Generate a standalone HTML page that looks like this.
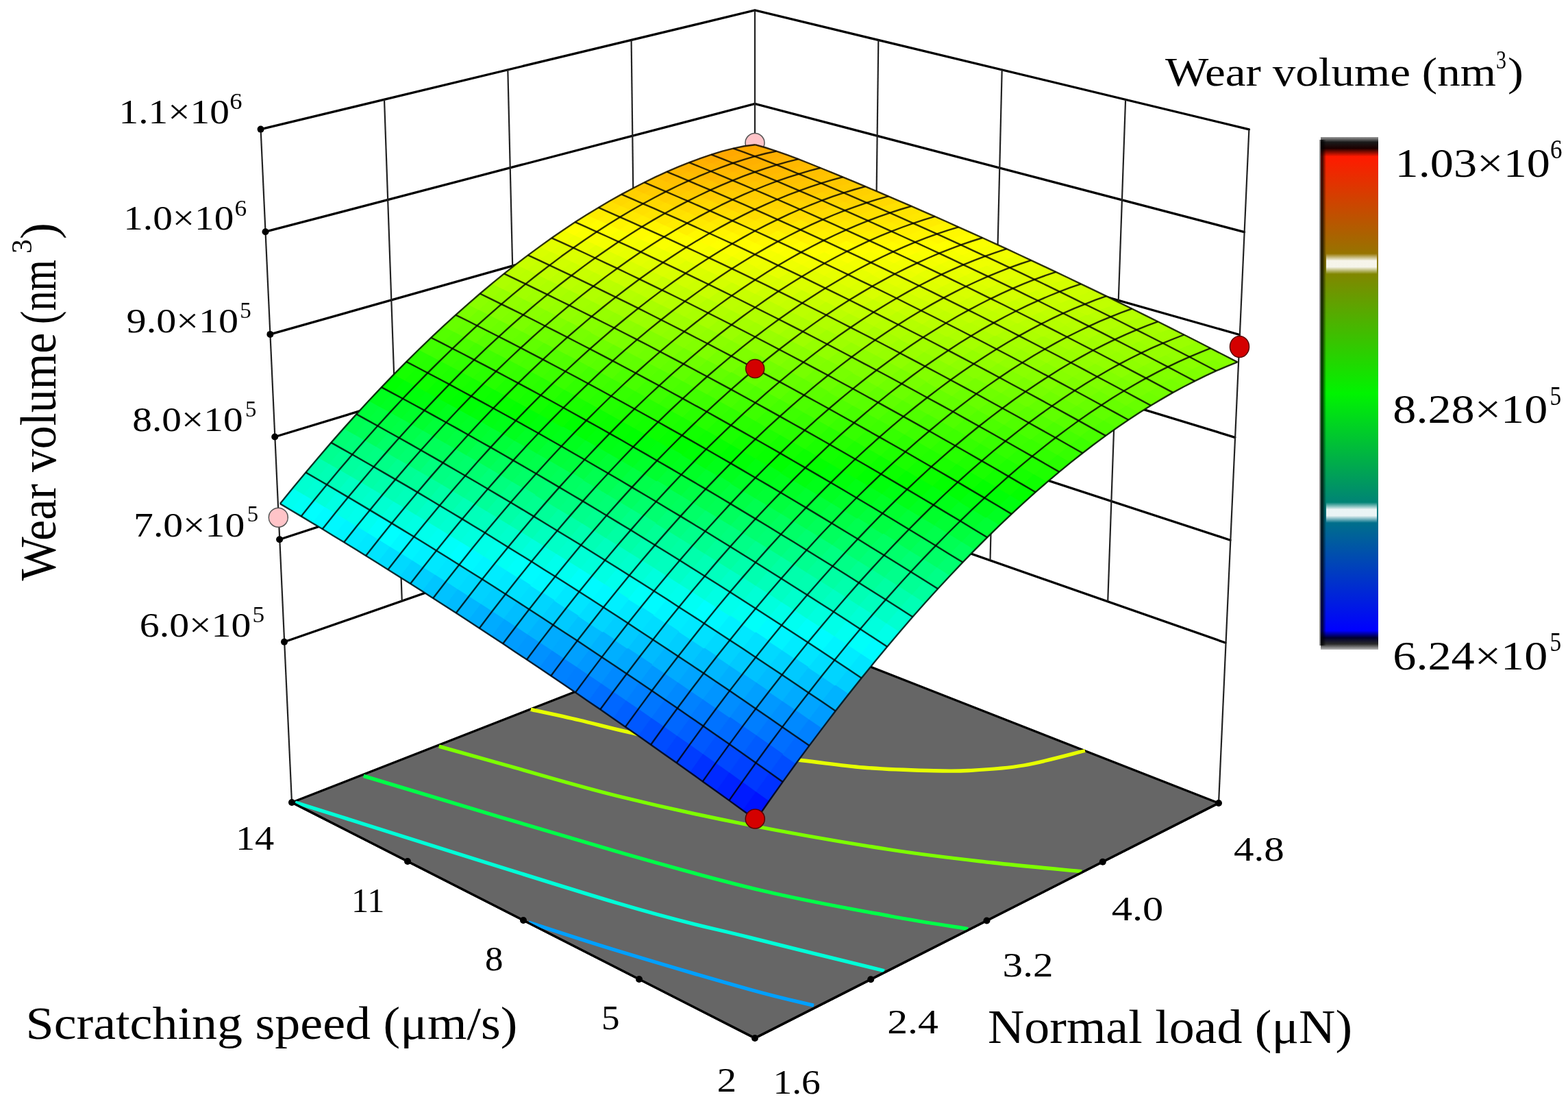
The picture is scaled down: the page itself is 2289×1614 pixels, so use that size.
<!DOCTYPE html><html><head><meta charset="utf-8"><title>Wear volume response surface</title><style>html,body{margin:0;padding:0;background:#fff}svg{display:block}</style></head><body><svg width="2289" height="1614" viewBox="0 0 2289 1614">
<rect width="2289" height="1614" fill="#fff"/>
<g fill="none" stroke="#000" stroke-width="3.3" stroke-linecap="round">
<polyline points="415.0,936.8 1102.0,697.5 1789.0,938.0"/>
<polyline points="408.1,787.2 1102.0,561.0 1795.9,788.2"/>
<polyline points="401.2,637.5 1102.0,424.5 1802.8,638.3"/>
<polyline points="394.4,487.9 1102.0,288.0 1809.6,488.5"/>
<polyline points="387.5,338.2 1102.0,151.5 1816.5,338.6"/>
<polyline points="380.6,188.6 1102.0,15.0 1823.4,188.8"/>
</g>
<g fill="none" stroke="#222" stroke-width="2.2">
<line x1="561.0" y1="145.2" x2="586.8" y2="877.0"/>
<line x1="1282.3" y1="58.5" x2="1273.8" y2="757.6"/>
<line x1="741.3" y1="101.8" x2="758.5" y2="817.1"/>
<line x1="1462.7" y1="101.9" x2="1445.5" y2="817.8"/>
<line x1="921.6" y1="58.4" x2="930.2" y2="757.3"/>
<line x1="1643.1" y1="145.4" x2="1617.2" y2="877.9"/>
<line x1="380.6" y1="188.6" x2="426.0" y2="1171.0"/>
<line x1="1823.4" y1="188.8" x2="1779.0" y2="1172.0"/>
<line x1="1102.0" y1="15.0" x2="1102.0" y2="907.0"/>
</g>
<g fill="#000">
<circle cx="415.0" cy="936.8" r="5"/>
<circle cx="408.1" cy="787.2" r="5"/>
<circle cx="401.2" cy="637.5" r="5"/>
<circle cx="394.4" cy="487.9" r="5"/>
<circle cx="387.5" cy="338.2" r="5"/>
<circle cx="380.6" cy="188.6" r="5"/>
</g>
<polygon points="426.0,1171.0 1102.0,1515.0 1779.0,1172.0 1102.0,907.0" fill="#666666" stroke="#000" stroke-width="3.2" stroke-linejoin="round"/>
<g fill="none" stroke-width="5.3">
<path d="M774.8 1035.3C786.7 1037.9 822.1 1045.4 846.0 1051.0C869.9 1056.6 886.1 1061.4 918.4 1068.7C950.7 1076.0 998.2 1088.2 1040.0 1095.0C1081.8 1101.8 1132.3 1105.3 1169.0 1109.5C1205.7 1113.7 1229.2 1117.5 1260.0 1120.0C1290.8 1122.5 1328.3 1123.8 1354.0 1124.5C1379.7 1125.2 1390.7 1125.8 1414.0 1124.5C1437.3 1123.2 1465.7 1121.8 1494.0 1117.0C1522.3 1112.2 1569.0 1099.1 1584.0 1095.5" stroke="#e6ff00"/>
<path d="M640.8 1089.1C657.3 1093.8 696.8 1105.0 740.0 1117.0C783.2 1129.0 842.3 1147.0 900.0 1161.2C957.7 1175.5 1019.3 1189.4 1086.0 1202.5C1152.7 1215.6 1239.3 1230.6 1300.0 1240.0C1360.7 1249.4 1403.5 1253.7 1450.0 1259.0C1496.5 1264.3 1557.7 1269.6 1579.2 1271.7" stroke="#7dff00"/>
<path d="M530.7 1132.4C592.2 1150.8 802.8 1214.6 900.0 1242.5C997.2 1270.4 1047.3 1284.2 1114.0 1300.0C1180.7 1315.8 1250.1 1327.8 1300.0 1337.0C1349.9 1346.2 1394.3 1352.4 1413.2 1355.5" stroke="#00ff48"/>
<path d="M431.0 1171.0C509.2 1195.4 789.4 1284.7 900.0 1317.5C1010.6 1350.3 1029.4 1351.6 1094.6 1368.1C1159.8 1384.6 1258.3 1408.6 1291.0 1416.7" stroke="#00ffd8"/>
<path d="M771.8 1346.0C793.2 1352.8 846.2 1370.7 900.0 1387.0C953.8 1403.3 1046.6 1430.6 1094.6 1444.0C1142.6 1457.4 1172.4 1463.4 1188.0 1467.3" stroke="#00a0ff"/>
</g>
<polyline points="426.0,1171.0 1102.0,1515.0 1779.0,1172.0" fill="none" stroke="#000" stroke-width="3.2" stroke-linejoin="round"/>
<g fill="#000">
<circle cx="426.0" cy="1171.0" r="5"/>
<circle cx="1779.0" cy="1172.0" r="5"/>
<circle cx="595.0" cy="1257.0" r="5"/>
<circle cx="1609.8" cy="1257.8" r="5"/>
<circle cx="764.0" cy="1343.0" r="5"/>
<circle cx="1440.5" cy="1343.5" r="5"/>
<circle cx="933.0" cy="1429.0" r="5"/>
<circle cx="1271.2" cy="1429.2" r="5"/>
<circle cx="1102.0" cy="1515.0" r="5"/>
</g>
<circle cx="1102" cy="208.5" r="14" fill="#ffc4c8" stroke="#555" stroke-width="1.5"/>
<g stroke-width="1.2" stroke-linejoin="round">
<path fill="#0013ff" stroke="#0013ff" d="M1103.6 1196.5 L1123.1 1168.5 1103.5 1154.4 1083.9 1182.2Z"/>
<path fill="#001bff" stroke="#001bff" d="M1083.9 1182.2 L1103.5 1154.4 1084.0 1140.4 1064.4 1168.1Z"/>
<path fill="#0022ff" stroke="#0022ff" d="M1064.4 1168.1 L1084.0 1140.4 1064.6 1126.6 1045.1 1154.2Z"/>
<path fill="#002aff" stroke="#002aff" d="M1045.1 1154.2 L1064.6 1126.6 1045.3 1112.9 1025.8 1140.4Z"/>
<path fill="#0031ff" stroke="#0031ff" d="M1025.8 1140.4 L1045.3 1112.9 1026.2 1099.4 1006.7 1126.7ZM1123.1 1168.5 L1142.6 1141.1 1123.0 1127.1 1103.5 1154.4Z"/>
<path fill="#003dff" stroke="#003dff" d="M1006.7 1126.7 L1026.2 1099.4 1007.2 1086.1 987.7 1113.2Z"/>
<path fill="#0044ff" stroke="#0044ff" d="M987.7 1113.2 L1007.2 1086.1 988.3 1072.9 968.8 1099.9Z"/>
<path fill="#004cff" stroke="#004cff" d="M968.8 1099.9 L988.3 1072.9 969.5 1059.8 950.1 1086.7ZM1142.6 1141.1 L1162.0 1114.3 1142.4 1100.5 1123.0 1127.1Z"/>
<path fill="#0050ff" stroke="#0050ff" d="M950.1 1086.7 L969.5 1059.8 950.9 1046.9 931.4 1073.6ZM1045.3 1112.9 L1064.8 1086.1 1045.6 1072.7 1026.2 1099.4Z"/>
<path fill="#0058ff" stroke="#0058ff" d="M931.4 1073.6 L950.9 1046.9 932.3 1034.1 912.9 1060.7ZM1026.2 1099.4 L1045.6 1072.7 1026.6 1059.5 1007.2 1086.1Z"/>
<path fill="#005fff" stroke="#005fff" d="M912.9 1060.7 L932.3 1034.1 913.9 1021.5 894.5 1048.0ZM1007.2 1086.1 L1026.6 1059.5 1007.6 1046.4 988.3 1072.9Z"/>
<path fill="#0067ff" stroke="#0067ff" d="M894.5 1048.0 L913.9 1021.5 895.6 1009.0 876.3 1035.3ZM988.3 1072.9 L1007.6 1046.4 988.9 1033.5 969.5 1059.8ZM1162.0 1114.3 L1181.4 1088.1 1161.7 1074.4 1142.4 1100.5Z"/>
<path fill="#006eff" stroke="#006eff" d="M876.3 1035.3 L895.6 1009.0 877.4 996.6 858.1 1022.9ZM969.5 1059.8 L988.9 1033.5 970.2 1020.7 950.9 1046.9ZM1142.4 1100.5 L1161.7 1074.4 1142.1 1060.9 1122.8 1086.8Z"/>
<path fill="#0076ff" stroke="#0076ff" d="M858.1 1022.9 L877.4 996.6 859.4 984.4 840.0 1010.5ZM950.9 1046.9 L970.2 1020.7 951.6 1008.0 932.3 1034.1ZM1122.8 1086.8 L1142.1 1060.9 1122.7 1047.5 1103.4 1073.2Z"/>
<path fill="#007eff" stroke="#007eff" d="M840.0 1010.5 L859.4 984.4 841.4 972.3 822.1 998.3ZM932.3 1034.1 L951.6 1008.0 933.2 995.5 913.9 1021.5ZM1103.4 1073.2 L1122.7 1047.5 1103.3 1034.2 1084.1 1059.9Z"/>
<path fill="#0081ff" stroke="#0081ff" d="M822.1 998.3 L841.4 972.3 823.6 960.4 804.3 986.3ZM1007.6 1046.4 L1026.9 1020.6 1008.1 1007.8 988.9 1033.5ZM1181.4 1088.1 L1200.6 1062.6 1180.9 1049.0 1161.7 1074.4Z"/>
<path fill="#0089ff" stroke="#0089ff" d="M804.3 986.3 L823.6 960.4 805.8 948.6 786.6 974.3ZM895.6 1009.0 L914.9 983.2 896.7 971.0 877.4 996.6ZM988.9 1033.5 L1008.1 1007.8 989.4 995.1 970.2 1020.7ZM1161.7 1074.4 L1180.9 1049.0 1161.3 1035.6 1142.1 1060.9Z"/>
<path fill="#0091ff" stroke="#0091ff" d="M786.6 974.3 L805.8 948.6 788.2 936.9 769.0 962.5ZM877.4 996.6 L896.7 971.0 878.6 958.9 859.4 984.4ZM970.2 1020.7 L989.4 995.1 970.9 982.6 951.6 1008.0ZM1142.1 1060.9 L1161.3 1035.6 1141.8 1022.3 1122.7 1047.5Z"/>
<path fill="#0098ff" stroke="#0098ff" d="M769.0 962.5 L788.2 936.9 770.7 925.4 751.5 950.9ZM859.4 984.4 L878.6 958.9 860.6 946.9 841.4 972.3ZM951.6 1008.0 L970.9 982.6 952.4 970.2 933.2 995.5ZM1122.7 1047.5 L1141.8 1022.3 1122.5 1009.2 1103.3 1034.2Z"/>
<path fill="#009cff" stroke="#009cff" d="M751.5 950.9 L770.7 925.4 753.4 914.0 734.2 939.3ZM1026.9 1020.6 L1046.1 995.3 1027.3 982.6 1008.1 1007.8ZM1200.6 1062.6 L1219.7 1037.6 1200.0 1024.1 1180.9 1049.0Z"/>
<path fill="#00a4ff" stroke="#00a4ff" d="M734.2 939.3 L753.4 914.0 736.1 902.7 716.9 927.9ZM1008.1 1007.8 L1027.3 982.6 1008.6 970.1 989.4 995.1ZM1180.9 1049.0 L1200.0 1024.1 1180.4 1010.9 1161.3 1035.6Z"/>
<path fill="#00abff" stroke="#00abff" d="M716.9 927.9 L736.1 902.7 718.9 891.6 699.8 916.7ZM805.8 948.6 L825.0 923.4 807.4 911.9 788.2 936.9ZM989.4 995.1 L1008.6 970.1 990.0 957.7 970.9 982.6ZM1161.3 1035.6 L1180.4 1010.9 1160.9 997.7 1141.8 1022.3Z"/>
<path fill="#00afff" stroke="#00afff" d="M699.8 916.7 L718.9 891.6 701.8 880.5 682.7 905.5ZM896.7 971.0 L915.9 945.9 897.7 933.9 878.6 958.9ZM1065.1 1008.1 L1084.2 983.4 1065.2 970.7 1046.1 995.3Z"/>
<path fill="#00b7ff" stroke="#00b7ff" d="M682.7 905.5 L701.8 880.5 684.9 869.7 665.8 894.5ZM1046.1 995.3 L1065.2 970.7 1046.4 958.1 1027.3 982.6Z"/>
<path fill="#00bbff" stroke="#00bbff" d="M665.8 894.5 L684.9 869.7 668.0 858.9 649.0 883.7ZM770.7 925.4 L789.9 900.5 772.5 889.2 753.4 914.0ZM860.6 946.9 L879.8 922.1 861.9 910.4 842.8 935.1ZM952.4 970.2 L971.5 945.5 953.2 933.4 934.1 958.0ZM1122.5 1009.2 L1141.6 984.7 1122.3 971.9 1103.3 996.2ZM1200.0 1024.1 L1219.0 999.9 1199.4 986.7 1180.4 1010.9Z"/>
<path fill="#00c2ff" stroke="#00c2ff" d="M649.0 883.7 L668.0 858.9 651.3 848.3 632.2 872.9ZM842.8 935.1 L861.9 910.4 844.1 898.8 825.0 923.4ZM934.1 958.0 L953.2 933.4 934.9 921.4 915.9 945.9ZM1103.3 996.2 L1122.3 971.9 1103.2 959.2 1084.2 983.4ZM1180.4 1010.9 L1199.4 986.7 1179.9 973.7 1160.9 997.7Z"/>
<path fill="#00c6ff" stroke="#00c6ff" d="M632.2 872.9 L651.3 848.3 634.7 837.8 615.6 862.3ZM736.1 902.7 L755.2 878.0 738.0 867.0 718.9 891.6ZM1008.6 970.1 L1027.7 945.7 1009.1 933.4 990.0 957.7Z"/>
<path fill="#00ceff" stroke="#00ceff" d="M615.6 862.3 L634.7 837.8 618.1 827.4 599.1 851.8ZM718.9 891.6 L738.0 867.0 720.9 856.1 701.8 880.5ZM807.4 911.9 L826.5 887.4 808.9 876.1 789.9 900.5ZM897.7 933.9 L916.8 909.5 898.8 897.8 879.8 922.1ZM990.0 957.7 L1009.1 933.4 990.6 921.3 971.5 945.5ZM1238.7 1013.2 L1257.6 989.5 1237.9 976.3 1219.0 999.9Z"/>
<path fill="#00d2ff" stroke="#00d2ff" d="M599.1 851.8 L618.1 827.4 601.7 817.1 582.7 841.4ZM701.8 880.5 L720.9 856.1 703.9 845.3 684.9 869.7ZM1065.2 970.7 L1084.3 946.6 1065.4 934.2 1046.4 958.1ZM1141.6 984.7 L1160.5 960.9 1141.3 948.1 1122.3 971.9Z"/>
<path fill="#00d9ff" stroke="#00d9ff" d="M582.7 841.4 L601.7 817.1 585.4 807.0 566.4 831.2ZM684.9 869.7 L703.9 845.3 687.0 834.7 668.0 858.9ZM1046.4 958.1 L1065.4 934.2 1046.7 921.9 1027.7 945.7ZM1122.3 971.9 L1141.3 948.1 1122.2 935.6 1103.2 959.2Z"/>
<path fill="#00ddff" stroke="#00ddff" d="M566.4 831.2 L585.4 807.0 569.1 796.9 550.2 821.0ZM668.0 858.9 L687.0 834.7 670.3 824.2 651.3 848.3ZM772.5 889.2 L791.5 864.9 774.2 853.9 755.2 878.0ZM861.9 910.4 L880.9 886.3 863.1 874.8 844.1 898.8ZM953.2 933.4 L972.2 909.3 953.9 897.5 934.9 921.4ZM1199.4 986.7 L1218.3 963.2 1198.8 950.3 1179.9 973.7Z"/>
<path fill="#00e5ff" stroke="#00e5ff" d="M550.2 821.0 L569.1 796.9 553.0 787.0 534.1 811.0ZM651.3 848.3 L670.3 824.2 653.6 813.8 634.7 837.8ZM844.1 898.8 L863.1 874.8 845.5 863.5 826.5 887.4ZM1179.9 973.7 L1198.8 950.3 1179.4 937.6 1160.5 960.9ZM1257.6 989.5 L1276.5 966.3 1256.7 953.2 1237.9 976.3Z"/>
<path fill="#00e8ff" stroke="#00e8ff" d="M534.1 811.0 L553.0 787.0 537.0 777.2 518.1 801.1ZM634.7 837.8 L653.6 813.8 637.1 803.5 618.1 827.4ZM738.0 867.0 L757.0 843.0 739.9 832.2 720.9 856.1ZM826.5 887.4 L845.5 863.5 827.9 852.3 808.9 876.1ZM916.8 909.5 L935.8 885.7 917.8 874.2 898.8 897.8ZM1009.1 933.4 L1028.0 909.7 1009.5 897.7 990.6 921.3ZM1084.3 946.6 L1103.2 923.1 1084.3 910.8 1065.4 934.2Z"/>
<path fill="#00ecff" stroke="#00ecff" d="M518.1 801.1 L537.0 777.2 521.1 767.6 502.2 791.3ZM720.9 856.1 L739.9 832.2 722.9 821.6 703.9 845.3ZM990.6 921.3 L1009.5 897.7 991.1 885.9 972.2 909.3ZM1160.5 960.9 L1179.4 937.6 1160.2 925.0 1141.3 948.1ZM1237.9 976.3 L1256.7 953.2 1237.1 940.3 1218.3 963.2Z"/>
<path fill="#00f4ff" stroke="#00f4ff" d="M502.2 791.3 L521.1 767.6 505.3 758.0 486.4 781.7ZM601.7 817.1 L620.6 793.3 604.3 783.3 585.4 807.0ZM703.9 845.3 L722.9 821.6 706.0 811.0 687.0 834.7ZM972.2 909.3 L991.1 885.9 972.9 874.1 953.9 897.5ZM1141.3 948.1 L1160.2 925.0 1141.0 912.5 1122.2 935.6ZM1218.3 963.2 L1237.1 940.3 1217.6 927.5 1198.8 950.3Z"/>
<path fill="#00f8ff" stroke="#00f8ff" d="M486.4 781.7 L505.3 758.0 489.5 748.6 470.7 772.1ZM585.4 807.0 L604.3 783.3 588.0 773.4 569.1 796.9ZM687.0 834.7 L706.0 811.0 689.2 800.6 670.3 824.2ZM791.5 864.9 L810.5 841.3 793.1 830.4 774.2 853.9ZM880.9 886.3 L899.9 862.7 882.1 851.4 863.1 874.8ZM1046.7 921.9 L1065.6 898.6 1046.9 886.6 1028.0 909.7Z"/>
<path fill="#00fbff" stroke="#00fbff" d="M470.7 772.1 L489.5 748.6 473.9 739.3 455.1 762.7ZM774.2 853.9 L793.1 830.4 775.9 819.6 757.0 843.0ZM863.1 874.8 L882.1 851.4 864.4 840.2 845.5 863.5ZM953.9 897.5 L972.9 874.1 954.7 862.5 935.8 885.7ZM1122.2 935.6 L1141.0 912.5 1122.0 900.2 1103.2 923.1ZM1198.8 950.3 L1217.6 927.5 1198.2 914.9 1179.4 937.6ZM1276.5 966.3 L1295.2 943.7 1275.4 930.8 1256.7 953.2Z"/>
<path fill="#00ffff" stroke="#00ffff" d="M455.1 762.7 L473.9 739.3 458.4 730.1 439.6 753.4ZM569.1 796.9 L588.0 773.4 571.9 763.6 553.0 787.0ZM670.3 824.2 L689.2 800.6 672.5 790.3 653.6 813.8ZM1028.0 909.7 L1046.9 886.6 1028.4 874.7 1009.5 897.7Z"/>
<path fill="#00fff5" stroke="#00fff5" d="M439.6 753.4 L458.4 730.1 442.9 721.0 424.2 744.2ZM739.9 832.2 L758.8 808.9 741.7 798.4 722.9 821.6ZM1009.5 897.7 L1028.4 874.7 1010.0 863.0 991.1 885.9Z"/>
<path fill="#00fff1" stroke="#00fff1" d="M424.2 744.2 L442.9 721.0 427.6 712.0 408.9 735.1ZM537.0 777.2 L555.8 753.9 539.9 744.4 521.1 767.6ZM637.1 803.5 L655.9 780.2 639.5 770.1 620.6 793.3ZM827.9 852.3 L846.8 829.1 829.3 818.2 810.5 841.3ZM917.8 874.2 L936.7 851.0 918.7 839.7 899.9 862.7ZM1084.3 910.8 L1103.1 888.0 1084.4 876.0 1065.6 898.6ZM1160.2 925.0 L1178.9 902.4 1159.8 890.1 1141.0 912.5ZM1237.1 940.3 L1255.8 918.0 1236.3 905.3 1217.6 927.5Z"/>
<path fill="#0039ff" stroke="#0039ff" d="M1103.5 1154.4 L1123.0 1127.1 1103.4 1113.3 1084.0 1140.4Z"/>
<path fill="#0041ff" stroke="#0041ff" d="M1084.0 1140.4 L1103.4 1113.3 1084.0 1099.6 1064.6 1126.6Z"/>
<path fill="#0048ff" stroke="#0048ff" d="M1064.6 1126.6 L1084.0 1099.6 1064.8 1086.1 1045.3 1112.9Z"/>
<path fill="#0085ff" stroke="#0085ff" d="M913.9 1021.5 L933.2 995.5 914.9 983.2 895.6 1009.0ZM1084.1 1059.9 L1103.3 1034.2 1084.1 1021.1 1064.9 1046.6Z"/>
<path fill="#00a0ff" stroke="#00a0ff" d="M841.4 972.3 L860.6 946.9 842.8 935.1 823.6 960.4ZM933.2 995.5 L952.4 970.2 934.1 958.0 914.9 983.2ZM1103.3 1034.2 L1122.5 1009.2 1103.3 996.2 1084.1 1021.1Z"/>
<path fill="#00a8ff" stroke="#00a8ff" d="M823.6 960.4 L842.8 935.1 825.0 923.4 805.8 948.6ZM914.9 983.2 L934.1 958.0 915.9 945.9 896.7 971.0ZM1084.1 1021.1 L1103.3 996.2 1084.2 983.4 1065.1 1008.1Z"/>
<path fill="#00b3ff" stroke="#00b3ff" d="M788.2 936.9 L807.4 911.9 789.9 900.5 770.7 925.4ZM878.6 958.9 L897.7 933.9 879.8 922.1 860.6 946.9ZM970.9 982.6 L990.0 957.7 971.5 945.5 952.4 970.2ZM1141.8 1022.3 L1160.9 997.7 1141.6 984.7 1122.5 1009.2ZM1219.7 1037.6 L1238.7 1013.2 1219.0 999.9 1200.0 1024.1Z"/>
<path fill="#00beff" stroke="#00beff" d="M753.4 914.0 L772.5 889.2 755.2 878.0 736.1 902.7ZM1027.3 982.6 L1046.4 958.1 1027.7 945.7 1008.6 970.1Z"/>
<path fill="#00f0ff" stroke="#00f0ff" d="M618.1 827.4 L637.1 803.5 620.6 793.3 601.7 817.1ZM808.9 876.1 L827.9 852.3 810.5 841.3 791.5 864.9ZM898.8 897.8 L917.8 874.2 899.9 862.7 880.9 886.3ZM1065.4 934.2 L1084.3 910.8 1065.6 898.6 1046.7 921.9Z"/>
<path fill="#00fffa" stroke="#00fffa" d="M553.0 787.0 L571.9 763.6 555.8 753.9 537.0 777.2ZM653.6 813.8 L672.5 790.3 655.9 780.2 637.1 803.5ZM757.0 843.0 L775.9 819.6 758.8 808.9 739.9 832.2ZM845.5 863.5 L864.4 840.2 846.8 829.1 827.9 852.3ZM935.8 885.7 L954.7 862.5 936.7 851.0 917.8 874.2ZM1103.2 923.1 L1122.0 900.2 1103.1 888.0 1084.3 910.8ZM1179.4 937.6 L1198.2 914.9 1178.9 902.4 1160.2 925.0ZM1256.7 953.2 L1275.4 930.8 1255.8 918.0 1237.1 940.3Z"/>
<path fill="#00ffec" stroke="#00ffec" d="M521.1 767.6 L539.9 744.4 524.0 734.9 505.3 758.0ZM620.6 793.3 L639.5 770.1 623.1 760.2 604.3 783.3ZM722.9 821.6 L741.7 798.4 724.8 787.9 706.0 811.0ZM810.5 841.3 L829.3 818.2 812.0 807.4 793.1 830.4ZM899.9 862.7 L918.7 839.7 900.9 828.5 882.1 851.4ZM991.1 885.9 L1010.0 863.0 991.7 851.4 972.9 874.1ZM1065.6 898.6 L1084.4 876.0 1065.7 864.1 1046.9 886.6Z"/>
<path fill="#00ffe8" stroke="#00ffe8" d="M505.3 758.0 L524.0 734.9 508.3 725.6 489.5 748.6ZM706.0 811.0 L724.8 787.9 708.0 777.6 689.2 800.6ZM972.9 874.1 L991.7 851.4 973.5 839.9 954.7 862.5ZM1141.0 912.5 L1159.8 890.1 1140.8 877.9 1122.0 900.2ZM1217.6 927.5 L1236.3 905.3 1216.9 892.8 1198.2 914.9ZM1295.2 943.7 L1313.8 921.7 1294.0 908.9 1275.4 930.8Z"/>
<path fill="#00ffe3" stroke="#00ffe3" d="M489.5 748.6 L508.3 725.6 492.6 716.4 473.9 739.3ZM604.3 783.3 L623.1 760.2 606.8 750.4 588.0 773.4ZM793.1 830.4 L812.0 807.4 794.7 796.7 775.9 819.6ZM882.1 851.4 L900.9 828.5 883.2 817.4 864.4 840.2ZM1046.9 886.6 L1065.7 864.1 1047.2 852.3 1028.4 874.7Z"/>
<path fill="#00ffda" stroke="#00ffda" d="M473.9 739.3 L492.6 716.4 477.1 707.3 458.4 730.1ZM571.9 763.6 L590.7 740.7 574.6 731.2 555.8 753.9ZM672.5 790.3 L691.3 767.5 674.7 757.4 655.9 780.2ZM864.4 840.2 L883.2 817.4 865.6 806.5 846.8 829.1ZM1028.4 874.7 L1047.2 852.3 1028.8 840.7 1010.0 863.0Z"/>
<path fill="#00ffd5" stroke="#00ffd5" d="M458.4 730.1 L477.1 707.3 461.6 698.3 442.9 721.0ZM758.8 808.9 L777.6 786.1 760.6 775.7 741.7 798.4ZM846.8 829.1 L865.6 806.5 848.1 795.6 829.3 818.2ZM936.7 851.0 L955.5 828.5 937.5 817.3 918.7 839.7ZM1103.1 888.0 L1121.9 865.8 1103.1 853.9 1084.4 876.0ZM1178.9 902.4 L1197.6 880.5 1178.4 868.2 1159.8 890.1ZM1255.8 918.0 L1274.4 896.2 1254.9 883.7 1236.3 905.3Z"/>
<path fill="#00ffd1" stroke="#00ffd1" d="M442.9 721.0 L461.6 698.3 446.3 689.4 427.6 712.0ZM555.8 753.9 L574.6 731.2 558.6 721.7 539.9 744.4ZM655.9 780.2 L674.7 757.4 658.2 747.5 639.5 770.1ZM1010.0 863.0 L1028.8 840.7 1010.5 829.2 991.7 851.4ZM1313.8 921.7 L1332.3 900.3 1312.5 887.6 1294.0 908.9Z"/>
<path fill="#0054ff" stroke="#0054ff" d="M1123.0 1127.1 L1142.4 1100.5 1122.8 1086.8 1103.4 1113.3Z"/>
<path fill="#005bff" stroke="#005bff" d="M1103.4 1113.3 L1122.8 1086.8 1103.4 1073.2 1084.0 1099.6Z"/>
<path fill="#0063ff" stroke="#0063ff" d="M1084.0 1099.6 L1103.4 1073.2 1084.1 1059.9 1064.8 1086.1Z"/>
<path fill="#006bff" stroke="#006bff" d="M1064.8 1086.1 L1084.1 1059.9 1064.9 1046.6 1045.6 1072.7Z"/>
<path fill="#0072ff" stroke="#0072ff" d="M1045.6 1072.7 L1064.9 1046.6 1045.9 1033.5 1026.6 1059.5Z"/>
<path fill="#007aff" stroke="#007aff" d="M1026.6 1059.5 L1045.9 1033.5 1026.9 1020.6 1007.6 1046.4Z"/>
<path fill="#00caff" stroke="#00caff" d="M825.0 923.4 L844.1 898.8 826.5 887.4 807.4 911.9ZM915.9 945.9 L934.9 921.4 916.8 909.5 897.7 933.9ZM1084.2 983.4 L1103.2 959.2 1084.3 946.6 1065.2 970.7ZM1160.9 997.7 L1179.9 973.7 1160.5 960.9 1141.6 984.7Z"/>
<path fill="#00d5ff" stroke="#00d5ff" d="M789.9 900.5 L808.9 876.1 791.5 864.9 772.5 889.2ZM879.8 922.1 L898.8 897.8 880.9 886.3 861.9 910.4ZM971.5 945.5 L990.6 921.3 972.2 909.3 953.2 933.4ZM1219.0 999.9 L1237.9 976.3 1218.3 963.2 1199.4 986.7Z"/>
<path fill="#00e1ff" stroke="#00e1ff" d="M755.2 878.0 L774.2 853.9 757.0 843.0 738.0 867.0ZM934.9 921.4 L953.9 897.5 935.8 885.7 916.8 909.5ZM1027.7 945.7 L1046.7 921.9 1028.0 909.7 1009.1 933.4ZM1103.2 959.2 L1122.2 935.6 1103.2 923.1 1084.3 946.6Z"/>
<path fill="#00ffde" stroke="#00ffde" d="M588.0 773.4 L606.8 750.4 590.7 740.7 571.9 763.6ZM689.2 800.6 L708.0 777.6 691.3 767.5 672.5 790.3ZM775.9 819.6 L794.7 796.7 777.6 786.1 758.8 808.9ZM954.7 862.5 L973.5 839.9 955.5 828.5 936.7 851.0ZM1122.0 900.2 L1140.8 877.9 1121.9 865.8 1103.1 888.0ZM1198.2 914.9 L1216.9 892.8 1197.6 880.5 1178.9 902.4ZM1275.4 930.8 L1294.0 908.9 1274.4 896.2 1255.8 918.0Z"/>
<path fill="#00ffcc" stroke="#00ffcc" d="M539.9 744.4 L558.6 721.7 542.7 712.4 524.0 734.9ZM639.5 770.1 L658.2 747.5 641.8 737.7 623.1 760.2ZM741.7 798.4 L760.6 775.7 743.6 765.4 724.8 787.9ZM829.3 818.2 L848.1 795.6 830.8 785.0 812.0 807.4ZM918.7 839.7 L937.5 817.3 919.7 806.2 900.9 828.5ZM1084.4 876.0 L1103.1 853.9 1084.4 842.1 1065.7 864.1ZM1159.8 890.1 L1178.4 868.2 1159.4 856.2 1140.8 877.9ZM1236.3 905.3 L1254.9 883.7 1235.5 871.3 1216.9 892.8Z"/>
<path fill="#00ffc7" stroke="#00ffc7" d="M524.0 734.9 L542.7 712.4 527.0 703.2 508.3 725.6ZM623.1 760.2 L641.8 737.7 625.6 728.0 606.8 750.4ZM724.8 787.9 L743.6 765.4 726.8 755.2 708.0 777.6ZM812.0 807.4 L830.8 785.0 813.5 774.4 794.7 796.7ZM900.9 828.5 L919.7 806.2 902.0 795.2 883.2 817.4ZM991.7 851.4 L1010.5 829.2 992.3 817.8 973.5 839.9ZM1065.7 864.1 L1084.4 842.1 1065.9 830.5 1047.2 852.3ZM1294.0 908.9 L1312.5 887.6 1292.9 875.1 1274.4 896.2Z"/>
<path fill="#00ffc3" stroke="#00ffc3" d="M508.3 725.6 L527.0 703.2 511.3 694.0 492.6 716.4ZM1140.8 877.9 L1159.4 856.2 1140.5 844.2 1121.9 865.8ZM1216.9 892.8 L1235.5 871.3 1216.2 859.1 1197.6 880.5Z"/>
<path fill="#00ffba" stroke="#00ffba" d="M492.6 716.4 L511.3 694.0 495.7 685.0 477.1 707.3ZM590.7 740.7 L609.4 718.4 593.3 708.9 574.6 731.2ZM691.3 767.5 L710.1 745.2 693.5 735.2 674.7 757.4ZM955.5 828.5 L974.2 806.5 956.2 795.4 937.5 817.3ZM1121.9 865.8 L1140.5 844.2 1121.7 832.4 1103.1 853.9ZM1197.6 880.5 L1216.2 859.1 1197.0 847.0 1178.4 868.2Z"/>
<path fill="#00ffb5" stroke="#00ffb5" d="M477.1 707.3 L495.7 685.0 480.2 676.2 461.6 698.3ZM574.6 731.2 L593.3 708.9 577.3 699.6 558.6 721.7ZM674.7 757.4 L693.5 735.2 676.9 725.4 658.2 747.5ZM777.6 786.1 L796.3 763.9 779.3 753.6 760.6 775.7ZM865.6 806.5 L884.4 784.4 866.9 773.7 848.1 795.6ZM1028.8 840.7 L1047.4 818.9 1029.1 807.5 1010.5 829.2ZM1254.9 883.7 L1273.4 862.7 1253.9 850.4 1235.5 871.3ZM1332.3 900.3 L1350.7 879.5 1331.0 867.0 1312.5 887.6Z"/>
<path fill="#00ffb0" stroke="#00ffb0" d="M461.6 698.3 L480.2 676.2 464.9 667.4 446.3 689.4ZM760.6 775.7 L779.3 753.6 762.3 743.4 743.6 765.4ZM848.1 795.6 L866.9 773.7 849.5 763.1 830.8 785.0ZM937.5 817.3 L956.2 795.4 938.4 784.4 919.7 806.2ZM1103.1 853.9 L1121.7 832.4 1103.0 820.7 1084.4 842.1ZM1178.4 868.2 L1197.0 847.0 1178.0 835.0 1159.4 856.2Z"/>
<path fill="#008dff" stroke="#008dff" d="M1064.9 1046.6 L1084.1 1021.1 1065.1 1008.1 1045.9 1033.5Z"/>
<path fill="#0095ff" stroke="#0095ff" d="M1045.9 1033.5 L1065.1 1008.1 1046.1 995.3 1026.9 1020.6Z"/>
<path fill="#00ffbe" stroke="#00ffbe" d="M606.8 750.4 L625.6 728.0 609.4 718.4 590.7 740.7ZM708.0 777.6 L726.8 755.2 710.1 745.2 691.3 767.5ZM794.7 796.7 L813.5 774.4 796.3 763.9 777.6 786.1ZM883.2 817.4 L902.0 795.2 884.4 784.4 865.6 806.5ZM973.5 839.9 L992.3 817.8 974.2 806.5 955.5 828.5ZM1047.2 852.3 L1065.9 830.5 1047.4 818.9 1028.8 840.7ZM1274.4 896.2 L1292.9 875.1 1273.4 862.7 1254.9 883.7Z"/>
<path fill="#00ffac" stroke="#00ffac" d="M558.6 721.7 L577.3 699.6 561.4 690.4 542.7 712.4ZM658.2 747.5 L676.9 725.4 660.5 715.7 641.8 737.7ZM1010.5 829.2 L1029.1 807.5 1010.9 796.3 992.3 817.8ZM1084.4 842.1 L1103.0 820.7 1084.5 809.2 1065.9 830.5ZM1159.4 856.2 L1178.0 835.0 1159.0 823.2 1140.5 844.2ZM1235.5 871.3 L1253.9 850.4 1234.6 838.3 1216.2 859.1ZM1312.5 887.6 L1331.0 867.0 1311.3 854.5 1292.9 875.1Z"/>
<path fill="#00ffa7" stroke="#00ffa7" d="M542.7 712.4 L561.4 690.4 545.6 681.2 527.0 703.2ZM641.8 737.7 L660.5 715.7 644.2 706.1 625.6 728.0ZM743.6 765.4 L762.3 743.4 745.5 733.3 726.8 755.2ZM830.8 785.0 L849.5 763.1 832.2 752.6 813.5 774.4ZM919.7 806.2 L938.4 784.4 920.7 773.6 902.0 795.2Z"/>
<path fill="#00ffa3" stroke="#00ffa3" d="M527.0 703.2 L545.6 681.2 529.9 672.2 511.3 694.0ZM726.8 755.2 L745.5 733.3 728.8 723.4 710.1 745.2ZM813.5 774.4 L832.2 752.6 815.0 742.3 796.3 763.9ZM902.0 795.2 L920.7 773.6 903.0 762.9 884.4 784.4ZM992.3 817.8 L1010.9 796.3 992.8 785.1 974.2 806.5ZM1065.9 830.5 L1084.5 809.2 1066.0 797.8 1047.4 818.9ZM1140.5 844.2 L1159.0 823.2 1140.2 811.5 1121.7 832.4ZM1216.2 859.1 L1234.6 838.3 1215.5 826.3 1197.0 847.0ZM1292.9 875.1 L1311.3 854.5 1291.7 842.2 1273.4 862.7Z"/>
<path fill="#00ff9e" stroke="#00ff9e" d="M511.3 694.0 L529.9 672.2 514.3 663.3 495.7 685.0ZM625.6 728.0 L644.2 706.1 628.0 696.6 609.4 718.4ZM974.2 806.5 L992.8 785.1 974.9 774.1 956.2 795.4ZM1350.7 879.5 L1369.1 859.3 1349.3 846.8 1331.0 867.0Z"/>
<path fill="#00ff95" stroke="#00ff95" d="M495.7 685.0 L514.3 663.3 498.8 654.6 480.2 676.2ZM593.3 708.9 L611.9 687.3 595.9 678.0 577.3 699.6ZM693.5 735.2 L712.1 713.5 695.6 703.8 676.9 725.4ZM956.2 795.4 L974.9 774.1 957.0 763.3 938.4 784.4ZM1331.0 867.0 L1349.3 846.8 1329.6 834.5 1311.3 854.5Z"/>
<path fill="#00ff90" stroke="#00ff90" d="M480.2 676.2 L498.8 654.6 483.4 645.9 464.9 667.4ZM577.3 699.6 L595.9 678.0 580.0 668.9 561.4 690.4ZM676.9 725.4 L695.6 703.8 679.2 694.2 660.5 715.7ZM779.3 753.6 L797.9 732.1 781.0 722.0 762.3 743.4ZM866.9 773.7 L885.5 752.3 868.1 741.8 849.5 763.1ZM1029.1 807.5 L1047.7 786.5 1029.5 775.3 1010.9 796.3ZM1103.0 820.7 L1121.6 799.9 1103.0 788.5 1084.5 809.2ZM1178.0 835.0 L1196.4 814.4 1177.5 802.7 1159.0 823.2ZM1253.9 850.4 L1272.3 830.1 1253.0 818.0 1234.6 838.3Z"/>
<path fill="#00ff99" stroke="#00ff99" d="M609.4 718.4 L628.0 696.6 611.9 687.3 593.3 708.9ZM710.1 745.2 L728.8 723.4 712.1 713.5 693.5 735.2ZM796.3 763.9 L815.0 742.3 797.9 732.1 779.3 753.6ZM884.4 784.4 L903.0 762.9 885.5 752.3 866.9 773.7ZM1047.4 818.9 L1066.0 797.8 1047.7 786.5 1029.1 807.5ZM1121.7 832.4 L1140.2 811.5 1121.6 799.9 1103.0 820.7ZM1197.0 847.0 L1215.5 826.3 1196.4 814.4 1178.0 835.0ZM1273.4 862.7 L1291.7 842.2 1272.3 830.1 1253.9 850.4Z"/>
<path fill="#00ff87" stroke="#00ff87" d="M561.4 690.4 L580.0 668.9 564.2 659.9 545.6 681.2ZM660.5 715.7 L679.2 694.2 662.8 684.7 644.2 706.1ZM745.5 733.3 L764.1 712.0 747.4 702.2 728.8 723.4ZM920.7 773.6 L939.2 752.5 921.6 741.9 903.0 762.9ZM1084.5 809.2 L1103.0 788.5 1084.5 777.2 1066.0 797.8ZM1159.0 823.2 L1177.5 802.7 1158.7 791.1 1140.2 811.5ZM1234.6 838.3 L1253.0 818.0 1233.8 806.2 1215.5 826.3ZM1369.1 859.3 L1387.3 839.7 1367.5 827.3 1349.3 846.8Z"/>
<path fill="#00ff82" stroke="#00ff82" d="M545.6 681.2 L564.2 659.9 548.5 651.0 529.9 672.2ZM644.2 706.1 L662.8 684.7 646.6 675.4 628.0 696.6ZM832.2 752.6 L850.8 731.4 833.6 721.2 815.0 742.3ZM992.8 785.1 L1011.4 764.3 993.4 753.4 974.9 774.1ZM1215.5 826.3 L1233.8 806.2 1214.8 794.4 1196.4 814.4ZM1291.7 842.2 L1310.0 822.3 1290.6 810.3 1272.3 830.1Z"/>
<path fill="#00ff7e" stroke="#00ff7e" d="M529.9 672.2 L548.5 651.0 532.8 642.2 514.3 663.3ZM628.0 696.6 L646.6 675.4 630.5 666.1 611.9 687.3ZM728.8 723.4 L747.4 702.2 730.7 692.4 712.1 713.5ZM815.0 742.3 L833.6 721.2 816.5 711.1 797.9 732.1ZM903.0 762.9 L921.6 741.9 904.1 731.4 885.5 752.3ZM1066.0 797.8 L1084.5 777.2 1066.2 766.0 1047.7 786.5ZM1140.2 811.5 L1158.7 791.1 1140.0 779.7 1121.6 799.9ZM1349.3 846.8 L1367.5 827.3 1347.8 815.1 1329.6 834.5Z"/>
<path fill="#00ff79" stroke="#00ff79" d="M514.3 663.3 L532.8 642.2 517.3 633.5 498.8 654.6ZM712.1 713.5 L730.7 692.4 714.1 682.8 695.6 703.8ZM974.9 774.1 L993.4 753.4 975.5 742.7 957.0 763.3ZM1047.7 786.5 L1066.2 766.0 1048.0 755.0 1029.5 775.3ZM1196.4 814.4 L1214.8 794.4 1195.8 782.8 1177.5 802.7ZM1272.3 830.1 L1290.6 810.3 1271.3 798.4 1253.0 818.0Z"/>
<path fill="#00ff74" stroke="#00ff74" d="M498.8 654.6 L517.3 633.5 501.9 624.9 483.4 645.9ZM611.9 687.3 L630.5 666.1 614.4 657.0 595.9 678.0ZM797.9 732.1 L816.5 711.1 799.5 701.1 781.0 722.0ZM885.5 752.3 L904.1 731.4 886.6 721.0 868.1 741.8ZM1121.6 799.9 L1140.0 779.7 1121.4 768.3 1103.0 788.5ZM1329.6 834.5 L1347.8 815.1 1328.2 803.0 1310.0 822.3Z"/>
<path fill="#00ff70" stroke="#00ff70" d="M595.9 678.0 L614.4 657.0 598.5 647.9 580.0 668.9ZM695.6 703.8 L714.1 682.8 697.7 673.3 679.2 694.2ZM781.0 722.0 L799.5 701.1 782.7 691.2 764.1 712.0ZM868.1 741.8 L886.6 721.0 869.3 710.8 850.8 731.4ZM957.0 763.3 L975.5 742.7 957.8 732.0 939.2 752.5ZM1029.5 775.3 L1048.0 755.0 1029.8 744.0 1011.4 764.3ZM1103.0 788.5 L1121.4 768.3 1102.9 757.1 1084.5 777.2ZM1177.5 802.7 L1195.8 782.8 1177.0 771.3 1158.7 791.1ZM1253.0 818.0 L1271.3 798.4 1252.1 786.6 1233.8 806.2ZM1387.3 839.7 L1405.4 820.6 1385.6 808.4 1367.5 827.3Z"/>
<path fill="#00ff6b" stroke="#00ff6b" d="M580.0 668.9 L598.5 647.9 582.7 639.0 564.2 659.9ZM679.2 694.2 L697.7 673.3 681.3 663.9 662.8 684.7ZM939.2 752.5 L957.8 732.0 940.1 721.5 921.6 741.9ZM1310.0 822.3 L1328.2 803.0 1308.8 791.1 1290.6 810.3Z"/>
<path fill="#00ff67" stroke="#00ff67" d="M564.2 659.9 L582.7 639.0 566.9 630.2 548.5 651.0ZM662.8 684.7 L681.3 663.9 665.1 654.7 646.6 675.4ZM764.1 712.0 L782.7 691.2 765.9 681.5 747.4 702.2ZM850.8 731.4 L869.3 710.8 852.1 700.7 833.6 721.2ZM1011.4 764.3 L1029.8 744.0 1011.8 733.3 993.4 753.4ZM1084.5 777.2 L1102.9 757.1 1084.6 746.1 1066.2 766.0ZM1158.7 791.1 L1177.0 771.3 1158.3 760.0 1140.0 779.7ZM1233.8 806.2 L1252.1 786.6 1233.1 775.0 1214.8 794.4ZM1367.5 827.3 L1385.6 808.4 1365.9 796.3 1347.8 815.1Z"/>
<path fill="#00ff5d" stroke="#00ff5d" d="M548.5 651.0 L566.9 630.2 551.3 621.5 532.8 642.2ZM646.6 675.4 L665.1 654.7 649.0 645.5 630.5 666.1ZM730.7 692.4 L749.2 671.9 732.6 662.3 714.1 682.8ZM904.1 731.4 L922.5 711.1 905.1 700.8 886.6 721.0ZM993.4 753.4 L1011.8 733.3 994.0 722.6 975.5 742.7ZM1066.2 766.0 L1084.6 746.1 1066.3 735.1 1048.0 755.0ZM1140.0 779.7 L1158.3 760.0 1139.7 748.8 1121.4 768.3ZM1214.8 794.4 L1233.1 775.0 1214.1 763.5 1195.8 782.8ZM1347.8 815.1 L1365.9 796.3 1346.3 784.3 1328.2 803.0ZM1405.4 820.6 L1423.4 802.1 1403.6 790.0 1385.6 808.4Z"/>
<path fill="#00ff59" stroke="#00ff59" d="M532.8 642.2 L551.3 621.5 535.7 612.9 517.3 633.5ZM630.5 666.1 L649.0 645.5 632.9 636.5 614.4 657.0ZM816.5 711.1 L835.0 690.7 818.0 680.8 799.5 701.1ZM975.5 742.7 L994.0 722.6 976.2 712.1 957.8 732.0ZM1195.8 782.8 L1214.1 763.5 1195.3 752.1 1177.0 771.3ZM1271.3 798.4 L1289.5 779.3 1270.3 767.6 1252.1 786.6Z"/>
<path fill="#00ff54" stroke="#00ff54" d="M517.3 633.5 L535.7 612.9 520.3 604.4 501.9 624.9ZM614.4 657.0 L632.9 636.5 617.0 627.5 598.5 647.9ZM714.1 682.8 L732.6 662.3 716.2 652.9 697.7 673.3ZM799.5 701.1 L818.0 680.8 801.1 671.0 782.7 691.2ZM886.6 721.0 L905.1 700.8 887.8 690.7 869.3 710.8ZM1048.0 755.0 L1066.3 735.1 1048.2 724.3 1029.8 744.0ZM1121.4 768.3 L1139.7 748.8 1121.2 737.7 1102.9 757.1ZM1328.2 803.0 L1346.3 784.3 1326.9 772.5 1308.8 791.1ZM1385.6 808.4 L1403.6 790.0 1383.9 778.0 1365.9 796.3Z"/>
<path fill="#00ff8b" stroke="#00ff8b" d="M762.3 743.4 L781.0 722.0 764.1 712.0 745.5 733.3ZM849.5 763.1 L868.1 741.8 850.8 731.4 832.2 752.6ZM938.4 784.4 L957.0 763.3 939.2 752.5 920.7 773.6ZM1010.9 796.3 L1029.5 775.3 1011.4 764.3 992.8 785.1ZM1311.3 854.5 L1329.6 834.5 1310.0 822.3 1291.7 842.2Z"/>
<path fill="#00ff4b" stroke="#00ff4b" d="M598.5 647.9 L617.0 627.5 601.1 618.7 582.7 639.0ZM782.7 691.2 L801.1 671.0 784.3 661.4 765.9 681.5ZM940.1 721.5 L958.5 701.7 940.9 691.4 922.5 711.1ZM1308.8 791.1 L1326.9 772.5 1307.6 760.8 1289.5 779.3ZM1365.9 796.3 L1383.9 778.0 1364.3 766.1 1346.3 784.3Z"/>
<path fill="#00ff46" stroke="#00ff46" d="M582.7 639.0 L601.1 618.7 585.3 610.0 566.9 630.2ZM681.3 663.9 L699.8 643.7 683.5 634.5 665.1 654.7ZM765.9 681.5 L784.3 661.4 767.6 651.8 749.2 671.9ZM852.1 700.7 L870.5 680.7 853.4 670.8 835.0 690.7ZM1011.8 733.3 L1030.2 713.6 1012.3 703.1 994.0 722.6ZM1084.6 746.1 L1102.9 726.7 1084.6 715.9 1066.3 735.1ZM1158.3 760.0 L1176.6 740.9 1158.0 729.7 1139.7 748.8ZM1233.1 775.0 L1251.2 756.1 1232.3 744.7 1214.1 763.5ZM1423.4 802.1 L1441.3 784.2 1421.4 772.2 1403.6 790.0Z"/>
<path fill="#00ff42" stroke="#00ff42" d="M566.9 630.2 L585.3 610.0 569.7 601.4 551.3 621.5ZM665.1 654.7 L683.5 634.5 667.4 625.4 649.0 645.5ZM749.2 671.9 L767.6 651.8 751.1 642.4 732.6 662.3ZM922.5 711.1 L940.9 691.4 923.5 681.2 905.1 700.8ZM1214.1 763.5 L1232.3 744.7 1213.4 733.4 1195.3 752.1ZM1289.5 779.3 L1307.6 760.8 1288.4 749.2 1270.3 767.6ZM1346.3 784.3 L1364.3 766.1 1344.9 754.4 1326.9 772.5Z"/>
<path fill="#00ff3d" stroke="#00ff3d" d="M551.3 621.5 L569.7 601.4 554.1 592.9 535.7 612.9ZM649.0 645.5 L667.4 625.4 651.3 616.5 632.9 636.5ZM835.0 690.7 L853.4 670.8 836.4 661.0 818.0 680.8ZM994.0 722.6 L1012.3 703.1 994.5 692.7 976.2 712.1ZM1066.3 735.1 L1084.6 715.9 1066.5 705.2 1048.2 724.3ZM1139.7 748.8 L1158.0 729.7 1139.5 718.8 1121.2 737.7ZM1270.3 767.6 L1288.4 749.2 1269.3 737.8 1251.2 756.1ZM1403.6 790.0 L1421.4 772.2 1401.8 760.3 1383.9 778.0Z"/>
<path fill="#00ff39" stroke="#00ff39" d="M535.7 612.9 L554.1 592.9 538.6 584.5 520.3 604.4ZM632.9 636.5 L651.3 616.5 635.3 607.6 617.0 627.5ZM732.6 662.3 L751.1 642.4 734.6 633.1 716.2 652.9ZM818.0 680.8 L836.4 661.0 819.5 651.3 801.1 671.0ZM905.1 700.8 L923.5 681.2 906.1 671.2 887.8 690.7ZM976.2 712.1 L994.5 692.7 976.8 682.4 958.5 701.7ZM1195.3 752.1 L1213.4 733.4 1194.7 722.3 1176.6 740.9ZM1326.9 772.5 L1344.9 754.4 1325.5 742.8 1307.6 760.8Z"/>
<path fill="#00ff62" stroke="#00ff62" d="M747.4 702.2 L765.9 681.5 749.2 671.9 730.7 692.4ZM833.6 721.2 L852.1 700.7 835.0 690.7 816.5 711.1ZM921.6 741.9 L940.1 721.5 922.5 711.1 904.1 731.4ZM1290.6 810.3 L1308.8 791.1 1289.5 779.3 1271.3 798.4Z"/>
<path fill="#00ff50" stroke="#00ff50" d="M697.7 673.3 L716.2 652.9 699.8 643.7 681.3 663.9ZM869.3 710.8 L887.8 690.7 870.5 680.7 852.1 700.7ZM957.8 732.0 L976.2 712.1 958.5 701.7 940.1 721.5ZM1029.8 744.0 L1048.2 724.3 1030.2 713.6 1011.8 733.3ZM1102.9 757.1 L1121.2 737.7 1102.9 726.7 1084.6 746.1ZM1177.0 771.3 L1195.3 752.1 1176.6 740.9 1158.3 760.0ZM1252.1 786.6 L1270.3 767.6 1251.2 756.1 1233.1 775.0Z"/>
<path fill="#00ff2f" stroke="#00ff2f" d="M617.0 627.5 L635.3 607.6 619.5 598.9 601.1 618.7ZM699.8 643.7 L718.2 623.9 701.9 614.8 683.5 634.5ZM958.5 701.7 L976.8 682.4 959.2 672.2 940.9 691.4ZM1030.2 713.6 L1048.5 694.6 1030.6 684.1 1012.3 703.1ZM1102.9 726.7 L1121.1 707.9 1102.8 697.2 1084.6 715.9ZM1176.6 740.9 L1194.7 722.3 1176.1 711.3 1158.0 729.7ZM1307.6 760.8 L1325.5 742.8 1306.3 731.4 1288.4 749.2Z"/>
<path fill="#00ff2b" stroke="#00ff2b" d="M601.1 618.7 L619.5 598.9 603.7 590.3 585.3 610.0ZM784.3 661.4 L802.7 641.8 786.0 632.3 767.6 651.8ZM870.5 680.7 L888.9 661.2 871.8 651.4 853.4 670.8ZM940.9 691.4 L959.2 672.2 941.8 662.1 923.5 681.2ZM1232.3 744.7 L1250.3 726.5 1231.5 715.3 1213.4 733.4ZM1364.3 766.1 L1382.2 748.6 1362.7 736.9 1344.9 754.4ZM1421.4 772.2 L1439.2 755.0 1419.5 743.2 1401.8 760.3Z"/>
<path fill="#00ff26" stroke="#00ff26" d="M585.3 610.0 L603.7 590.3 588.0 581.8 569.7 601.4ZM683.5 634.5 L701.9 614.8 685.7 605.9 667.4 625.4ZM767.6 651.8 L786.0 632.3 769.4 623.0 751.1 642.4ZM853.4 670.8 L871.8 651.4 854.7 641.7 836.4 661.0ZM1012.3 703.1 L1030.6 684.1 1012.8 673.8 994.5 692.7ZM1084.6 715.9 L1102.8 697.2 1084.7 686.6 1066.5 705.2ZM1158.0 729.7 L1176.1 711.3 1157.6 700.4 1139.5 718.8ZM1288.4 749.2 L1306.3 731.4 1287.3 720.1 1269.3 737.8Z"/>
<path fill="#00ff22" stroke="#00ff22" d="M569.7 601.4 L588.0 581.8 572.4 573.4 554.1 592.9ZM667.4 625.4 L685.7 605.9 669.6 597.0 651.3 616.5ZM923.5 681.2 L941.8 662.1 924.4 652.2 906.1 671.2ZM1213.4 733.4 L1231.5 715.3 1212.7 704.3 1194.7 722.3ZM1344.9 754.4 L1362.7 736.9 1343.4 725.5 1325.5 742.8ZM1401.8 760.3 L1419.5 743.2 1400.0 731.5 1382.2 748.6ZM1459.0 766.9 L1476.7 750.1 1456.9 738.3 1439.2 755.0Z"/>
<path fill="#00ff1d" stroke="#00ff1d" d="M554.1 592.9 L572.4 573.4 556.9 565.1 538.6 584.5ZM651.3 616.5 L669.6 597.0 653.6 588.3 635.3 607.6ZM751.1 642.4 L769.4 623.0 752.9 613.8 734.6 633.1ZM836.4 661.0 L854.7 641.7 837.8 632.2 819.5 651.3ZM994.5 692.7 L1012.8 673.8 995.1 663.6 976.8 682.4ZM1066.5 705.2 L1084.7 686.6 1066.7 676.1 1048.5 694.6ZM1139.5 718.8 L1157.6 700.4 1139.2 689.7 1121.1 707.9ZM1269.3 737.8 L1287.3 720.1 1268.3 708.9 1250.3 726.5Z"/>
<path fill="#00ff34" stroke="#00ff34" d="M716.2 652.9 L734.6 633.1 718.2 623.9 699.8 643.7ZM801.1 671.0 L819.5 651.3 802.7 641.8 784.3 661.4ZM887.8 690.7 L906.1 671.2 888.9 661.2 870.5 680.7ZM1048.2 724.3 L1066.5 705.2 1048.5 694.6 1030.2 713.6ZM1121.2 737.7 L1139.5 718.8 1121.1 707.9 1102.9 726.7ZM1251.2 756.1 L1269.3 737.8 1250.3 726.5 1232.3 744.7ZM1383.9 778.0 L1401.8 760.3 1382.2 748.6 1364.3 766.1ZM1441.3 784.2 L1459.0 766.9 1439.2 755.0 1421.4 772.2Z"/>
<path fill="#00ff14" stroke="#00ff14" d="M635.3 607.6 L653.6 588.3 637.8 579.7 619.5 598.9ZM718.2 623.9 L736.5 604.7 720.2 595.7 701.9 614.8ZM802.7 641.8 L821.0 622.7 804.3 613.4 786.0 632.3ZM888.9 661.2 L907.2 642.3 890.0 632.6 871.8 651.4ZM1250.3 726.5 L1268.3 708.9 1249.4 697.8 1231.5 715.3ZM1306.3 731.4 L1324.2 714.1 1305.1 702.9 1287.3 720.1Z"/>
<path fill="#00ff0f" stroke="#00ff0f" d="M619.5 598.9 L637.8 579.7 622.0 571.1 603.7 590.3ZM959.2 672.2 L977.5 653.5 960.0 643.6 941.8 662.1ZM1030.6 684.1 L1048.7 665.7 1030.9 655.5 1012.8 673.8ZM1102.8 697.2 L1120.9 679.0 1102.8 668.5 1084.7 686.6ZM1176.1 711.3 L1194.1 693.4 1175.6 682.6 1157.6 700.4ZM1362.7 736.9 L1380.5 720.0 1361.2 708.6 1343.4 725.5ZM1419.5 743.2 L1437.2 726.6 1417.6 715.1 1400.0 731.5ZM1476.7 750.1 L1494.3 733.9 1474.5 722.2 1456.9 738.3Z"/>
<path fill="#00ff0b" stroke="#00ff0b" d="M603.7 590.3 L622.0 571.1 606.3 562.7 588.0 581.8ZM701.9 614.8 L720.2 595.7 704.0 586.9 685.7 605.9ZM786.0 632.3 L804.3 613.4 787.7 604.2 769.4 623.0ZM871.8 651.4 L890.0 632.6 873.0 623.0 854.7 641.7ZM941.8 662.1 L960.0 643.6 942.6 633.7 924.4 652.2ZM1157.6 700.4 L1175.6 682.6 1157.2 672.0 1139.2 689.7ZM1231.5 715.3 L1249.4 697.8 1230.7 686.9 1212.7 704.3ZM1287.3 720.1 L1305.1 702.9 1286.1 691.8 1268.3 708.9Z"/>
<path fill="#00ff06" stroke="#00ff06" d="M588.0 581.8 L606.3 562.7 590.7 554.4 572.4 573.4ZM685.7 605.9 L704.0 586.9 687.9 578.1 669.6 597.0ZM769.4 623.0 L787.7 604.2 771.1 595.1 752.9 613.8ZM854.7 641.7 L873.0 623.0 856.0 613.6 837.8 632.2ZM1012.8 673.8 L1030.9 655.5 1013.2 645.4 995.1 663.6ZM1084.7 686.6 L1102.8 668.5 1084.7 658.2 1066.7 676.1ZM1212.7 704.3 L1230.7 686.9 1212.1 676.1 1194.1 693.4ZM1343.4 725.5 L1361.2 708.6 1342.0 697.4 1324.2 714.1ZM1400.0 731.5 L1417.6 715.1 1398.2 703.6 1380.5 720.0ZM1456.9 738.3 L1474.5 722.2 1454.8 710.6 1437.2 726.6Z"/>
<path fill="#00ff01" stroke="#00ff01" d="M572.4 573.4 L590.7 554.4 575.2 546.2 556.9 565.1ZM669.6 597.0 L687.9 578.1 671.9 569.5 653.6 588.3ZM837.8 632.2 L856.0 613.6 839.2 604.2 821.0 622.7ZM924.4 652.2 L942.6 633.7 925.4 624.0 907.2 642.3ZM995.1 663.6 L1013.2 645.4 995.6 635.4 977.5 653.5ZM1066.7 676.1 L1084.7 658.2 1066.8 647.9 1048.7 665.7ZM1139.2 689.7 L1157.2 672.0 1139.0 661.4 1120.9 679.0ZM1268.3 708.9 L1286.1 691.8 1267.3 680.8 1249.4 697.8Z"/>
<path fill="#00ff18" stroke="#00ff18" d="M734.6 633.1 L752.9 613.8 736.5 604.7 718.2 623.9ZM819.5 651.3 L837.8 632.2 821.0 622.7 802.7 641.8ZM906.1 671.2 L924.4 652.2 907.2 642.3 888.9 661.2ZM976.8 682.4 L995.1 663.6 977.5 653.5 959.2 672.2ZM1048.5 694.6 L1066.7 676.1 1048.7 665.7 1030.6 684.1ZM1121.1 707.9 L1139.2 689.7 1120.9 679.0 1102.8 697.2ZM1194.7 722.3 L1212.7 704.3 1194.1 693.4 1176.1 711.3ZM1325.5 742.8 L1343.4 725.5 1324.2 714.1 1306.3 731.4ZM1382.2 748.6 L1400.0 731.5 1380.5 720.0 1362.7 736.9ZM1439.2 755.0 L1456.9 738.3 1437.2 726.6 1419.5 743.2Z"/>
<path fill="#03ff00" stroke="#03ff00" d="M653.6 588.3 L671.9 569.5 656.0 560.9 637.8 579.7ZM752.9 613.8 L771.1 595.1 754.7 586.1 736.5 604.7ZM907.2 642.3 L925.4 624.0 908.2 614.4 890.0 632.6ZM1194.1 693.4 L1212.1 676.1 1193.6 665.4 1175.6 682.6ZM1324.2 714.1 L1342.0 697.4 1322.9 686.3 1305.1 702.9ZM1380.5 720.0 L1398.2 703.6 1378.9 692.4 1361.2 708.6ZM1437.2 726.6 L1454.8 710.6 1435.2 699.1 1417.6 715.1ZM1494.3 733.9 L1511.7 718.2 1491.9 706.6 1474.5 722.2Z"/>
<path fill="#07ff00" stroke="#07ff00" d="M637.8 579.7 L656.0 560.9 640.2 552.5 622.0 571.1ZM736.5 604.7 L754.7 586.1 738.4 577.2 720.2 595.7ZM821.0 622.7 L839.2 604.2 822.5 595.0 804.3 613.4ZM977.5 653.5 L995.6 635.4 978.1 625.6 960.0 643.6ZM1048.7 665.7 L1066.8 647.9 1049.0 637.8 1030.9 655.5ZM1120.9 679.0 L1139.0 661.4 1120.8 651.0 1102.8 668.5ZM1249.4 697.8 L1267.3 680.8 1248.5 670.0 1230.7 686.9Z"/>
<path fill="#0eff00" stroke="#0eff00" d="M622.0 571.1 L640.2 552.5 624.4 544.2 606.3 562.7ZM704.0 586.9 L722.2 568.4 706.1 559.7 687.9 578.1ZM873.0 623.0 L891.1 604.9 874.2 595.5 856.0 613.6ZM1030.9 655.5 L1049.0 637.8 1031.3 627.8 1013.2 645.4ZM1230.7 686.9 L1248.5 670.0 1229.9 659.3 1212.1 676.1ZM1286.1 691.8 L1303.9 675.3 1285.0 664.4 1267.3 680.8ZM1511.7 718.2 L1529.1 703.2 1509.3 691.6 1491.9 706.6Z"/>
<path fill="#12ff00" stroke="#12ff00" d="M606.3 562.7 L624.4 544.2 608.8 536.0 590.7 554.4ZM787.7 604.2 L805.8 585.8 789.3 576.8 771.1 595.1ZM942.6 633.7 L960.7 615.8 943.5 606.2 925.4 624.0ZM1013.2 645.4 L1031.3 627.8 1013.7 617.9 995.6 635.4ZM1084.7 658.2 L1102.7 640.8 1084.8 630.6 1066.8 647.9ZM1157.2 672.0 L1175.2 654.8 1156.9 644.4 1139.0 661.4ZM1212.1 676.1 L1229.9 659.3 1211.4 648.7 1193.6 665.4ZM1342.0 697.4 L1359.6 681.2 1340.5 670.2 1322.9 686.3ZM1398.2 703.6 L1415.7 687.8 1396.4 676.6 1378.9 692.4ZM1454.8 710.6 L1472.2 695.1 1452.7 683.8 1435.2 699.1Z"/>
<path fill="#16ff00" stroke="#16ff00" d="M590.7 554.4 L608.8 536.0 593.3 527.9 575.2 546.2ZM687.9 578.1 L706.1 559.7 690.0 551.2 671.9 569.5ZM771.1 595.1 L789.3 576.8 772.9 567.9 754.7 586.1ZM856.0 613.6 L874.2 595.5 857.3 586.2 839.2 604.2ZM925.4 624.0 L943.5 606.2 926.3 596.7 908.2 614.4ZM1139.0 661.4 L1156.9 644.4 1138.7 634.1 1120.8 651.0ZM1267.3 680.8 L1285.0 664.4 1266.3 653.7 1248.5 670.0ZM1491.9 706.6 L1509.3 691.6 1489.6 680.2 1472.2 695.1Z"/>
<path fill="#0bff00" stroke="#0bff00" d="M720.2 595.7 L738.4 577.2 722.2 568.4 704.0 586.9ZM804.3 613.4 L822.5 595.0 805.8 585.8 787.7 604.2ZM890.0 632.6 L908.2 614.4 891.1 604.9 873.0 623.0ZM960.0 643.6 L978.1 625.6 960.7 615.8 942.6 633.7ZM1102.8 668.5 L1120.8 651.0 1102.7 640.8 1084.7 658.2ZM1175.6 682.6 L1193.6 665.4 1175.2 654.8 1157.2 672.0ZM1305.1 702.9 L1322.9 686.3 1303.9 675.3 1286.1 691.8ZM1361.2 708.6 L1378.9 692.4 1359.6 681.2 1342.0 697.4ZM1417.6 715.1 L1435.2 699.1 1415.7 687.8 1398.2 703.6ZM1474.5 722.2 L1491.9 706.6 1472.2 695.1 1454.8 710.6Z"/>
<path fill="#1aff00" stroke="#1aff00" d="M671.9 569.5 L690.0 551.2 674.1 542.7 656.0 560.9ZM754.7 586.1 L772.9 567.9 756.5 559.1 738.4 577.2ZM839.2 604.2 L857.3 586.2 840.6 577.1 822.5 595.0ZM995.6 635.4 L1013.7 617.9 996.2 608.1 978.1 625.6ZM1066.8 647.9 L1084.8 630.6 1067.0 620.6 1049.0 637.8ZM1193.6 665.4 L1211.4 648.7 1193.0 638.2 1175.2 654.8ZM1322.9 686.3 L1340.5 670.2 1321.6 659.3 1303.9 675.3ZM1378.9 692.4 L1396.4 676.6 1377.2 665.6 1359.6 681.2ZM1435.2 699.1 L1452.7 683.8 1433.2 672.6 1415.7 687.8Z"/>
<path fill="#1eff00" stroke="#1eff00" d="M656.0 560.9 L674.1 542.7 658.3 534.4 640.2 552.5ZM738.4 577.2 L756.5 559.1 740.3 550.5 722.2 568.4ZM822.5 595.0 L840.6 577.1 823.9 568.1 805.8 585.8ZM908.2 614.4 L926.3 596.7 909.2 587.3 891.1 604.9ZM978.1 625.6 L996.2 608.1 978.8 598.4 960.7 615.8ZM1049.0 637.8 L1067.0 620.6 1049.2 610.6 1031.3 627.8ZM1120.8 651.0 L1138.7 634.1 1120.6 623.9 1102.7 640.8ZM1248.5 670.0 L1266.3 653.7 1247.7 643.0 1229.9 659.3ZM1303.9 675.3 L1321.6 659.3 1302.7 648.5 1285.0 664.4ZM1415.7 687.8 L1433.2 672.6 1413.9 661.5 1396.4 676.6ZM1472.2 695.1 L1489.6 680.2 1470.0 669.0 1452.7 683.8ZM1529.1 703.2 L1546.3 688.6 1526.5 677.2 1509.3 691.6Z"/>
<path fill="#22ff00" stroke="#22ff00" d="M640.2 552.5 L658.3 534.4 642.6 526.2 624.4 544.2ZM891.1 604.9 L909.2 587.3 892.2 578.0 874.2 595.5ZM1175.2 654.8 L1193.0 638.2 1174.7 627.9 1156.9 644.4ZM1359.6 681.2 L1377.2 665.6 1358.1 654.7 1340.5 670.2ZM1509.3 691.6 L1526.5 677.2 1506.8 665.9 1489.6 680.2Z"/>
<path fill="#26ff00" stroke="#26ff00" d="M624.4 544.2 L642.6 526.2 626.9 518.0 608.8 536.0ZM722.2 568.4 L740.3 550.5 724.2 541.9 706.1 559.7ZM805.8 585.8 L823.9 568.1 807.4 559.1 789.3 576.8ZM960.7 615.8 L978.8 598.4 961.5 588.9 943.5 606.2ZM1031.3 627.8 L1049.2 610.6 1031.6 600.8 1013.7 617.9ZM1102.7 640.8 L1120.6 623.9 1102.7 613.8 1084.8 630.6ZM1229.9 659.3 L1247.7 643.0 1229.1 632.6 1211.4 648.7ZM1285.0 664.4 L1302.7 648.5 1283.9 637.9 1266.3 653.7ZM1340.5 670.2 L1358.1 654.7 1339.1 643.9 1321.6 659.3ZM1396.4 676.6 L1413.9 661.5 1394.6 650.5 1377.2 665.6ZM1452.7 683.8 L1470.0 669.0 1450.5 657.9 1433.2 672.6Z"/>
<path fill="#29ff00" stroke="#29ff00" d="M608.8 536.0 L626.9 518.0 611.4 510.0 593.3 527.9ZM706.1 559.7 L724.2 541.9 708.1 533.4 690.0 551.2ZM789.3 576.8 L807.4 559.1 791.0 550.3 772.9 567.9ZM874.2 595.5 L892.2 578.0 875.4 568.8 857.3 586.2ZM943.5 606.2 L961.5 588.9 944.3 579.5 926.3 596.7ZM1013.7 617.9 L1031.6 600.8 1014.1 591.2 996.2 608.1ZM1084.8 630.6 L1102.7 613.8 1084.9 603.9 1067.0 620.6ZM1156.9 644.4 L1174.7 627.9 1156.5 617.7 1138.7 634.1ZM1211.4 648.7 L1229.1 632.6 1210.7 622.2 1193.0 638.2ZM1489.6 680.2 L1506.8 665.9 1487.2 654.7 1470.0 669.0ZM1546.3 688.6 L1563.4 674.6 1543.6 663.3 1526.5 677.2Z"/>
<path fill="#2dff00" stroke="#2dff00" d="M690.0 551.2 L708.1 533.4 692.2 525.1 674.1 542.7ZM772.9 567.9 L791.0 550.3 774.6 541.6 756.5 559.1ZM857.3 586.2 L875.4 568.8 858.6 559.8 840.6 577.1ZM1138.7 634.1 L1156.5 617.7 1138.5 607.6 1120.6 623.9ZM1266.3 653.7 L1283.9 637.9 1265.3 627.4 1247.7 643.0ZM1321.6 659.3 L1339.1 643.9 1320.2 633.2 1302.7 648.5ZM1377.2 665.6 L1394.6 650.5 1375.5 639.7 1358.1 654.7ZM1433.2 672.6 L1450.5 657.9 1431.2 646.9 1413.9 661.5Z"/>
<path fill="#31ff00" stroke="#31ff00" d="M674.1 542.7 L692.2 525.1 676.4 516.8 658.3 534.4ZM840.6 577.1 L858.6 559.8 842.0 550.8 823.9 568.1ZM926.3 596.7 L944.3 579.5 927.2 570.2 909.2 587.3ZM996.2 608.1 L1014.1 591.2 996.7 581.6 978.8 598.4ZM1067.0 620.6 L1084.9 603.9 1067.1 594.1 1049.2 610.6ZM1193.0 638.2 L1210.7 622.2 1192.4 611.9 1174.7 627.9ZM1470.0 669.0 L1487.2 654.7 1467.8 643.7 1450.5 657.9ZM1526.5 677.2 L1543.6 663.3 1523.9 652.1 1506.8 665.9Z"/>
<path fill="#35ff00" stroke="#35ff00" d="M658.3 534.4 L676.4 516.8 660.6 508.7 642.6 526.2ZM756.5 559.1 L774.6 541.6 758.4 533.0 740.3 550.5ZM909.2 587.3 L927.2 570.2 910.2 561.0 892.2 578.0ZM978.8 598.4 L996.7 581.6 979.4 572.2 961.5 588.9ZM1049.2 610.6 L1067.1 594.1 1049.5 584.4 1031.6 600.8ZM1120.6 623.9 L1138.5 607.6 1120.5 597.6 1102.7 613.8ZM1247.7 643.0 L1265.3 627.4 1246.8 617.0 1229.1 632.6ZM1302.7 648.5 L1320.2 633.2 1301.5 622.6 1283.9 637.9ZM1358.1 654.7 L1375.5 639.7 1356.6 629.0 1339.1 643.9ZM1413.9 661.5 L1431.2 646.9 1412.0 636.0 1394.6 650.5ZM1563.4 674.6 L1580.4 661.2 1560.6 650.0 1543.6 663.3Z"/>
<path fill="#3dff00" stroke="#3dff00" d="M642.6 526.2 L660.6 508.7 645.0 500.6 626.9 518.0ZM724.2 541.9 L742.2 524.5 726.2 516.2 708.1 533.4ZM807.4 559.1 L825.4 542.0 808.9 533.3 791.0 550.3ZM892.2 578.0 L910.2 561.0 893.4 551.9 875.4 568.8ZM961.5 588.9 L979.4 572.2 962.2 562.8 944.3 579.5ZM1031.6 600.8 L1049.5 584.4 1032.0 574.8 1014.1 591.2ZM1102.7 613.8 L1120.5 597.6 1102.6 587.8 1084.9 603.9ZM1156.5 617.7 L1174.2 601.8 1156.2 591.8 1138.5 607.6ZM1283.9 637.9 L1301.5 622.6 1282.9 612.2 1265.3 627.4ZM1339.1 643.9 L1356.6 629.0 1337.7 618.4 1320.2 633.2ZM1394.6 650.5 L1412.0 636.0 1392.9 625.3 1375.5 639.7ZM1487.2 654.7 L1504.4 641.0 1484.9 630.1 1467.8 643.7ZM1543.6 663.3 L1560.6 650.0 1540.9 638.8 1523.9 652.1ZM1580.4 661.2 L1597.3 648.3 1577.5 637.1 1560.6 650.0Z"/>
<path fill="#41ff00" stroke="#41ff00" d="M626.9 518.0 L645.0 500.6 629.4 492.7 611.4 510.0ZM708.1 533.4 L726.2 516.2 710.2 507.9 692.2 525.1ZM791.0 550.3 L808.9 533.3 792.6 524.6 774.6 541.6ZM875.4 568.8 L893.4 551.9 876.6 542.9 858.6 559.8ZM944.3 579.5 L962.2 562.8 945.1 553.6 927.2 570.2ZM1014.1 591.2 L1032.0 574.8 1014.6 565.3 996.7 581.6ZM1084.9 603.9 L1102.6 587.8 1084.9 578.0 1067.1 594.1ZM1210.7 622.2 L1228.4 606.7 1210.1 596.5 1192.4 611.9ZM1265.3 627.4 L1282.9 612.2 1264.3 601.9 1246.8 617.0ZM1375.5 639.7 L1392.9 625.3 1373.9 614.6 1356.6 629.0ZM1431.2 646.9 L1448.5 632.8 1429.2 622.0 1412.0 636.0ZM1523.9 652.1 L1540.9 638.8 1521.4 627.9 1504.4 641.0Z"/>
<path fill="#39ff00" stroke="#39ff00" d="M740.3 550.5 L758.4 533.0 742.2 524.5 724.2 541.9ZM823.9 568.1 L842.0 550.8 825.4 542.0 807.4 559.1ZM1174.7 627.9 L1192.4 611.9 1174.2 601.8 1156.5 617.7ZM1229.1 632.6 L1246.8 617.0 1228.4 606.7 1210.7 622.2ZM1450.5 657.9 L1467.8 643.7 1448.5 632.8 1431.2 646.9ZM1506.8 665.9 L1523.9 652.1 1504.4 641.0 1487.2 654.7Z"/>
<path fill="#45ff00" stroke="#45ff00" d="M692.2 525.1 L710.2 507.9 694.3 499.7 676.4 516.8ZM858.6 559.8 L876.6 542.9 859.9 534.1 842.0 550.8ZM1138.5 607.6 L1156.2 591.8 1138.2 581.9 1120.5 597.6ZM1320.2 633.2 L1337.7 618.4 1318.9 607.9 1301.5 622.6ZM1467.8 643.7 L1484.9 630.1 1465.6 619.3 1448.5 632.8ZM1560.6 650.0 L1577.5 637.1 1557.8 626.1 1540.9 638.8Z"/>
<path fill="#4cff00" stroke="#4cff00" d="M676.4 516.8 L694.3 499.7 678.6 491.7 660.6 508.7ZM758.4 533.0 L776.3 516.1 760.2 507.7 742.2 524.5ZM842.0 550.8 L859.9 534.1 843.3 525.3 825.4 542.0ZM910.2 561.0 L928.1 544.5 911.2 535.5 893.4 551.9ZM979.4 572.2 L997.2 556.0 980.0 546.7 962.2 562.8ZM1049.5 584.4 L1067.3 568.4 1049.7 558.9 1032.0 574.8ZM1120.5 597.6 L1138.2 581.9 1120.4 572.2 1102.6 587.8ZM1174.2 601.8 L1191.9 586.5 1173.8 576.6 1156.2 591.8ZM1448.5 632.8 L1465.6 619.3 1446.4 608.6 1429.2 622.0ZM1540.9 638.8 L1557.8 626.1 1538.3 615.2 1521.4 627.9Z"/>
<path fill="#50ff00" stroke="#50ff00" d="M660.6 508.7 L678.6 491.7 662.9 483.7 645.0 500.6ZM742.2 524.5 L760.2 507.7 744.1 499.4 726.2 516.2ZM825.4 542.0 L843.3 525.3 826.9 516.7 808.9 533.3ZM1102.6 587.8 L1120.4 572.2 1102.6 562.5 1084.9 578.0ZM1228.4 606.7 L1245.9 591.7 1227.6 581.7 1210.1 596.5ZM1282.9 612.2 L1300.3 597.6 1281.8 587.4 1264.3 601.9ZM1337.7 618.4 L1355.0 604.1 1336.3 593.8 1318.9 607.9ZM1392.9 625.3 L1410.1 611.4 1391.2 600.8 1373.9 614.6ZM1484.9 630.1 L1501.9 617.0 1482.6 606.3 1465.6 619.3ZM1577.5 637.1 L1594.3 624.9 1574.6 613.9 1557.8 626.1ZM1614.1 635.9 L1630.8 624.1 1611.0 613.1 1594.3 624.9Z"/>
<path fill="#54ff00" stroke="#54ff00" d="M645.0 500.6 L662.9 483.7 647.3 475.9 629.4 492.7ZM726.2 516.2 L744.1 499.4 728.1 491.3 710.2 507.9ZM808.9 533.3 L826.9 516.7 810.5 508.2 792.6 524.6ZM893.4 551.9 L911.2 535.5 894.5 526.6 876.6 542.9ZM962.2 562.8 L980.0 546.7 962.9 537.6 945.1 553.6ZM1032.0 574.8 L1049.7 558.9 1032.3 549.5 1014.6 565.3ZM1156.2 591.8 L1173.8 576.6 1155.8 566.8 1138.2 581.9ZM1429.2 622.0 L1446.4 608.6 1427.3 598.0 1410.1 611.4ZM1521.4 627.9 L1538.3 615.2 1518.9 604.5 1501.9 617.0Z"/>
<path fill="#48ff00" stroke="#48ff00" d="M774.6 541.6 L792.6 524.6 776.3 516.1 758.4 533.0ZM927.2 570.2 L945.1 553.6 928.1 544.5 910.2 561.0ZM996.7 581.6 L1014.6 565.3 997.2 556.0 979.4 572.2ZM1067.1 594.1 L1084.9 578.0 1067.3 568.4 1049.5 584.4ZM1192.4 611.9 L1210.1 596.5 1191.9 586.5 1174.2 601.8ZM1246.8 617.0 L1264.3 601.9 1245.9 591.7 1228.4 606.7ZM1301.5 622.6 L1318.9 607.9 1300.3 597.6 1282.9 612.2ZM1356.6 629.0 L1373.9 614.6 1355.0 604.1 1337.7 618.4ZM1412.0 636.0 L1429.2 622.0 1410.1 611.4 1392.9 625.3ZM1504.4 641.0 L1521.4 627.9 1501.9 617.0 1484.9 630.1ZM1597.3 648.3 L1614.1 635.9 1594.3 624.9 1577.5 637.1Z"/>
<path fill="#58ff00" stroke="#58ff00" d="M710.2 507.9 L728.1 491.3 712.3 483.2 694.3 499.7ZM792.6 524.6 L810.5 508.2 794.2 499.8 776.3 516.1ZM876.6 542.9 L894.5 526.6 877.8 517.9 859.9 534.1ZM945.1 553.6 L962.9 537.6 945.9 528.6 928.1 544.5ZM1014.6 565.3 L1032.3 549.5 1015.0 540.3 997.2 556.0ZM1084.9 578.0 L1102.6 562.5 1085.0 553.0 1067.3 568.4ZM1210.1 596.5 L1227.6 581.7 1209.4 571.7 1191.9 586.5ZM1264.3 601.9 L1281.8 587.4 1263.3 577.3 1245.9 591.7ZM1318.9 607.9 L1336.3 593.8 1317.6 583.5 1300.3 597.6ZM1373.9 614.6 L1391.2 600.8 1372.3 590.4 1355.0 604.1ZM1465.6 619.3 L1482.6 606.3 1463.4 595.7 1446.4 608.6ZM1557.8 626.1 L1574.6 613.9 1555.1 603.1 1538.3 615.2ZM1594.3 624.9 L1611.0 613.1 1591.3 602.3 1574.6 613.9ZM1630.8 624.1 L1647.3 612.8 1627.5 601.9 1611.0 613.1Z"/>
<path fill="#60ff00" stroke="#60ff00" d="M694.3 499.7 L712.3 483.2 696.5 475.2 678.6 491.7ZM776.3 516.1 L794.2 499.8 778.0 491.4 760.2 507.7ZM928.1 544.5 L945.9 528.6 929.0 519.7 911.2 535.5ZM997.2 556.0 L1015.0 540.3 997.8 531.1 980.0 546.7ZM1120.4 572.2 L1138.0 557.1 1120.2 547.6 1102.6 562.5ZM1300.3 597.6 L1317.6 583.5 1299.1 573.4 1281.8 587.4ZM1446.4 608.6 L1463.4 595.7 1444.3 585.2 1427.3 598.0ZM1538.3 615.2 L1555.1 603.1 1535.7 592.5 1518.9 604.5ZM1574.6 613.9 L1591.3 602.3 1571.8 591.6 1555.1 603.1ZM1611.0 613.1 L1627.5 601.9 1607.9 591.2 1591.3 602.3ZM1647.3 612.8 L1663.7 602.1 1644.0 591.3 1627.5 601.9Z"/>
<path fill="#63ff00" stroke="#63ff00" d="M678.6 491.7 L696.5 475.2 680.8 467.3 662.9 483.7ZM760.2 507.7 L778.0 491.4 762.0 483.2 744.1 499.4ZM843.3 525.3 L861.2 509.2 844.7 500.7 826.9 516.7ZM911.2 535.5 L929.0 519.7 912.2 510.9 894.5 526.6ZM980.0 546.7 L997.8 531.1 980.7 522.1 962.9 537.6ZM1049.7 558.9 L1067.4 543.6 1050.0 534.3 1032.3 549.5ZM1173.8 576.6 L1191.3 561.9 1173.3 552.2 1155.8 566.8ZM1227.6 581.7 L1245.0 567.3 1226.8 557.5 1209.4 571.7ZM1281.8 587.4 L1299.1 573.4 1280.7 563.4 1263.3 577.3ZM1336.3 593.8 L1353.5 580.2 1334.9 570.0 1317.6 583.5ZM1391.2 600.8 L1408.3 587.6 1389.4 577.3 1372.3 590.4ZM1482.6 606.3 L1499.5 593.8 1480.3 583.3 1463.4 595.7ZM1518.9 604.5 L1535.7 592.5 1516.3 581.9 1499.5 593.8Z"/>
<path fill="#67ff00" stroke="#67ff00" d="M662.9 483.7 L680.8 467.3 665.2 459.6 647.3 475.9ZM744.1 499.4 L762.0 483.2 746.0 475.1 728.1 491.3ZM826.9 516.7 L844.7 500.7 828.3 492.2 810.5 508.2ZM894.5 526.6 L912.2 510.9 895.6 502.2 877.8 517.9ZM962.9 537.6 L980.7 522.1 963.7 513.2 945.9 528.6ZM1032.3 549.5 L1050.0 534.3 1032.7 525.1 1015.0 540.3ZM1102.6 562.5 L1120.2 547.6 1102.6 538.1 1085.0 553.0ZM1155.8 566.8 L1173.3 552.2 1155.5 542.6 1138.0 557.1ZM1372.3 590.4 L1389.4 577.3 1370.7 567.1 1353.5 580.2ZM1427.3 598.0 L1444.3 585.2 1425.3 574.8 1408.3 587.6ZM1555.1 603.1 L1571.8 591.6 1552.3 581.0 1535.7 592.5ZM1591.3 602.3 L1607.9 591.2 1588.3 580.5 1571.8 591.6ZM1627.5 601.9 L1644.0 591.3 1624.3 580.6 1607.9 591.2ZM1663.7 602.1 L1680.1 591.8 1660.3 581.1 1644.0 591.3Z"/>
<path fill="#6bff00" stroke="#6bff00" d="M728.1 491.3 L746.0 475.1 730.1 467.1 712.3 483.2ZM810.5 508.2 L828.3 492.2 812.0 483.9 794.2 499.8ZM1085.0 553.0 L1102.6 538.1 1085.0 528.8 1067.4 543.6ZM1209.4 571.7 L1226.8 557.5 1208.8 547.7 1191.3 561.9ZM1263.3 577.3 L1280.7 563.4 1262.4 553.5 1245.0 567.3ZM1317.6 583.5 L1334.9 570.0 1316.3 560.0 1299.1 573.4ZM1408.3 587.6 L1425.3 574.8 1406.5 564.6 1389.4 577.3ZM1463.4 595.7 L1480.3 583.3 1461.2 572.9 1444.3 585.2ZM1499.5 593.8 L1516.3 581.9 1497.1 571.5 1480.3 583.3Z"/>
<path fill="#6fff00" stroke="#6fff00" d="M712.3 483.2 L730.1 467.1 714.3 459.3 696.5 475.2ZM794.2 499.8 L812.0 483.9 795.8 475.7 778.0 491.4ZM877.8 517.9 L895.6 502.2 879.0 493.6 861.2 509.2ZM945.9 528.6 L963.7 513.2 946.8 504.3 929.0 519.7ZM1015.0 540.3 L1032.7 525.1 1015.4 516.1 997.8 531.1ZM1138.0 557.1 L1155.5 542.6 1137.7 533.1 1120.2 547.6ZM1191.3 561.9 L1208.8 547.7 1190.8 538.1 1173.3 552.2ZM1299.1 573.4 L1316.3 560.0 1297.9 550.0 1280.7 563.4ZM1353.5 580.2 L1370.7 567.1 1352.0 557.0 1334.9 570.0ZM1444.3 585.2 L1461.2 572.9 1442.3 562.6 1425.3 574.8ZM1535.7 592.5 L1552.3 581.0 1533.0 570.5 1516.3 581.9ZM1571.8 591.6 L1588.3 580.5 1568.9 570.0 1552.3 581.0ZM1607.9 591.2 L1624.3 580.6 1604.8 570.0 1588.3 580.5ZM1644.0 591.3 L1660.3 581.1 1640.7 570.5 1624.3 580.6ZM1680.1 591.8 L1696.3 582.1 1676.5 571.5 1660.3 581.1Z"/>
<path fill="#73ff00" stroke="#73ff00" d="M696.5 475.2 L714.3 459.3 698.6 451.5 680.8 467.3ZM778.0 491.4 L795.8 475.7 779.8 467.5 762.0 483.2ZM861.2 509.2 L879.0 493.6 862.5 485.2 844.7 500.7ZM929.0 519.7 L946.8 504.3 930.0 495.6 912.2 510.9ZM997.8 531.1 L1015.4 516.1 998.3 507.1 980.7 522.1ZM1067.4 543.6 L1085.0 528.8 1067.6 519.6 1050.0 534.3ZM1120.2 547.6 L1137.7 533.1 1120.1 523.8 1102.6 538.1ZM1245.0 567.3 L1262.4 553.5 1244.2 543.7 1226.8 557.5ZM1389.4 577.3 L1406.5 564.6 1387.7 554.5 1370.7 567.1ZM1480.3 583.3 L1497.1 571.5 1478.0 561.2 1461.2 572.9ZM1696.3 582.1 L1712.3 572.9 1692.6 562.4 1676.5 571.5Z"/>
<path fill="#7bff00" stroke="#7bff00" d="M680.8 467.3 L698.6 451.5 683.0 443.8 665.2 459.6ZM762.0 483.2 L779.8 467.5 763.8 459.5 746.0 475.1ZM828.3 492.2 L846.1 476.8 829.8 468.5 812.0 483.9ZM912.2 510.9 L930.0 495.6 913.2 487.0 895.6 502.2ZM980.7 522.1 L998.3 507.1 981.3 498.3 963.7 513.2ZM1102.6 538.1 L1120.1 523.8 1102.5 514.6 1085.0 528.8ZM1155.5 542.6 L1172.9 528.6 1155.1 519.2 1137.7 533.1ZM1316.3 560.0 L1333.5 547.0 1315.1 537.2 1297.9 550.0ZM1370.7 567.1 L1387.7 554.5 1369.1 544.5 1352.0 557.0ZM1461.2 572.9 L1478.0 561.2 1459.1 551.0 1442.3 562.6ZM1497.1 571.5 L1513.8 560.2 1494.8 549.9 1478.0 561.2ZM1640.7 570.5 L1656.9 561.0 1637.4 550.6 1621.2 560.0ZM1676.5 571.5 L1692.6 562.4 1673.0 551.9 1656.9 561.0ZM1728.3 564.2 L1744.2 556.1 1724.5 545.7 1708.6 553.8Z"/>
<path fill="#5cff00" stroke="#5cff00" d="M859.9 534.1 L877.8 517.9 861.2 509.2 843.3 525.3ZM1067.3 568.4 L1085.0 553.0 1067.4 543.6 1049.7 558.9ZM1138.2 581.9 L1155.8 566.8 1138.0 557.1 1120.4 572.2ZM1191.9 586.5 L1209.4 571.7 1191.3 561.9 1173.8 576.6ZM1245.9 591.7 L1263.3 577.3 1245.0 567.3 1227.6 581.7ZM1355.0 604.1 L1372.3 590.4 1353.5 580.2 1336.3 593.8ZM1410.1 611.4 L1427.3 598.0 1408.3 587.6 1391.2 600.8ZM1501.9 617.0 L1518.9 604.5 1499.5 593.8 1482.6 606.3Z"/>
<path fill="#7fff00" stroke="#7fff00" d="M746.0 475.1 L763.8 459.5 747.9 451.6 730.1 467.1ZM895.6 502.2 L913.2 487.0 896.6 478.5 879.0 493.6ZM963.7 513.2 L981.3 498.3 964.4 489.5 946.8 504.3ZM1032.7 525.1 L1050.2 510.5 1033.0 501.5 1015.4 516.1ZM1085.0 528.8 L1102.5 514.6 1085.1 505.4 1067.6 519.6ZM1208.8 547.7 L1226.1 534.1 1208.1 524.6 1190.8 538.1ZM1262.4 553.5 L1279.6 540.2 1261.4 530.6 1244.2 543.7ZM1406.5 564.6 L1423.4 552.5 1404.6 542.5 1387.7 554.5ZM1533.0 570.5 L1549.6 559.6 1530.4 549.4 1513.8 560.2ZM1568.9 570.0 L1585.4 559.6 1566.1 549.3 1549.6 559.6ZM1604.8 570.0 L1621.2 560.0 1601.7 549.7 1585.4 559.6ZM1692.6 562.4 L1708.6 553.8 1689.0 543.4 1673.0 551.9ZM1744.2 556.1 L1759.9 548.4 1740.2 538.1 1724.5 545.7Z"/>
<path fill="#82ff00" stroke="#82ff00" d="M730.1 467.1 L747.9 451.6 732.0 443.8 714.3 459.3ZM812.0 483.9 L829.8 468.5 813.6 460.4 795.8 475.7ZM879.0 493.6 L896.6 478.5 880.1 470.2 862.5 485.2ZM946.8 504.3 L964.4 489.5 947.6 480.9 930.0 495.6ZM1015.4 516.1 L1033.0 501.5 1015.9 492.7 998.3 507.1ZM1137.7 533.1 L1155.1 519.2 1137.5 510.0 1120.1 523.8ZM1190.8 538.1 L1208.1 524.6 1190.2 515.1 1172.9 528.6ZM1244.2 543.7 L1261.4 530.6 1243.3 521.0 1226.1 534.1ZM1297.9 550.0 L1315.1 537.2 1296.8 527.5 1279.6 540.2ZM1352.0 557.0 L1369.1 544.5 1350.5 534.6 1333.5 547.0ZM1442.3 562.6 L1459.1 551.0 1440.2 540.9 1423.4 552.5ZM1478.0 561.2 L1494.8 549.9 1475.8 539.8 1459.1 551.0ZM1621.2 560.0 L1637.4 550.6 1618.0 540.3 1601.7 549.7ZM1656.9 561.0 L1673.0 551.9 1653.5 541.6 1637.4 550.6ZM1708.6 553.8 L1724.5 545.7 1704.9 535.4 1689.0 543.4ZM1759.9 548.4 L1775.5 541.2 1755.8 531.0 1740.2 538.1ZM1775.5 541.2 L1791.0 534.6 1771.4 524.4 1755.8 531.0Z"/>
<path fill="#86ff00" stroke="#86ff00" d="M714.3 459.3 L732.0 443.8 716.3 436.1 698.6 451.5ZM795.8 475.7 L813.6 460.4 797.5 452.4 779.8 467.5ZM862.5 485.2 L880.1 470.2 863.7 461.9 846.1 476.8ZM998.3 507.1 L1015.9 492.7 998.9 483.9 981.3 498.3ZM1067.6 519.6 L1085.1 505.4 1067.7 496.4 1050.2 510.5ZM1333.5 547.0 L1350.5 534.6 1332.1 524.9 1315.1 537.2ZM1387.7 554.5 L1404.6 542.5 1386.0 532.6 1369.1 544.5ZM1423.4 552.5 L1440.2 540.9 1421.5 531.0 1404.6 542.5ZM1513.8 560.2 L1530.4 549.4 1511.3 539.2 1494.8 549.9ZM1549.6 559.6 L1566.1 549.3 1546.9 539.1 1530.4 549.4ZM1585.4 559.6 L1601.7 549.7 1582.5 539.4 1566.1 549.3ZM1673.0 551.9 L1689.0 543.4 1669.5 533.1 1653.5 541.6ZM1724.5 545.7 L1740.2 538.1 1720.6 527.8 1704.9 535.4ZM1791.0 534.6 L1806.4 528.4 1786.8 518.3 1771.4 524.4Z"/>
<path fill="#8aff00" stroke="#8aff00" d="M698.6 451.5 L716.3 436.1 700.7 428.5 683.0 443.8ZM779.8 467.5 L797.5 452.4 781.5 444.4 763.8 459.5ZM930.0 495.6 L947.6 480.9 930.9 472.4 913.2 487.0ZM1050.2 510.5 L1067.7 496.4 1050.5 487.5 1033.0 501.5ZM1120.1 523.8 L1137.5 510.0 1119.9 500.8 1102.5 514.6ZM1172.9 528.6 L1190.2 515.1 1172.5 505.8 1155.1 519.2ZM1226.1 534.1 L1243.3 521.0 1225.3 511.5 1208.1 524.6ZM1279.6 540.2 L1296.8 527.5 1278.5 517.9 1261.4 530.6ZM1369.1 544.5 L1386.0 532.6 1367.5 522.8 1350.5 534.6ZM1459.1 551.0 L1475.8 539.8 1456.9 529.8 1440.2 540.9ZM1494.8 549.9 L1511.3 539.2 1492.4 529.2 1475.8 539.8ZM1530.4 549.4 L1546.9 539.1 1527.8 529.0 1511.3 539.2ZM1566.1 549.3 L1582.5 539.4 1563.3 529.3 1546.9 539.1ZM1601.7 549.7 L1618.0 540.3 1598.7 530.1 1582.5 539.4ZM1637.4 550.6 L1653.5 541.6 1634.1 531.4 1618.0 540.3ZM1689.0 543.4 L1704.9 535.4 1685.4 525.2 1669.5 533.1ZM1740.2 538.1 L1755.8 531.0 1736.3 520.8 1720.6 527.8ZM1755.8 531.0 L1771.4 524.4 1751.8 514.3 1736.3 520.8ZM1771.4 524.4 L1786.8 518.3 1767.2 508.2 1751.8 514.3Z"/>
<path fill="#77ff00" stroke="#77ff00" d="M844.7 500.7 L862.5 485.2 846.1 476.8 828.3 492.2ZM1050.0 534.3 L1067.6 519.6 1050.2 510.5 1032.7 525.1ZM1173.3 552.2 L1190.8 538.1 1172.9 528.6 1155.5 542.6ZM1226.8 557.5 L1244.2 543.7 1226.1 534.1 1208.8 547.7ZM1280.7 563.4 L1297.9 550.0 1279.6 540.2 1262.4 553.5ZM1334.9 570.0 L1352.0 557.0 1333.5 547.0 1316.3 560.0ZM1425.3 574.8 L1442.3 562.6 1423.4 552.5 1406.5 564.6ZM1516.3 581.9 L1533.0 570.5 1513.8 560.2 1497.1 571.5ZM1552.3 581.0 L1568.9 570.0 1549.6 559.6 1533.0 570.5ZM1588.3 580.5 L1604.8 570.0 1585.4 559.6 1568.9 570.0ZM1624.3 580.6 L1640.7 570.5 1621.2 560.0 1604.8 570.0ZM1660.3 581.1 L1676.5 571.5 1656.9 561.0 1640.7 570.5ZM1712.3 572.9 L1728.3 564.2 1708.6 553.8 1692.6 562.4Z"/>
<path fill="#8eff00" stroke="#8eff00" d="M763.8 459.5 L781.5 444.4 765.5 436.6 747.9 451.6ZM846.1 476.8 L863.7 461.9 847.4 453.7 829.8 468.5ZM913.2 487.0 L930.9 472.4 914.2 464.0 896.6 478.5ZM981.3 498.3 L998.9 483.9 981.9 475.2 964.4 489.5ZM1102.5 514.6 L1119.9 500.8 1102.5 491.8 1085.1 505.4ZM1155.1 519.2 L1172.5 505.8 1154.8 496.7 1137.5 510.0ZM1261.4 530.6 L1278.5 517.9 1260.5 508.4 1243.3 521.0ZM1315.1 537.2 L1332.1 524.9 1313.8 515.2 1296.8 527.5ZM1404.6 542.5 L1421.5 531.0 1402.8 521.1 1386.0 532.6ZM1653.5 541.6 L1669.5 533.1 1650.1 523.0 1634.1 531.4ZM1704.9 535.4 L1720.6 527.8 1701.2 517.7 1685.4 525.2Z"/>
<path fill="#92ff00" stroke="#92ff00" d="M747.9 451.6 L765.5 436.6 749.7 428.9 732.0 443.8ZM829.8 468.5 L847.4 453.7 831.2 445.7 813.6 460.4ZM896.6 478.5 L914.2 464.0 897.7 455.7 880.1 470.2ZM964.4 489.5 L981.9 475.2 965.1 466.7 947.6 480.9ZM1033.0 501.5 L1050.5 487.5 1033.4 478.7 1015.9 492.7ZM1085.1 505.4 L1102.5 491.8 1085.1 482.8 1067.7 496.4ZM1208.1 524.6 L1225.3 511.5 1207.5 502.2 1190.2 515.1ZM1350.5 534.6 L1367.5 522.8 1349.0 513.1 1332.1 524.9ZM1440.2 540.9 L1456.9 529.8 1438.2 520.0 1421.5 531.0ZM1475.8 539.8 L1492.4 529.2 1473.5 519.3 1456.9 529.8ZM1511.3 539.2 L1527.8 529.0 1508.9 519.1 1492.4 529.2ZM1546.9 539.1 L1563.3 529.3 1544.2 519.3 1527.8 529.0ZM1582.5 539.4 L1598.7 530.1 1579.5 520.1 1563.3 529.3ZM1618.0 540.3 L1634.1 531.4 1614.8 521.3 1598.7 530.1ZM1669.5 533.1 L1685.4 525.2 1666.0 515.1 1650.1 523.0ZM1720.6 527.8 L1736.3 520.8 1716.8 510.8 1701.2 517.7ZM1736.3 520.8 L1751.8 514.3 1732.4 504.3 1716.8 510.8ZM1751.8 514.3 L1767.2 508.2 1747.8 498.3 1732.4 504.3Z"/>
<path fill="#96ff00" stroke="#96ff00" d="M732.0 443.8 L749.7 428.9 734.0 421.2 716.3 436.1ZM813.6 460.4 L831.2 445.7 815.1 437.7 797.5 452.4ZM880.1 470.2 L897.7 455.7 881.3 447.5 863.7 461.9ZM1015.9 492.7 L1033.4 478.7 1016.3 470.0 998.9 483.9ZM1137.5 510.0 L1154.8 496.7 1137.2 487.6 1119.9 500.8ZM1190.2 515.1 L1207.5 502.2 1189.7 493.0 1172.5 505.8ZM1243.3 521.0 L1260.5 508.4 1242.5 499.0 1225.3 511.5ZM1296.8 527.5 L1313.8 515.2 1295.6 505.7 1278.5 517.9ZM1386.0 532.6 L1402.8 521.1 1384.3 511.4 1367.5 522.8ZM1421.5 531.0 L1438.2 520.0 1419.5 510.2 1402.8 521.1ZM1598.7 530.1 L1614.8 521.3 1595.7 511.3 1579.5 520.1ZM1634.1 531.4 L1650.1 523.0 1630.9 513.0 1614.8 521.3ZM1685.4 525.2 L1701.2 517.7 1681.8 507.7 1666.0 515.1ZM1701.2 517.7 L1716.8 510.8 1697.5 500.8 1681.8 507.7Z"/>
<path fill="#9aff00" stroke="#9aff00" d="M716.3 436.1 L734.0 421.2 718.4 413.7 700.7 428.5ZM797.5 452.4 L815.1 437.7 799.1 429.8 781.5 444.4ZM947.6 480.9 L965.1 466.7 948.4 458.3 930.9 472.4ZM1067.7 496.4 L1085.1 482.8 1067.9 474.0 1050.5 487.5ZM1119.9 500.8 L1137.2 487.6 1119.8 478.6 1102.5 491.8ZM1278.5 517.9 L1295.6 505.7 1277.5 496.3 1260.5 508.4ZM1332.1 524.9 L1349.0 513.1 1330.7 503.5 1313.8 515.2ZM1367.5 522.8 L1384.3 511.4 1365.9 501.8 1349.0 513.1ZM1456.9 529.8 L1473.5 519.3 1454.8 509.5 1438.2 520.0ZM1492.4 529.2 L1508.9 519.1 1490.0 509.2 1473.5 519.3ZM1527.8 529.0 L1544.2 519.3 1525.3 509.5 1508.9 519.1ZM1563.3 529.3 L1579.5 520.1 1560.5 510.2 1544.2 519.3ZM1614.8 521.3 L1630.9 513.0 1611.7 503.1 1595.7 511.3ZM1650.1 523.0 L1666.0 515.1 1646.8 505.2 1630.9 513.0ZM1666.0 515.1 L1681.8 507.7 1662.6 497.9 1646.8 505.2ZM1716.8 510.8 L1732.4 504.3 1713.1 494.5 1697.5 500.8ZM1732.4 504.3 L1747.8 498.3 1728.5 488.5 1713.1 494.5Z"/>
<path fill="#9eff00" stroke="#9eff00" d="M781.5 444.4 L799.1 429.8 783.1 422.1 765.5 436.6ZM863.7 461.9 L881.3 447.5 865.0 439.4 847.4 453.7ZM930.9 472.4 L948.4 458.3 931.8 449.9 914.2 464.0ZM998.9 483.9 L1016.3 470.0 999.4 461.5 981.9 475.2ZM1050.5 487.5 L1067.9 474.0 1050.7 465.3 1033.4 478.7ZM1172.5 505.8 L1189.7 493.0 1172.0 483.9 1154.8 496.7ZM1225.3 511.5 L1242.5 499.0 1224.6 489.8 1207.5 502.2ZM1313.8 515.2 L1330.7 503.5 1312.5 494.1 1295.6 505.7ZM1402.8 521.1 L1419.5 510.2 1401.0 500.6 1384.3 511.4ZM1438.2 520.0 L1454.8 509.5 1436.2 499.8 1419.5 510.2ZM1544.2 519.3 L1560.5 510.2 1541.5 500.4 1525.3 509.5ZM1579.5 520.1 L1595.7 511.3 1576.6 501.5 1560.5 510.2ZM1630.9 513.0 L1646.8 505.2 1627.6 495.4 1611.7 503.1ZM1681.8 507.7 L1697.5 500.8 1678.3 491.0 1662.6 497.9Z"/>
<path fill="#a1ff00" stroke="#a1ff00" d="M765.5 436.6 L783.1 422.1 767.3 414.4 749.7 428.9ZM847.4 453.7 L865.0 439.4 848.8 431.4 831.2 445.7ZM914.2 464.0 L931.8 449.9 915.2 441.7 897.7 455.7ZM981.9 475.2 L999.4 461.5 982.6 453.0 965.1 466.7ZM1102.5 491.8 L1119.8 478.6 1102.4 469.8 1085.1 482.8ZM1154.8 496.7 L1172.0 483.9 1154.4 474.9 1137.2 487.6ZM1207.5 502.2 L1224.6 489.8 1206.8 480.6 1189.7 493.0ZM1260.5 508.4 L1277.5 496.3 1259.5 487.0 1242.5 499.0ZM1349.0 513.1 L1365.9 501.8 1347.6 492.3 1330.7 503.5ZM1473.5 519.3 L1490.0 509.2 1471.3 499.5 1454.8 509.5ZM1508.9 519.1 L1525.3 509.5 1506.4 499.7 1490.0 509.2ZM1595.7 511.3 L1611.7 503.1 1592.7 493.3 1576.6 501.5ZM1646.8 505.2 L1662.6 497.9 1643.5 488.1 1627.6 495.4ZM1697.5 500.8 L1713.1 494.5 1693.8 484.7 1678.3 491.0ZM1713.1 494.5 L1728.5 488.5 1709.3 478.9 1693.8 484.7Z"/>
<path fill="#a9ff00" stroke="#a9ff00" d="M749.7 428.9 L767.3 414.4 751.6 406.9 734.0 421.2ZM815.1 437.7 L832.6 423.5 816.6 415.8 799.1 429.8ZM948.4 458.3 L965.8 444.6 949.2 436.4 931.8 449.9ZM1016.3 470.0 L1033.7 456.7 1016.8 448.2 999.4 461.5ZM1137.2 487.6 L1154.4 474.9 1137.0 466.0 1119.8 478.6ZM1189.7 493.0 L1206.8 480.6 1189.1 471.6 1172.0 483.9ZM1277.5 496.3 L1294.4 484.8 1276.4 475.6 1259.5 487.0ZM1330.7 503.5 L1347.6 492.3 1329.4 483.0 1312.5 494.1ZM1365.9 501.8 L1382.6 491.1 1364.3 481.7 1347.6 492.3ZM1576.6 501.5 L1592.7 493.3 1573.8 483.7 1557.7 491.8ZM1627.6 495.4 L1643.5 488.1 1624.4 478.5 1608.6 485.6ZM1693.8 484.7 L1709.3 478.9 1690.2 469.3 1674.7 475.1Z"/>
<path fill="#adff00" stroke="#adff00" d="M734.0 421.2 L751.6 406.9 735.9 399.4 718.4 413.7ZM799.1 429.8 L816.6 415.8 800.7 408.1 783.1 422.1ZM881.3 447.5 L898.8 433.6 882.5 425.6 865.0 439.4ZM999.4 461.5 L1016.8 448.2 999.9 439.8 982.6 453.0ZM1067.9 474.0 L1085.2 461.0 1068.0 452.4 1050.7 465.3ZM1119.8 478.6 L1137.0 466.0 1119.6 457.2 1102.4 469.8ZM1172.0 483.9 L1189.1 471.6 1171.6 462.7 1154.4 474.9ZM1224.6 489.8 L1241.6 477.9 1223.8 468.8 1206.8 480.6ZM1312.5 494.1 L1329.4 483.0 1311.3 473.7 1294.4 484.8ZM1401.0 500.6 L1417.6 490.2 1399.2 480.8 1382.6 491.1ZM1436.2 499.8 L1452.7 489.9 1434.1 480.4 1417.6 490.2ZM1471.3 499.5 L1487.7 490.1 1469.1 480.5 1452.7 489.9ZM1506.4 499.7 L1522.7 490.7 1504.0 481.1 1487.7 490.1ZM1541.5 500.4 L1557.7 491.8 1538.9 482.1 1522.7 490.7ZM1592.7 493.3 L1608.6 485.6 1589.7 476.1 1573.8 483.7ZM1643.5 488.1 L1659.2 481.4 1640.2 471.8 1624.4 478.5ZM1659.2 481.4 L1674.7 475.1 1655.8 465.6 1640.2 471.8ZM1674.7 475.1 L1690.2 469.3 1671.2 459.9 1655.8 465.6Z"/>
<path fill="#a5ff00" stroke="#a5ff00" d="M831.2 445.7 L848.8 431.4 832.6 423.5 815.1 437.7ZM897.7 455.7 L915.2 441.7 898.8 433.6 881.3 447.5ZM965.1 466.7 L982.6 453.0 965.8 444.6 948.4 458.3ZM1033.4 478.7 L1050.7 465.3 1033.7 456.7 1016.3 470.0ZM1085.1 482.8 L1102.4 469.8 1085.2 461.0 1067.9 474.0ZM1242.5 499.0 L1259.5 487.0 1241.6 477.9 1224.6 489.8ZM1295.6 505.7 L1312.5 494.1 1294.4 484.8 1277.5 496.3ZM1384.3 511.4 L1401.0 500.6 1382.6 491.1 1365.9 501.8ZM1419.5 510.2 L1436.2 499.8 1417.6 490.2 1401.0 500.6ZM1454.8 509.5 L1471.3 499.5 1452.7 489.9 1436.2 499.8ZM1490.0 509.2 L1506.4 499.7 1487.7 490.1 1471.3 499.5ZM1525.3 509.5 L1541.5 500.4 1522.7 490.7 1506.4 499.7ZM1560.5 510.2 L1576.6 501.5 1557.7 491.8 1541.5 500.4ZM1611.7 503.1 L1627.6 495.4 1608.6 485.6 1592.7 493.3ZM1662.6 497.9 L1678.3 491.0 1659.2 481.4 1643.5 488.1ZM1678.3 491.0 L1693.8 484.7 1674.7 475.1 1659.2 481.4Z"/>
<path fill="#b1ff00" stroke="#b1ff00" d="M783.1 422.1 L800.7 408.1 784.8 400.5 767.3 414.4ZM865.0 439.4 L882.5 425.6 866.2 417.7 848.8 431.4ZM931.8 449.9 L949.2 436.4 932.7 428.3 915.2 441.7ZM1050.7 465.3 L1068.0 452.4 1051.0 443.9 1033.7 456.7ZM1102.4 469.8 L1119.6 457.2 1102.4 448.6 1085.2 461.0ZM1154.4 474.9 L1171.6 462.7 1154.1 453.9 1137.0 466.0ZM1206.8 480.6 L1223.8 468.8 1206.2 459.8 1189.1 471.6ZM1259.5 487.0 L1276.4 475.6 1258.6 466.5 1241.6 477.9ZM1347.6 492.3 L1364.3 481.7 1346.1 472.4 1329.4 483.0ZM1382.6 491.1 L1399.2 480.8 1380.9 471.5 1364.3 481.7ZM1522.7 490.7 L1538.9 482.1 1520.2 472.6 1504.0 481.1ZM1557.7 491.8 L1573.8 483.7 1554.9 474.1 1538.9 482.1ZM1608.6 485.6 L1624.4 478.5 1605.5 468.9 1589.7 476.1ZM1624.4 478.5 L1640.2 471.8 1621.3 462.3 1605.5 468.9Z"/>
<path fill="#b9ff00" stroke="#b9ff00" d="M767.3 414.4 L784.8 400.5 769.1 393.0 751.6 406.9ZM832.6 423.5 L850.1 409.9 834.1 402.2 816.6 415.8ZM898.8 433.6 L916.2 420.2 899.9 412.3 882.5 425.6ZM965.8 444.6 L983.2 431.5 966.5 423.4 949.2 436.4ZM1085.2 461.0 L1102.4 448.6 1085.2 440.0 1068.0 452.4ZM1137.0 466.0 L1154.1 453.9 1136.7 445.2 1119.6 457.2ZM1189.1 471.6 L1206.2 459.8 1188.6 451.0 1171.6 462.7ZM1276.4 475.6 L1293.3 464.6 1275.4 455.6 1258.6 466.5ZM1364.3 481.7 L1380.9 471.5 1362.7 462.3 1346.1 472.4ZM1399.2 480.8 L1415.7 471.1 1397.4 461.8 1380.9 471.5ZM1434.1 480.4 L1450.6 471.1 1432.2 461.8 1415.7 471.1ZM1469.1 480.5 L1485.4 471.6 1466.9 462.3 1450.6 471.1ZM1504.0 481.1 L1520.2 472.6 1501.6 463.3 1485.4 471.6ZM1554.9 474.1 L1570.9 466.6 1552.2 457.2 1536.2 464.7ZM1605.5 468.9 L1621.3 462.3 1602.5 453.0 1586.7 459.5ZM1621.3 462.3 L1636.9 456.2 1618.1 446.9 1602.5 453.0Z"/>
<path fill="#bcff00" stroke="#bcff00" d="M751.6 406.9 L769.1 393.0 753.4 385.6 735.9 399.4ZM816.6 415.8 L834.1 402.2 818.1 394.6 800.7 408.1ZM882.5 425.6 L899.9 412.3 883.6 404.4 866.2 417.7ZM949.2 436.4 L966.5 423.4 950.0 415.3 932.7 428.3ZM1016.8 448.2 L1034.0 435.5 1017.2 427.1 999.9 439.8ZM1068.0 452.4 L1085.2 440.0 1068.2 431.5 1051.0 443.9ZM1119.6 457.2 L1136.7 445.2 1119.5 436.6 1102.4 448.6ZM1171.6 462.7 L1188.6 451.0 1171.1 442.3 1154.1 453.9ZM1223.8 468.8 L1240.8 457.5 1223.1 448.6 1206.2 459.8ZM1311.3 473.7 L1328.0 463.2 1310.0 454.1 1293.3 464.6ZM1520.2 472.6 L1536.2 464.7 1517.6 455.4 1501.6 463.3ZM1570.9 466.6 L1586.7 459.5 1568.1 450.2 1552.2 457.2ZM1636.9 456.2 L1652.4 450.5 1633.6 441.3 1618.1 446.9Z"/>
<path fill="#b5ff00" stroke="#b5ff00" d="M848.8 431.4 L866.2 417.7 850.1 409.9 832.6 423.5ZM915.2 441.7 L932.7 428.3 916.2 420.2 898.8 433.6ZM982.6 453.0 L999.9 439.8 983.2 431.5 965.8 444.6ZM1033.7 456.7 L1051.0 443.9 1034.0 435.5 1016.8 448.2ZM1241.6 477.9 L1258.6 466.5 1240.8 457.5 1223.8 468.8ZM1294.4 484.8 L1311.3 473.7 1293.3 464.6 1276.4 475.6ZM1329.4 483.0 L1346.1 472.4 1328.0 463.2 1311.3 473.7ZM1417.6 490.2 L1434.1 480.4 1415.7 471.1 1399.2 480.8ZM1452.7 489.9 L1469.1 480.5 1450.6 471.1 1434.1 480.4ZM1487.7 490.1 L1504.0 481.1 1485.4 471.6 1469.1 480.5ZM1538.9 482.1 L1554.9 474.1 1536.2 464.7 1520.2 472.6ZM1573.8 483.7 L1589.7 476.1 1570.9 466.6 1554.9 474.1ZM1589.7 476.1 L1605.5 468.9 1586.7 459.5 1570.9 466.6ZM1640.2 471.8 L1655.8 465.6 1636.9 456.2 1621.3 462.3ZM1655.8 465.6 L1671.2 459.9 1652.4 450.5 1636.9 456.2Z"/>
<path fill="#c0ff00" stroke="#c0ff00" d="M800.7 408.1 L818.1 394.6 802.3 387.1 784.8 400.5ZM932.7 428.3 L950.0 415.3 933.6 407.3 916.2 420.2ZM999.9 439.8 L1017.2 427.1 1000.4 418.9 983.2 431.5ZM1051.0 443.9 L1068.2 431.5 1051.2 423.2 1034.0 435.5ZM1206.2 459.8 L1223.1 448.6 1205.5 439.8 1188.6 451.0ZM1258.6 466.5 L1275.4 455.6 1257.6 446.6 1240.8 457.5ZM1346.1 472.4 L1362.7 462.3 1344.6 453.2 1328.0 463.2ZM1380.9 471.5 L1397.4 461.8 1379.2 452.7 1362.7 462.3ZM1415.7 471.1 L1432.2 461.8 1413.9 452.6 1397.4 461.8ZM1450.6 471.1 L1466.9 462.3 1448.5 453.1 1432.2 461.8ZM1485.4 471.6 L1501.6 463.3 1483.1 454.0 1466.9 462.3ZM1536.2 464.7 L1552.2 457.2 1533.6 448.0 1517.6 455.4ZM1586.7 459.5 L1602.5 453.0 1583.8 443.8 1568.1 450.2ZM1602.5 453.0 L1618.1 446.9 1599.4 437.7 1583.8 443.8ZM1618.1 446.9 L1633.6 441.3 1615.0 432.2 1599.4 437.7Z"/>
<path fill="#c4ff00" stroke="#c4ff00" d="M784.8 400.5 L802.3 387.1 786.5 379.7 769.1 393.0ZM866.2 417.7 L883.6 404.4 867.5 396.7 850.1 409.9ZM983.2 431.5 L1000.4 418.9 983.8 410.8 966.5 423.4ZM1102.4 448.6 L1119.5 436.6 1102.3 428.1 1085.2 440.0ZM1154.1 453.9 L1171.1 442.3 1153.8 433.6 1136.7 445.2ZM1240.8 457.5 L1257.6 446.6 1239.9 437.8 1223.1 448.6ZM1293.3 464.6 L1310.0 454.1 1292.1 445.2 1275.4 455.6ZM1328.0 463.2 L1344.6 453.2 1326.6 444.2 1310.0 454.1ZM1362.7 462.3 L1379.2 452.7 1361.2 443.6 1344.6 453.2ZM1432.2 461.8 L1448.5 453.1 1430.2 444.0 1413.9 452.6ZM1466.9 462.3 L1483.1 454.0 1464.7 444.8 1448.5 453.1ZM1501.6 463.3 L1517.6 455.4 1499.1 446.2 1483.1 454.0ZM1552.2 457.2 L1568.1 450.2 1549.5 441.1 1533.6 448.0ZM1568.1 450.2 L1583.8 443.8 1565.2 434.6 1549.5 441.1Z"/>
<path fill="#c8ff00" stroke="#c8ff00" d="M769.1 393.0 L786.5 379.7 770.8 372.4 753.4 385.6ZM850.1 409.9 L867.5 396.7 851.4 389.1 834.1 402.2ZM916.2 420.2 L933.6 407.3 917.2 399.5 899.9 412.3ZM966.5 423.4 L983.8 410.8 967.3 402.8 950.0 415.3ZM1034.0 435.5 L1051.2 423.2 1034.4 415.0 1017.2 427.1ZM1085.2 440.0 L1102.3 428.1 1085.3 419.7 1068.2 431.5ZM1136.7 445.2 L1153.8 433.6 1136.5 425.1 1119.5 436.6ZM1188.6 451.0 L1205.5 439.8 1188.1 431.2 1171.1 442.3ZM1275.4 455.6 L1292.1 445.2 1274.3 436.3 1257.6 446.6ZM1397.4 461.8 L1413.9 452.6 1395.7 443.6 1379.2 452.7ZM1483.1 454.0 L1499.1 446.2 1480.8 437.1 1464.7 444.8ZM1517.6 455.4 L1533.6 448.0 1515.1 438.8 1499.1 446.2ZM1533.6 448.0 L1549.5 441.1 1531.0 432.0 1515.1 438.8ZM1583.8 443.8 L1599.4 437.7 1580.9 428.7 1565.2 434.6ZM1599.4 437.7 L1615.0 432.2 1596.4 423.2 1580.9 428.7Z"/>
<path fill="#ccff00" stroke="#ccff00" d="M834.1 402.2 L851.4 389.1 835.5 381.6 818.1 394.6ZM899.9 412.3 L917.2 399.5 901.0 391.7 883.6 404.4ZM1017.2 427.1 L1034.4 415.0 1017.6 406.8 1000.4 418.9ZM1068.2 431.5 L1085.3 419.7 1068.3 411.5 1051.2 423.2ZM1119.5 436.6 L1136.5 425.1 1119.4 416.7 1102.3 428.1ZM1171.1 442.3 L1188.1 431.2 1170.7 422.6 1153.8 433.6ZM1223.1 448.6 L1239.9 437.8 1222.4 429.1 1205.5 439.8ZM1310.0 454.1 L1326.6 444.2 1308.8 435.3 1292.1 445.2ZM1344.6 453.2 L1361.2 443.6 1343.2 434.7 1326.6 444.2ZM1379.2 452.7 L1395.7 443.6 1377.6 434.6 1361.2 443.6ZM1413.9 452.6 L1430.2 444.0 1412.0 435.0 1395.7 443.6ZM1448.5 453.1 L1464.7 444.8 1446.4 435.8 1430.2 444.0ZM1499.1 446.2 L1515.1 438.8 1496.7 429.8 1480.8 437.1ZM1549.5 441.1 L1565.2 434.6 1546.8 425.6 1531.0 432.0ZM1565.2 434.6 L1580.9 428.7 1562.4 419.7 1546.8 425.6ZM1580.9 428.7 L1596.4 423.2 1578.0 414.3 1562.4 419.7Z"/>
<path fill="#d0ff00" stroke="#d0ff00" d="M818.1 394.6 L835.5 381.6 819.6 374.1 802.3 387.1ZM883.6 404.4 L901.0 391.7 884.8 384.1 867.5 396.7ZM950.0 415.3 L967.3 402.8 950.8 395.0 933.6 407.3ZM1000.4 418.9 L1017.6 406.8 1001.0 398.8 983.8 410.8ZM1205.5 439.8 L1222.4 429.1 1204.9 420.6 1188.1 431.2ZM1257.6 446.6 L1274.3 436.3 1256.7 427.6 1239.9 437.8ZM1292.1 445.2 L1308.8 435.3 1291.0 426.5 1274.3 436.3ZM1326.6 444.2 L1343.2 434.7 1325.3 425.9 1308.8 435.3ZM1430.2 444.0 L1446.4 435.8 1428.2 426.8 1412.0 435.0ZM1464.7 444.8 L1480.8 437.1 1462.5 428.1 1446.4 435.8ZM1515.1 438.8 L1531.0 432.0 1512.6 423.0 1496.7 429.8Z"/>
<path fill="#d4ff00" stroke="#d4ff00" d="M802.3 387.1 L819.6 374.1 803.8 366.8 786.5 379.7ZM867.5 396.7 L884.8 384.1 868.7 376.5 851.4 389.1ZM933.6 407.3 L950.8 395.0 934.4 387.2 917.2 399.5ZM1051.2 423.2 L1068.3 411.5 1051.5 403.3 1034.4 415.0ZM1102.3 428.1 L1119.4 416.7 1102.3 408.4 1085.3 419.7ZM1153.8 433.6 L1170.7 422.6 1153.4 414.2 1136.5 425.1ZM1239.9 437.8 L1256.7 427.6 1239.1 419.0 1222.4 429.1ZM1361.2 443.6 L1377.6 434.6 1359.6 425.7 1343.2 434.7ZM1395.7 443.6 L1412.0 435.0 1393.9 426.1 1377.6 434.6ZM1446.4 435.8 L1462.5 428.1 1444.3 419.2 1428.2 426.8ZM1480.8 437.1 L1496.7 429.8 1478.5 420.9 1462.5 428.1ZM1531.0 432.0 L1546.8 425.6 1528.4 416.7 1512.6 423.0ZM1546.8 425.6 L1562.4 419.7 1544.1 410.9 1528.4 416.7ZM1562.4 419.7 L1578.0 414.3 1559.6 405.5 1544.1 410.9Z"/>
<path fill="#d8ff00" stroke="#d8ff00" d="M786.5 379.7 L803.8 366.8 788.2 359.6 770.8 372.4ZM851.4 389.1 L868.7 376.5 852.8 369.0 835.5 381.6ZM917.2 399.5 L934.4 387.2 918.2 379.5 901.0 391.7ZM983.8 410.8 L1001.0 398.8 984.4 390.9 967.3 402.8ZM1034.4 415.0 L1051.5 403.3 1034.7 395.2 1017.6 406.8ZM1085.3 419.7 L1102.3 408.4 1085.3 400.2 1068.3 411.5ZM1136.5 425.1 L1153.4 414.2 1136.3 405.8 1119.4 416.7ZM1188.1 431.2 L1204.9 420.6 1187.5 412.1 1170.7 422.6ZM1222.4 429.1 L1239.1 419.0 1221.6 410.5 1204.9 420.6ZM1274.3 436.3 L1291.0 426.5 1273.3 417.8 1256.7 427.6ZM1308.8 435.3 L1325.3 425.9 1307.5 417.2 1291.0 426.5ZM1343.2 434.7 L1359.6 425.7 1341.7 417.0 1325.3 425.9ZM1377.6 434.6 L1393.9 426.1 1375.9 417.3 1359.6 425.7ZM1412.0 435.0 L1428.2 426.8 1410.1 418.0 1393.9 426.1ZM1462.5 428.1 L1478.5 420.9 1460.3 412.1 1444.3 419.2ZM1496.7 429.8 L1512.6 423.0 1494.4 414.2 1478.5 420.9ZM1512.6 423.0 L1528.4 416.7 1510.2 407.9 1494.4 414.2ZM1528.4 416.7 L1544.1 410.9 1525.8 402.2 1510.2 407.9Z"/>
<path fill="#dbff00" stroke="#dbff00" d="M835.5 381.6 L852.8 369.0 836.9 361.7 819.6 374.1ZM901.0 391.7 L918.2 379.5 902.0 371.9 884.8 384.1ZM967.3 402.8 L984.4 390.9 968.0 383.1 950.8 395.0ZM1017.6 406.8 L1034.7 395.2 1018.1 387.3 1001.0 398.8ZM1068.3 411.5 L1085.3 400.2 1068.5 392.1 1051.5 403.3ZM1119.4 416.7 L1136.3 405.8 1119.2 397.6 1102.3 408.4ZM1170.7 422.6 L1187.5 412.1 1170.3 403.7 1153.4 414.2ZM1256.7 427.6 L1273.3 417.8 1255.7 409.3 1239.1 419.0ZM1291.0 426.5 L1307.5 417.2 1289.8 408.6 1273.3 417.8ZM1393.9 426.1 L1410.1 418.0 1392.2 409.3 1375.9 417.3ZM1428.2 426.8 L1444.3 419.2 1426.2 410.5 1410.1 418.0ZM1478.5 420.9 L1494.4 414.2 1476.2 405.4 1460.3 412.1ZM1544.1 410.9 L1559.6 405.5 1541.4 396.9 1525.8 402.2Z"/>
<path fill="#dfff00" stroke="#dfff00" d="M819.6 374.1 L836.9 361.7 821.1 354.4 803.8 366.8ZM884.8 384.1 L902.0 371.9 886.0 364.4 868.7 376.5ZM950.8 395.0 L968.0 383.1 951.6 375.4 934.4 387.2ZM1001.0 398.8 L1018.1 387.3 1001.5 379.4 984.4 390.9ZM1153.4 414.2 L1170.3 403.7 1153.1 395.4 1136.3 405.8ZM1204.9 420.6 L1221.6 410.5 1204.3 402.0 1187.5 412.1ZM1239.1 419.0 L1255.7 409.3 1238.3 400.8 1221.6 410.5ZM1325.3 425.9 L1341.7 417.0 1324.0 408.4 1307.5 417.2ZM1359.6 425.7 L1375.9 417.3 1358.1 408.6 1341.7 417.0ZM1410.1 418.0 L1426.2 410.5 1408.3 401.8 1392.2 409.3ZM1444.3 419.2 L1460.3 412.1 1442.3 403.4 1426.2 410.5ZM1494.4 414.2 L1510.2 407.9 1492.0 399.2 1476.2 405.4ZM1510.2 407.9 L1525.8 402.2 1507.7 393.5 1492.0 399.2ZM1525.8 402.2 L1541.4 396.9 1523.3 388.3 1507.7 393.5Z"/>
<path fill="#e3ff00" stroke="#e3ff00" d="M803.8 366.8 L821.1 354.4 805.4 347.3 788.2 359.6ZM868.7 376.5 L886.0 364.4 870.0 357.0 852.8 369.0ZM934.4 387.2 L951.6 375.4 935.3 367.7 918.2 379.5ZM1051.5 403.3 L1068.5 392.1 1051.7 384.1 1034.7 395.2ZM1102.3 408.4 L1119.2 397.6 1102.3 389.5 1085.3 400.2ZM1187.5 412.1 L1204.3 402.0 1187.0 393.7 1170.3 403.7ZM1273.3 417.8 L1289.8 408.6 1272.3 400.1 1255.7 409.3ZM1307.5 417.2 L1324.0 408.4 1306.3 399.8 1289.8 408.6ZM1341.7 417.0 L1358.1 408.6 1340.3 400.0 1324.0 408.4ZM1375.9 417.3 L1392.2 409.3 1374.3 400.7 1358.1 408.6ZM1426.2 410.5 L1442.3 403.4 1424.3 394.8 1408.3 401.8ZM1460.3 412.1 L1476.2 405.4 1458.2 396.8 1442.3 403.4ZM1476.2 405.4 L1492.0 399.2 1474.0 390.7 1458.2 396.8ZM1492.0 399.2 L1507.7 393.5 1489.7 385.0 1474.0 390.7Z"/>
<path fill="#ebff00" stroke="#ebff00" d="M852.8 369.0 L870.0 357.0 854.1 349.7 836.9 361.7ZM902.0 371.9 L919.2 360.2 903.1 352.8 886.0 364.4ZM968.0 383.1 L985.0 371.7 968.7 364.0 951.6 375.4ZM1018.1 387.3 L1035.1 376.3 1018.5 368.5 1001.5 379.4ZM1068.5 392.1 L1085.4 381.5 1068.6 373.5 1051.7 384.1ZM1119.2 397.6 L1136.0 387.3 1119.1 379.2 1102.3 389.5ZM1170.3 403.7 L1187.0 393.7 1169.8 385.5 1153.1 395.4ZM1204.3 402.0 L1220.9 392.5 1203.6 384.3 1187.0 393.7ZM1289.8 408.6 L1306.3 399.8 1288.7 391.4 1272.3 400.1ZM1324.0 408.4 L1340.3 400.0 1322.6 391.6 1306.3 399.8ZM1374.3 400.7 L1390.4 393.3 1372.7 384.8 1356.5 392.2ZM1408.3 401.8 L1424.3 394.8 1406.4 386.3 1390.4 393.3ZM1458.2 396.8 L1474.0 390.7 1456.0 382.2 1440.2 388.3ZM1474.0 390.7 L1489.7 385.0 1471.7 376.6 1456.0 382.2ZM1489.7 385.0 L1505.2 379.8 1487.3 371.5 1471.7 376.6Z"/>
<path fill="#efff00" stroke="#efff00" d="M836.9 361.7 L854.1 349.7 838.3 342.6 821.1 354.4ZM951.6 375.4 L968.7 364.0 952.4 356.5 935.3 367.7ZM1001.5 379.4 L1018.5 368.5 1002.0 360.8 985.0 371.7ZM1102.3 389.5 L1119.1 379.2 1102.2 371.3 1085.4 381.5ZM1153.1 395.4 L1169.8 385.5 1152.8 377.5 1136.0 387.3ZM1238.3 400.8 L1254.8 391.7 1237.4 383.5 1220.9 392.5ZM1272.3 400.1 L1288.7 391.4 1271.3 383.1 1254.8 391.7ZM1306.3 399.8 L1322.6 391.6 1305.1 383.2 1288.7 391.4ZM1340.3 400.0 L1356.5 392.2 1338.9 383.8 1322.6 391.6ZM1390.4 393.3 L1406.4 386.3 1388.7 377.9 1372.7 384.8ZM1424.3 394.8 L1440.2 388.3 1422.4 379.8 1406.4 386.3ZM1440.2 388.3 L1456.0 382.2 1438.2 373.8 1422.4 379.8ZM1456.0 382.2 L1471.7 376.6 1453.9 368.3 1438.2 373.8Z"/>
<path fill="#f3ff00" stroke="#f3ff00" d="M821.1 354.4 L838.3 342.6 822.6 335.5 805.4 347.3ZM886.0 364.4 L903.1 352.8 887.1 345.5 870.0 357.0ZM935.3 367.7 L952.4 356.5 936.2 349.1 919.2 360.2ZM1051.7 384.1 L1068.6 373.5 1052.0 365.7 1035.1 376.3ZM1136.0 387.3 L1152.8 377.5 1135.8 369.5 1119.1 379.2ZM1187.0 393.7 L1203.6 384.3 1186.5 376.1 1169.8 385.5ZM1220.9 392.5 L1237.4 383.5 1220.2 375.3 1203.6 384.3ZM1254.8 391.7 L1271.3 383.1 1253.9 374.9 1237.4 383.5ZM1288.7 391.4 L1305.1 383.2 1287.6 375.0 1271.3 383.1ZM1322.6 391.6 L1338.9 383.8 1321.3 375.5 1305.1 383.2ZM1356.5 392.2 L1372.7 384.8 1355.0 376.5 1338.9 383.8ZM1406.4 386.3 L1422.4 379.8 1404.6 371.5 1388.7 377.9ZM1471.7 376.6 L1487.3 371.5 1469.5 363.2 1453.9 368.3Z"/>
<path fill="#e7ff00" stroke="#e7ff00" d="M918.2 379.5 L935.3 367.7 919.2 360.2 902.0 371.9ZM984.4 390.9 L1001.5 379.4 985.0 371.7 968.0 383.1ZM1034.7 395.2 L1051.7 384.1 1035.1 376.3 1018.1 387.3ZM1085.3 400.2 L1102.3 389.5 1085.4 381.5 1068.5 392.1ZM1136.3 405.8 L1153.1 395.4 1136.0 387.3 1119.2 397.6ZM1221.6 410.5 L1238.3 400.8 1220.9 392.5 1204.3 402.0ZM1255.7 409.3 L1272.3 400.1 1254.8 391.7 1238.3 400.8ZM1358.1 408.6 L1374.3 400.7 1356.5 392.2 1340.3 400.0ZM1392.2 409.3 L1408.3 401.8 1390.4 393.3 1374.3 400.7ZM1442.3 403.4 L1458.2 396.8 1440.2 388.3 1424.3 394.8ZM1507.7 393.5 L1523.3 388.3 1505.2 379.8 1489.7 385.0Z"/>
<path fill="#f6ff00" stroke="#f6ff00" d="M870.0 357.0 L887.1 345.5 871.2 338.3 854.1 349.7ZM919.2 360.2 L936.2 349.1 920.1 341.7 903.1 352.8ZM985.0 371.7 L1002.0 360.8 985.6 353.2 968.7 364.0ZM1035.1 376.3 L1052.0 365.7 1035.4 358.0 1018.5 368.5ZM1085.4 381.5 L1102.2 371.3 1085.4 363.4 1068.6 373.5ZM1119.1 379.2 L1135.8 369.5 1118.9 361.6 1102.2 371.3ZM1169.8 385.5 L1186.5 376.1 1169.4 368.1 1152.8 377.5ZM1203.6 384.3 L1220.2 375.3 1203.0 367.2 1186.5 376.1ZM1338.9 383.8 L1355.0 376.5 1337.4 368.3 1321.3 375.5ZM1372.7 384.8 L1388.7 377.9 1371.0 369.7 1355.0 376.5ZM1388.7 377.9 L1404.6 371.5 1387.0 363.3 1371.0 369.7ZM1422.4 379.8 L1438.2 373.8 1420.4 365.6 1404.6 371.5ZM1438.2 373.8 L1453.9 368.3 1436.2 360.1 1420.4 365.6ZM1453.9 368.3 L1469.5 363.2 1451.8 355.1 1436.2 360.1Z"/>
<path fill="#faff00" stroke="#faff00" d="M854.1 349.7 L871.2 338.3 855.4 331.2 838.3 342.6ZM903.1 352.8 L920.1 341.7 904.1 334.5 887.1 345.5ZM968.7 364.0 L985.6 353.2 969.4 345.7 952.4 356.5ZM1018.5 368.5 L1035.4 358.0 1018.9 350.4 1002.0 360.8ZM1068.6 373.5 L1085.4 363.4 1068.8 355.7 1052.0 365.7ZM1152.8 377.5 L1169.4 368.1 1152.4 360.2 1135.8 369.5ZM1237.4 383.5 L1253.9 374.9 1236.6 366.8 1220.2 375.3ZM1271.3 383.1 L1287.6 375.0 1270.2 366.8 1253.9 374.9ZM1305.1 383.2 L1321.3 375.5 1303.8 367.3 1287.6 375.0ZM1355.0 376.5 L1371.0 369.7 1353.5 361.5 1337.4 368.3ZM1404.6 371.5 L1420.4 365.6 1402.8 357.4 1387.0 363.3ZM1420.4 365.6 L1436.2 360.1 1418.5 352.0 1402.8 357.4ZM1436.2 360.1 L1451.8 355.1 1434.2 347.0 1418.5 352.0Z"/>
<path fill="#feff00" stroke="#feff00" d="M838.3 342.6 L855.4 331.2 839.7 324.1 822.6 335.5ZM887.1 345.5 L904.1 334.5 888.2 327.3 871.2 338.3ZM952.4 356.5 L969.4 345.7 953.2 338.4 936.2 349.1ZM1002.0 360.8 L1018.9 350.4 1002.5 342.9 985.6 353.2ZM1052.0 365.7 L1068.8 355.7 1052.2 348.0 1035.4 358.0ZM1102.2 371.3 L1118.9 361.6 1102.2 353.8 1085.4 363.4ZM1135.8 369.5 L1152.4 360.2 1135.6 352.4 1118.9 361.6ZM1186.5 376.1 L1203.0 367.2 1186.0 359.3 1169.4 368.1ZM1220.2 375.3 L1236.6 366.8 1219.5 358.8 1203.0 367.2ZM1253.9 374.9 L1270.2 366.8 1253.0 358.8 1236.6 366.8ZM1287.6 375.0 L1303.8 367.3 1286.5 359.2 1270.2 366.8ZM1321.3 375.5 L1337.4 368.3 1320.0 360.1 1303.8 367.3ZM1371.0 369.7 L1387.0 363.3 1369.4 355.2 1353.5 361.5ZM1387.0 363.3 L1402.8 357.4 1385.3 349.4 1369.4 355.2Z"/>
<path fill="#fffc00" stroke="#fffc00" d="M871.2 338.3 L888.2 327.3 872.4 320.3 855.4 331.2ZM936.2 349.1 L953.2 338.4 937.1 331.1 920.1 341.7ZM985.6 353.2 L1002.5 342.9 986.2 335.5 969.4 345.7ZM1035.4 358.0 L1052.2 348.0 1035.7 340.5 1018.9 350.4ZM1085.4 363.4 L1102.2 353.8 1085.5 346.1 1068.8 355.7ZM1169.4 368.1 L1186.0 359.3 1169.0 351.4 1152.4 360.2ZM1203.0 367.2 L1219.5 358.8 1202.4 350.9 1186.0 359.3ZM1236.6 366.8 L1253.0 358.8 1235.8 350.8 1219.5 358.8ZM1270.2 366.8 L1286.5 359.2 1269.2 351.2 1253.0 358.8ZM1303.8 367.3 L1320.0 360.1 1302.6 352.1 1286.5 359.2ZM1337.4 368.3 L1353.5 361.5 1336.0 353.4 1320.0 360.1ZM1353.5 361.5 L1369.4 355.2 1352.0 347.2 1336.0 353.4ZM1402.8 357.4 L1418.5 352.0 1401.0 344.0 1385.3 349.4ZM1418.5 352.0 L1434.2 347.0 1416.6 339.1 1401.0 344.0Z"/>
<path fill="#fff800" stroke="#fff800" d="M855.4 331.2 L872.4 320.3 856.7 313.3 839.7 324.1ZM920.1 341.7 L937.1 331.1 921.1 323.9 904.1 334.5ZM969.4 345.7 L986.2 335.5 970.1 328.2 953.2 338.4ZM1018.9 350.4 L1035.7 340.5 1019.3 333.0 1002.5 342.9ZM1068.8 355.7 L1085.5 346.1 1068.9 338.5 1052.2 348.0ZM1118.9 361.6 L1135.6 352.4 1118.8 344.7 1102.2 353.8ZM1152.4 360.2 L1169.0 351.4 1152.1 343.7 1135.6 352.4ZM1286.5 359.2 L1302.6 352.1 1285.4 344.2 1269.2 351.2ZM1320.0 360.1 L1336.0 353.4 1318.7 345.5 1302.6 352.1ZM1369.4 355.2 L1385.3 349.4 1367.8 341.4 1352.0 347.2ZM1385.3 349.4 L1401.0 344.0 1383.6 336.1 1367.8 341.4ZM1401.0 344.0 L1416.6 339.1 1399.2 331.3 1383.6 336.1Z"/>
<path fill="#fff400" stroke="#fff400" d="M904.1 334.5 L921.1 323.9 905.2 316.8 888.2 327.3ZM953.2 338.4 L970.1 328.2 954.0 320.9 937.1 331.1ZM1052.2 348.0 L1068.9 338.5 1052.4 331.1 1035.7 340.5ZM1102.2 353.8 L1118.8 344.7 1102.1 337.0 1085.5 346.1ZM1135.6 352.4 L1152.1 343.7 1135.3 336.0 1118.8 344.7ZM1186.0 359.3 L1202.4 350.9 1185.4 343.1 1169.0 351.4ZM1219.5 358.8 L1235.8 350.8 1218.8 343.0 1202.4 350.9ZM1253.0 358.8 L1269.2 351.2 1252.1 343.4 1235.8 350.8ZM1302.6 352.1 L1318.7 345.5 1301.4 337.6 1285.4 344.2ZM1336.0 353.4 L1352.0 347.2 1334.6 339.3 1318.7 345.5ZM1352.0 347.2 L1367.8 341.4 1350.5 333.6 1334.6 339.3ZM1367.8 341.4 L1383.6 336.1 1366.2 328.3 1350.5 333.6ZM1383.6 336.1 L1399.2 331.3 1381.9 323.5 1366.2 328.3Z"/>
<path fill="#fff000" stroke="#fff000" d="M888.2 327.3 L905.2 316.8 889.4 309.8 872.4 320.3ZM1002.5 342.9 L1019.3 333.0 1003.0 325.7 986.2 335.5ZM1085.5 346.1 L1102.1 337.0 1085.5 329.5 1068.9 338.5ZM1169.0 351.4 L1185.4 343.1 1168.6 335.4 1152.1 343.7ZM1202.4 350.9 L1218.8 343.0 1201.8 335.3 1185.4 343.1ZM1235.8 350.8 L1252.1 343.4 1235.0 335.6 1218.8 343.0ZM1269.2 351.2 L1285.4 344.2 1268.2 336.4 1252.1 343.4ZM1318.7 345.5 L1334.6 339.3 1317.4 331.5 1301.4 337.6ZM1334.6 339.3 L1350.5 333.6 1333.2 325.8 1317.4 331.5Z"/>
<path fill="#ffec00" stroke="#ffec00" d="M872.4 320.3 L889.4 309.8 873.7 302.9 856.7 313.3ZM937.1 331.1 L954.0 320.9 938.0 313.8 921.1 323.9ZM986.2 335.5 L1003.0 325.7 986.9 318.4 970.1 328.2ZM1035.7 340.5 L1052.4 331.1 1036.0 323.7 1019.3 333.0ZM1068.9 338.5 L1085.5 329.5 1069.1 322.1 1052.4 331.1ZM1118.8 344.7 L1135.3 336.0 1118.7 328.4 1102.1 337.0ZM1152.1 343.7 L1168.6 335.4 1151.8 327.8 1135.3 336.0ZM1185.4 343.1 L1201.8 335.3 1184.9 327.6 1168.6 335.4ZM1218.8 343.0 L1235.0 335.6 1218.0 327.9 1201.8 335.3ZM1252.1 343.4 L1268.2 336.4 1251.2 328.6 1235.0 335.6ZM1285.4 344.2 L1301.4 337.6 1284.3 329.8 1268.2 336.4ZM1301.4 337.6 L1317.4 331.5 1300.2 323.8 1284.3 329.8ZM1350.5 333.6 L1366.2 328.3 1349.0 320.6 1333.2 325.8ZM1366.2 328.3 L1381.9 323.5 1364.7 315.9 1349.0 320.6Z"/>
<path fill="#ffe800" stroke="#ffe800" d="M921.1 323.9 L938.0 313.8 922.0 306.8 905.2 316.8ZM970.1 328.2 L986.9 318.4 970.8 311.3 954.0 320.9ZM1019.3 333.0 L1036.0 323.7 1019.8 316.4 1003.0 325.7ZM1052.4 331.1 L1069.1 322.1 1052.7 314.8 1036.0 323.7ZM1102.1 337.0 L1118.7 328.4 1102.1 321.0 1085.5 329.5ZM1135.3 336.0 L1151.8 327.8 1135.1 320.3 1118.7 328.4ZM1168.6 335.4 L1184.9 327.6 1168.1 320.1 1151.8 327.8ZM1201.8 335.3 L1218.0 327.9 1201.2 320.3 1184.9 327.6ZM1235.0 335.6 L1251.2 328.6 1234.2 321.0 1218.0 327.9ZM1268.2 336.4 L1284.3 329.8 1267.2 322.2 1251.2 328.6ZM1284.3 329.8 L1300.2 323.8 1283.2 316.2 1267.2 322.2ZM1317.4 331.5 L1333.2 325.8 1316.1 318.2 1300.2 323.8ZM1333.2 325.8 L1349.0 320.6 1331.9 313.0 1316.1 318.2ZM1349.0 320.6 L1364.7 315.9 1347.5 308.3 1331.9 313.0Z"/>
<path fill="#ffe400" stroke="#ffe400" d="M905.2 316.8 L922.0 306.8 906.2 299.9 889.4 309.8ZM954.0 320.9 L970.8 311.3 954.7 304.2 938.0 313.8ZM1003.0 325.7 L1019.8 316.4 1003.6 309.2 986.9 318.4ZM1085.5 329.5 L1102.1 321.0 1085.6 313.6 1069.1 322.1ZM1118.7 328.4 L1135.1 320.3 1118.5 312.9 1102.1 321.0ZM1218.0 327.9 L1234.2 321.0 1217.3 313.5 1201.2 320.3ZM1251.2 328.6 L1267.2 322.2 1250.3 314.6 1234.2 321.0ZM1300.2 323.8 L1316.1 318.2 1299.1 310.6 1283.2 316.2ZM1316.1 318.2 L1331.9 313.0 1314.8 305.5 1299.1 310.6ZM1331.9 313.0 L1347.5 308.3 1330.5 300.9 1314.8 305.5Z"/>
<path fill="#ffe000" stroke="#ffe000" d="M889.4 309.8 L906.2 299.9 890.5 293.0 873.7 302.9ZM938.0 313.8 L954.7 304.2 938.8 297.3 922.0 306.8ZM986.9 318.4 L1003.6 309.2 987.5 302.1 970.8 311.3ZM1036.0 323.7 L1052.7 314.8 1036.4 307.6 1019.8 316.4ZM1069.1 322.1 L1085.6 313.6 1069.2 306.4 1052.7 314.8ZM1151.8 327.8 L1168.1 320.1 1151.5 312.7 1135.1 320.3ZM1184.9 327.6 L1201.2 320.3 1184.4 312.9 1168.1 320.1ZM1234.2 321.0 L1250.3 314.6 1233.4 307.2 1217.3 313.5ZM1267.2 322.2 L1283.2 316.2 1266.2 308.7 1250.3 314.6ZM1283.2 316.2 L1299.1 310.6 1282.1 303.2 1266.2 308.7ZM1299.1 310.6 L1314.8 305.5 1297.9 298.1 1282.1 303.2ZM1314.8 305.5 L1330.5 300.9 1313.5 293.6 1297.9 298.1Z"/>
<path fill="#ffdc00" stroke="#ffdc00" d="M922.0 306.8 L938.8 297.3 923.0 290.4 906.2 299.9ZM970.8 311.3 L987.5 302.1 971.4 295.1 954.7 304.2ZM1019.8 316.4 L1036.4 307.6 1020.2 300.4 1003.6 309.2ZM1052.7 314.8 L1069.2 306.4 1052.9 299.2 1036.4 307.6ZM1102.1 321.0 L1118.5 312.9 1102.0 305.6 1085.6 313.6ZM1135.1 320.3 L1151.5 312.7 1134.9 305.3 1118.5 312.9ZM1168.1 320.1 L1184.4 312.9 1167.7 305.5 1151.5 312.7ZM1201.2 320.3 L1217.3 313.5 1200.6 306.1 1184.4 312.9ZM1217.3 313.5 L1233.4 307.2 1216.6 299.8 1200.6 306.1ZM1250.3 314.6 L1266.2 308.7 1249.4 301.3 1233.4 307.2ZM1266.2 308.7 L1282.1 303.2 1265.2 295.8 1249.4 301.3Z"/>
<path fill="#ffd800" stroke="#ffd800" d="M906.2 299.9 L923.0 290.4 907.3 283.6 890.5 293.0ZM954.7 304.2 L971.4 295.1 955.5 288.2 938.8 297.3ZM1003.6 309.2 L1020.2 300.4 1004.1 293.4 987.5 302.1ZM1036.4 307.6 L1052.9 299.2 1036.7 292.1 1020.2 300.4ZM1085.6 313.6 L1102.0 305.6 1085.7 298.4 1069.2 306.4ZM1118.5 312.9 L1134.9 305.3 1118.4 298.1 1102.0 305.6ZM1151.5 312.7 L1167.7 305.5 1151.1 298.2 1134.9 305.3ZM1184.4 312.9 L1200.6 306.1 1183.9 298.8 1167.7 305.5ZM1233.4 307.2 L1249.4 301.3 1232.6 293.9 1216.6 299.8ZM1282.1 303.2 L1297.9 298.1 1281.0 290.8 1265.2 295.8ZM1297.9 298.1 L1313.5 293.6 1296.7 286.3 1281.0 290.8Z"/>
<path fill="#ffd400" stroke="#ffd400" d="M938.8 297.3 L955.5 288.2 939.7 281.4 923.0 290.4ZM987.5 302.1 L1004.1 293.4 988.1 286.5 971.4 295.1ZM1020.2 300.4 L1036.7 292.1 1020.6 285.2 1004.1 293.4ZM1069.2 306.4 L1085.7 298.4 1069.4 291.3 1052.9 299.2ZM1102.0 305.6 L1118.4 298.1 1102.0 290.9 1085.7 298.4ZM1134.9 305.3 L1151.1 298.2 1134.7 291.0 1118.4 298.1ZM1167.7 305.5 L1183.9 298.8 1167.3 291.6 1151.1 298.2ZM1200.6 306.1 L1216.6 299.8 1200.0 292.5 1183.9 298.8ZM1216.6 299.8 L1232.6 293.9 1215.9 286.7 1200.0 292.5ZM1249.4 301.3 L1265.2 295.8 1248.5 288.6 1232.6 293.9ZM1265.2 295.8 L1281.0 290.8 1264.3 283.6 1248.5 288.6ZM1281.0 290.8 L1296.7 286.3 1279.9 279.2 1264.3 283.6Z"/>
<path fill="#ffd000" stroke="#ffd000" d="M923.0 290.4 L939.7 281.4 924.0 274.7 907.3 283.6ZM971.4 295.1 L988.1 286.5 972.1 279.6 955.5 288.2ZM1052.9 299.2 L1069.4 291.3 1053.1 284.3 1036.7 292.1ZM1085.7 298.4 L1102.0 290.9 1085.7 283.9 1069.4 291.3ZM1118.4 298.1 L1134.7 291.0 1118.3 283.9 1102.0 290.9ZM1151.1 298.2 L1167.3 291.6 1150.8 284.4 1134.7 291.0ZM1183.9 298.8 L1200.0 292.5 1183.4 285.4 1167.3 291.6ZM1200.0 292.5 L1215.9 286.7 1199.4 279.6 1183.4 285.4ZM1232.6 293.9 L1248.5 288.6 1231.8 281.4 1215.9 286.7ZM1248.5 288.6 L1264.3 283.6 1247.6 276.5 1231.8 281.4ZM1264.3 283.6 L1279.9 279.2 1263.3 272.1 1247.6 276.5Z"/>
<path fill="#ffcc00" stroke="#ffcc00" d="M955.5 288.2 L972.1 279.6 956.3 272.9 939.7 281.4ZM1004.1 293.4 L1020.6 285.2 1004.6 278.3 988.1 286.5ZM1036.7 292.1 L1053.1 284.3 1037.0 277.4 1020.6 285.2ZM1069.4 291.3 L1085.7 283.9 1069.5 277.0 1053.1 284.3ZM1102.0 290.9 L1118.3 283.9 1102.0 277.0 1085.7 283.9ZM1134.7 291.0 L1150.8 284.4 1134.4 277.4 1118.3 283.9ZM1167.3 291.6 L1183.4 285.4 1166.9 278.3 1150.8 284.4ZM1215.9 286.7 L1231.8 281.4 1215.2 274.3 1199.4 279.6ZM1231.8 281.4 L1247.6 276.5 1231.0 269.5 1215.2 274.3ZM1247.6 276.5 L1263.3 272.1 1246.7 265.1 1231.0 269.5Z"/>
<path fill="#ffc800" stroke="#ffc800" d="M939.7 281.4 L956.3 272.9 940.6 266.2 924.0 274.7ZM988.1 286.5 L1004.6 278.3 988.6 271.5 972.1 279.6ZM1020.6 285.2 L1037.0 277.4 1021.0 270.6 1004.6 278.3ZM1053.1 284.3 L1069.5 277.0 1053.4 270.1 1037.0 277.4ZM1085.7 283.9 L1102.0 277.0 1085.8 270.1 1069.5 277.0ZM1118.3 283.9 L1134.4 277.4 1118.1 270.5 1102.0 277.0ZM1150.8 284.4 L1166.9 278.3 1150.5 271.3 1134.4 277.4ZM1183.4 285.4 L1199.4 279.6 1182.9 272.6 1166.9 278.3ZM1199.4 279.6 L1215.2 274.3 1198.8 267.4 1182.9 272.6ZM1215.2 274.3 L1231.0 269.5 1214.6 262.6 1198.8 267.4ZM1231.0 269.5 L1246.7 265.1 1230.3 258.3 1214.6 262.6Z"/>
<path fill="#ffc400" stroke="#ffc400" d="M972.1 279.6 L988.6 271.5 972.8 264.8 956.3 272.9ZM956.3 272.9 L972.8 264.8 957.1 258.2 940.6 266.2ZM1004.6 278.3 L1021.0 270.6 1005.1 263.9 988.6 271.5ZM1037.0 277.4 L1053.4 270.1 1037.4 263.3 1021.0 270.6ZM1069.5 277.0 L1085.8 270.1 1069.6 263.3 1053.4 270.1ZM1102.0 277.0 L1118.1 270.5 1101.9 263.6 1085.8 270.1ZM1134.4 277.4 L1150.5 271.3 1134.2 264.4 1118.1 270.5ZM1166.9 278.3 L1182.9 272.6 1166.5 265.7 1150.5 271.3ZM1182.9 272.6 L1198.8 267.4 1182.4 260.5 1166.5 265.7ZM1198.8 267.4 L1214.6 262.6 1198.2 255.8 1182.4 260.5ZM1214.6 262.6 L1230.3 258.3 1213.9 251.6 1198.2 255.8Z"/>
<path fill="#ffc000" stroke="#ffc000" d="M988.6 271.5 L1005.1 263.9 989.2 257.2 972.8 264.8ZM1021.0 270.6 L1037.4 263.3 1021.4 256.7 1005.1 263.9ZM1085.8 270.1 L1101.9 263.6 1085.8 256.9 1069.6 263.3ZM1118.1 270.5 L1134.2 264.4 1118.0 257.7 1101.9 263.6ZM1150.5 271.3 L1166.5 265.7 1150.2 258.9 1134.2 264.4ZM1166.5 265.7 L1182.4 260.5 1166.1 253.8 1150.2 258.9ZM1182.4 260.5 L1198.2 255.8 1181.9 249.1 1166.1 253.8ZM1198.2 255.8 L1213.9 251.6 1197.6 245.0 1181.9 249.1Z"/>
<path fill="#ffbc00" stroke="#ffbc00" d="M972.8 264.8 L989.2 257.2 973.5 250.7 957.1 258.2ZM1005.1 263.9 L1021.4 256.7 1005.6 250.1 989.2 257.2ZM1053.4 270.1 L1069.6 263.3 1053.6 256.6 1037.4 263.3ZM1069.6 263.3 L1085.8 256.9 1069.8 250.3 1053.6 256.6ZM1101.9 263.6 L1118.0 257.7 1101.9 251.0 1085.8 256.9ZM1134.2 264.4 L1150.2 258.9 1134.0 252.2 1118.0 257.7ZM1150.2 258.9 L1166.1 253.8 1149.9 247.1 1134.0 252.2ZM1166.1 253.8 L1181.9 249.1 1165.7 242.6 1149.9 247.1ZM1181.9 249.1 L1197.6 245.0 1181.4 238.5 1165.7 242.6Z"/>
<path fill="#ffb800" stroke="#ffb800" d="M989.2 257.2 L1005.6 250.1 989.8 243.7 973.5 250.7ZM1037.4 263.3 L1053.6 256.6 1037.7 250.0 1021.4 256.7ZM1021.4 256.7 L1037.7 250.0 1021.8 243.5 1005.6 250.1ZM1053.6 256.6 L1069.8 250.3 1053.9 243.8 1037.7 250.0ZM1085.8 256.9 L1101.9 251.0 1085.9 244.4 1069.8 250.3ZM1118.0 257.7 L1134.0 252.2 1117.9 245.6 1101.9 251.0ZM1134.0 252.2 L1149.9 247.1 1133.8 240.6 1117.9 245.6ZM1149.9 247.1 L1165.7 242.6 1149.6 236.2 1133.8 240.6ZM1165.7 242.6 L1181.4 238.5 1165.4 232.2 1149.6 236.2Z"/>
<path fill="#ffb400" stroke="#ffb400" d="M1005.6 250.1 L1021.8 243.5 1006.1 237.1 989.8 243.7ZM1037.7 250.0 L1053.9 243.8 1038.0 237.4 1021.8 243.5ZM1069.8 250.3 L1085.9 244.4 1070.0 238.0 1053.9 243.8ZM1101.9 251.0 L1117.9 245.6 1101.9 239.1 1085.9 244.4ZM1117.9 245.6 L1133.8 240.6 1117.8 234.3 1101.9 239.1ZM1133.8 240.6 L1149.6 236.2 1133.6 230.0 1117.8 234.3ZM1149.6 236.2 L1165.4 232.2 1149.4 226.2 1133.6 230.0Z"/>
<path fill="#ffb000" stroke="#ffb000" d="M1021.8 243.5 L1038.0 237.4 1022.3 231.1 1006.1 237.1ZM1053.9 243.8 L1070.0 238.0 1054.1 231.7 1038.0 237.4ZM1085.9 244.4 L1101.9 239.1 1086.0 232.8 1070.0 238.0ZM1101.9 239.1 L1117.8 234.3 1101.9 228.1 1086.0 232.8ZM1117.8 234.3 L1133.6 230.0 1117.7 224.0 1101.9 228.1ZM1133.6 230.0 L1149.4 226.2 1133.5 220.6 1117.7 224.0Z"/>
<path fill="#ffac00" stroke="#ffac00" d="M1038.0 237.4 L1054.1 231.7 1038.4 225.6 1022.3 231.1ZM1070.0 238.0 L1086.0 232.8 1070.1 226.6 1054.1 231.7ZM1086.0 232.8 L1101.9 228.1 1086.1 222.2 1070.1 226.6ZM1101.9 228.1 L1117.7 224.0 1102.0 218.4 1086.1 222.2ZM1117.7 224.0 L1133.5 220.6 1117.8 215.5 1102.0 218.4Z"/>
<path fill="#ffa800" stroke="#ffa800" d="M1054.1 231.7 L1070.1 226.6 1054.4 220.7 1038.4 225.6ZM1070.1 226.6 L1086.1 222.2 1070.4 216.6 1054.4 220.7ZM1086.1 222.2 L1102.0 218.4 1086.4 213.3 1070.4 216.6ZM1102.0 218.4 L1117.8 215.5 1102.3 211.2 1086.4 213.3Z"/>
</g>
<g fill="none" stroke="#000" stroke-opacity="0.8" stroke-width="2.4" stroke-linejoin="round">
<polyline points="1103.6,1196.5 1083.9,1182.2 1064.4,1168.1 1045.1,1154.2 1025.8,1140.4 1006.7,1126.7 987.7,1113.2 968.8,1099.9 950.1,1086.7 931.4,1073.6 912.9,1060.7 894.5,1048.0 876.3,1035.3 858.1,1022.9 840.0,1010.5 822.1,998.3 804.3,986.3 786.6,974.3 769.0,962.5 751.5,950.9 734.2,939.3 716.9,927.9 699.8,916.7 682.7,905.5 665.8,894.5 649.0,883.7 632.2,872.9 615.6,862.3 599.1,851.8 582.7,841.4 566.4,831.2 550.2,821.0 534.1,811.0 518.1,801.1 502.2,791.3 486.4,781.7 470.7,772.1 455.1,762.7 439.6,753.4 424.2,744.2 408.9,735.1"/>
<polyline points="1103.6,1196.5 1123.1,1168.5 1142.6,1141.1 1162.0,1114.3 1181.4,1088.1 1200.6,1062.6 1219.7,1037.6 1238.7,1013.2 1257.6,989.5 1276.5,966.3 1295.2,943.7 1313.8,921.7 1332.3,900.3 1350.7,879.5 1369.1,859.3 1387.3,839.7 1405.4,820.6 1423.4,802.1 1441.3,784.2 1459.0,766.9 1476.7,750.1 1494.3,733.9 1511.7,718.2 1529.1,703.2 1546.3,688.6 1563.4,674.6 1580.4,661.2 1597.3,648.3 1614.1,635.9 1630.8,624.1 1647.3,612.8 1663.7,602.1 1680.1,591.8 1696.3,582.1 1712.3,572.9 1728.3,564.2 1744.2,556.1 1759.9,548.4 1775.5,541.2 1791.0,534.6 1806.4,528.4"/>
<polyline points="1142.6,1141.1 1123.0,1127.1 1103.4,1113.3 1084.0,1099.6 1064.8,1086.1 1045.6,1072.7 1026.6,1059.5 1007.6,1046.4 988.9,1033.5 970.2,1020.7 951.6,1008.0 933.2,995.5 914.9,983.2 896.7,971.0 878.6,958.9 860.6,946.9 842.8,935.1 825.0,923.4 807.4,911.9 789.9,900.5 772.5,889.2 755.2,878.0 738.0,867.0 720.9,856.1 703.9,845.3 687.0,834.7 670.3,824.2 653.6,813.8 637.1,803.5 620.6,793.3 604.3,783.3 588.0,773.4 571.9,763.6 555.8,753.9 539.9,744.4 524.0,734.9 508.3,725.6 492.6,716.4 477.1,707.3 461.6,698.3 446.3,689.4"/>
<polyline points="1064.4,1168.1 1084.0,1140.4 1103.4,1113.3 1122.8,1086.8 1142.1,1060.9 1161.3,1035.6 1180.4,1010.9 1199.4,986.7 1218.3,963.2 1237.1,940.3 1255.8,918.0 1274.4,896.2 1292.9,875.1 1311.3,854.5 1329.6,834.5 1347.8,815.1 1365.9,796.3 1383.9,778.0 1401.8,760.3 1419.5,743.2 1437.2,726.6 1454.8,710.6 1472.2,695.1 1489.6,680.2 1506.8,665.9 1523.9,652.1 1540.9,638.8 1557.8,626.1 1574.6,613.9 1591.3,602.3 1607.9,591.2 1624.3,580.6 1640.7,570.5 1656.9,561.0 1673.0,551.9 1689.0,543.4 1704.9,535.4 1720.6,527.8 1736.3,520.8 1751.8,514.3 1767.2,508.2"/>
<polyline points="1181.4,1088.1 1161.7,1074.4 1142.1,1060.9 1122.7,1047.5 1103.3,1034.2 1084.1,1021.1 1065.1,1008.1 1046.1,995.3 1027.3,982.6 1008.6,970.1 990.0,957.7 971.5,945.5 953.2,933.4 934.9,921.4 916.8,909.5 898.8,897.8 880.9,886.3 863.1,874.8 845.5,863.5 827.9,852.3 810.5,841.3 793.1,830.4 775.9,819.6 758.8,808.9 741.7,798.4 724.8,787.9 708.0,777.6 691.3,767.5 674.7,757.4 658.2,747.5 641.8,737.7 625.6,728.0 609.4,718.4 593.3,708.9 577.3,699.6 561.4,690.4 545.6,681.2 529.9,672.2 514.3,663.3 498.8,654.6 483.4,645.9"/>
<polyline points="1025.8,1140.4 1045.3,1112.9 1064.8,1086.1 1084.1,1059.9 1103.3,1034.2 1122.5,1009.2 1141.6,984.7 1160.5,960.9 1179.4,937.6 1198.2,914.9 1216.9,892.8 1235.5,871.3 1253.9,850.4 1272.3,830.1 1290.6,810.3 1308.8,791.1 1326.9,772.5 1344.9,754.4 1362.7,736.9 1380.5,720.0 1398.2,703.6 1415.7,687.8 1433.2,672.6 1450.5,657.9 1467.8,643.7 1484.9,630.1 1501.9,617.0 1518.9,604.5 1535.7,592.5 1552.3,581.0 1568.9,570.0 1585.4,559.6 1601.7,549.7 1618.0,540.3 1634.1,531.4 1650.1,523.0 1666.0,515.1 1681.8,507.7 1697.5,500.8 1713.1,494.5 1728.5,488.5"/>
<polyline points="1219.7,1037.6 1200.0,1024.1 1180.4,1010.9 1160.9,997.7 1141.6,984.7 1122.3,971.9 1103.2,959.2 1084.3,946.6 1065.4,934.2 1046.7,921.9 1028.0,909.7 1009.5,897.7 991.1,885.9 972.9,874.1 954.7,862.5 936.7,851.0 918.7,839.7 900.9,828.5 883.2,817.4 865.6,806.5 848.1,795.6 830.8,785.0 813.5,774.4 796.3,763.9 779.3,753.6 762.3,743.4 745.5,733.3 728.8,723.4 712.1,713.5 695.6,703.8 679.2,694.2 662.8,684.7 646.6,675.4 630.5,666.1 614.4,657.0 598.5,647.9 582.7,639.0 566.9,630.2 551.3,621.5 535.7,612.9 520.3,604.4"/>
<polyline points="987.7,1113.2 1007.2,1086.1 1026.6,1059.5 1045.9,1033.5 1065.1,1008.1 1084.2,983.4 1103.2,959.2 1122.2,935.6 1141.0,912.5 1159.8,890.1 1178.4,868.2 1197.0,847.0 1215.5,826.3 1233.8,806.2 1252.1,786.6 1270.3,767.6 1288.4,749.2 1306.3,731.4 1324.2,714.1 1342.0,697.4 1359.6,681.2 1377.2,665.6 1394.6,650.5 1412.0,636.0 1429.2,622.0 1446.4,608.6 1463.4,595.7 1480.3,583.3 1497.1,571.5 1513.8,560.2 1530.4,549.4 1546.9,539.1 1563.3,529.3 1579.5,520.1 1595.7,511.3 1611.7,503.1 1627.6,495.4 1643.5,488.1 1659.2,481.4 1674.7,475.1 1690.2,469.3"/>
<polyline points="1257.6,989.5 1237.9,976.3 1218.3,963.2 1198.8,950.3 1179.4,937.6 1160.2,925.0 1141.0,912.5 1122.0,900.2 1103.1,888.0 1084.4,876.0 1065.7,864.1 1047.2,852.3 1028.8,840.7 1010.5,829.2 992.3,817.8 974.2,806.5 956.2,795.4 938.4,784.4 920.7,773.6 903.0,762.9 885.5,752.3 868.1,741.8 850.8,731.4 833.6,721.2 816.5,711.1 799.5,701.1 782.7,691.2 765.9,681.5 749.2,671.9 732.6,662.3 716.2,652.9 699.8,643.7 683.5,634.5 667.4,625.4 651.3,616.5 635.3,607.6 619.5,598.9 603.7,590.3 588.0,581.8 572.4,573.4 556.9,565.1"/>
<polyline points="950.1,1086.7 969.5,1059.8 988.9,1033.5 1008.1,1007.8 1027.3,982.6 1046.4,958.1 1065.4,934.2 1084.3,910.8 1103.1,888.0 1121.9,865.8 1140.5,844.2 1159.0,823.2 1177.5,802.7 1195.8,782.8 1214.1,763.5 1232.3,744.7 1250.3,726.5 1268.3,708.9 1286.1,691.8 1303.9,675.3 1321.6,659.3 1339.1,643.9 1356.6,629.0 1373.9,614.6 1391.2,600.8 1408.3,587.6 1425.3,574.8 1442.3,562.6 1459.1,551.0 1475.8,539.8 1492.4,529.2 1508.9,519.1 1525.3,509.5 1541.5,500.4 1557.7,491.8 1573.8,483.7 1589.7,476.1 1605.5,468.9 1621.3,462.3 1636.9,456.2 1652.4,450.5"/>
<polyline points="1295.2,943.7 1275.4,930.8 1255.8,918.0 1236.3,905.3 1216.9,892.8 1197.6,880.5 1178.4,868.2 1159.4,856.2 1140.5,844.2 1121.7,832.4 1103.0,820.7 1084.5,809.2 1066.0,797.8 1047.7,786.5 1029.5,775.3 1011.4,764.3 993.4,753.4 975.5,742.7 957.8,732.0 940.1,721.5 922.5,711.1 905.1,700.8 887.8,690.7 870.5,680.7 853.4,670.8 836.4,661.0 819.5,651.3 802.7,641.8 786.0,632.3 769.4,623.0 752.9,613.8 736.5,604.7 720.2,595.7 704.0,586.9 687.9,578.1 671.9,569.5 656.0,560.9 640.2,552.5 624.4,544.2 608.8,536.0 593.3,527.9"/>
<polyline points="912.9,1060.7 932.3,1034.1 951.6,1008.0 970.9,982.6 990.0,957.7 1009.1,933.4 1028.0,909.7 1046.9,886.6 1065.7,864.1 1084.4,842.1 1103.0,820.7 1121.6,799.9 1140.0,779.7 1158.3,760.0 1176.6,740.9 1194.7,722.3 1212.7,704.3 1230.7,686.9 1248.5,670.0 1266.3,653.7 1283.9,637.9 1301.5,622.6 1318.9,607.9 1336.3,593.8 1353.5,580.2 1370.7,567.1 1387.7,554.5 1404.6,542.5 1421.5,531.0 1438.2,520.0 1454.8,509.5 1471.3,499.5 1487.7,490.1 1504.0,481.1 1520.2,472.6 1536.2,464.7 1552.2,457.2 1568.1,450.2 1583.8,443.8 1599.4,437.7 1615.0,432.2"/>
<polyline points="1332.3,900.3 1312.5,887.6 1292.9,875.1 1273.4,862.7 1253.9,850.4 1234.6,838.3 1215.5,826.3 1196.4,814.4 1177.5,802.7 1158.7,791.1 1140.0,779.7 1121.4,768.3 1102.9,757.1 1084.6,746.1 1066.3,735.1 1048.2,724.3 1030.2,713.6 1012.3,703.1 994.5,692.7 976.8,682.4 959.2,672.2 941.8,662.1 924.4,652.2 907.2,642.3 890.0,632.6 873.0,623.0 856.0,613.6 839.2,604.2 822.5,595.0 805.8,585.8 789.3,576.8 772.9,567.9 756.5,559.1 740.3,550.5 724.2,541.9 708.1,533.4 692.2,525.1 676.4,516.8 660.6,508.7 645.0,500.6 629.4,492.7"/>
<polyline points="876.3,1035.3 895.6,1009.0 914.9,983.2 934.1,958.0 953.2,933.4 972.2,909.3 991.1,885.9 1010.0,863.0 1028.8,840.7 1047.4,818.9 1066.0,797.8 1084.5,777.2 1102.9,757.1 1121.2,737.7 1139.5,718.8 1157.6,700.4 1175.6,682.6 1193.6,665.4 1211.4,648.7 1229.1,632.6 1246.8,617.0 1264.3,601.9 1281.8,587.4 1299.1,573.4 1316.3,560.0 1333.5,547.0 1350.5,534.6 1367.5,522.8 1384.3,511.4 1401.0,500.6 1417.6,490.2 1434.1,480.4 1450.6,471.1 1466.9,462.3 1483.1,454.0 1499.1,446.2 1515.1,438.8 1531.0,432.0 1546.8,425.6 1562.4,419.7 1578.0,414.3"/>
<polyline points="1369.1,859.3 1349.3,846.8 1329.6,834.5 1310.0,822.3 1290.6,810.3 1271.3,798.4 1252.1,786.6 1233.1,775.0 1214.1,763.5 1195.3,752.1 1176.6,740.9 1158.0,729.7 1139.5,718.8 1121.1,707.9 1102.8,697.2 1084.7,686.6 1066.7,676.1 1048.7,665.7 1030.9,655.5 1013.2,645.4 995.6,635.4 978.1,625.6 960.7,615.8 943.5,606.2 926.3,596.7 909.2,587.3 892.2,578.0 875.4,568.8 858.6,559.8 842.0,550.8 825.4,542.0 808.9,533.3 792.6,524.6 776.3,516.1 760.2,507.7 744.1,499.4 728.1,491.3 712.3,483.2 696.5,475.2 680.8,467.3 665.2,459.6"/>
<polyline points="840.0,1010.5 859.4,984.4 878.6,958.9 897.7,933.9 916.8,909.5 935.8,885.7 954.7,862.5 973.5,839.9 992.3,817.8 1010.9,796.3 1029.5,775.3 1048.0,755.0 1066.3,735.1 1084.6,715.9 1102.8,697.2 1120.9,679.0 1139.0,661.4 1156.9,644.4 1174.7,627.9 1192.4,611.9 1210.1,596.5 1227.6,581.7 1245.0,567.3 1262.4,553.5 1279.6,540.2 1296.8,527.5 1313.8,515.2 1330.7,503.5 1347.6,492.3 1364.3,481.7 1380.9,471.5 1397.4,461.8 1413.9,452.6 1430.2,444.0 1446.4,435.8 1462.5,428.1 1478.5,420.9 1494.4,414.2 1510.2,407.9 1525.8,402.2 1541.4,396.9"/>
<polyline points="1405.4,820.6 1385.6,808.4 1365.9,796.3 1346.3,784.3 1326.9,772.5 1307.6,760.8 1288.4,749.2 1269.3,737.8 1250.3,726.5 1231.5,715.3 1212.7,704.3 1194.1,693.4 1175.6,682.6 1157.2,672.0 1139.0,661.4 1120.8,651.0 1102.7,640.8 1084.8,630.6 1067.0,620.6 1049.2,610.6 1031.6,600.8 1014.1,591.2 996.7,581.6 979.4,572.2 962.2,562.8 945.1,553.6 928.1,544.5 911.2,535.5 894.5,526.6 877.8,517.9 861.2,509.2 844.7,500.7 828.3,492.2 812.0,483.9 795.8,475.7 779.8,467.5 763.8,459.5 747.9,451.6 732.0,443.8 716.3,436.1 700.7,428.5"/>
<polyline points="804.3,986.3 823.6,960.4 842.8,935.1 861.9,910.4 880.9,886.3 899.9,862.7 918.7,839.7 937.5,817.3 956.2,795.4 974.9,774.1 993.4,753.4 1011.8,733.3 1030.2,713.6 1048.5,694.6 1066.7,676.1 1084.7,658.2 1102.7,640.8 1120.6,623.9 1138.5,607.6 1156.2,591.8 1173.8,576.6 1191.3,561.9 1208.8,547.7 1226.1,534.1 1243.3,521.0 1260.5,508.4 1277.5,496.3 1294.4,484.8 1311.3,473.7 1328.0,463.2 1344.6,453.2 1361.2,443.6 1377.6,434.6 1393.9,426.1 1410.1,418.0 1426.2,410.5 1442.3,403.4 1458.2,396.8 1474.0,390.7 1489.7,385.0 1505.2,379.8"/>
<polyline points="1441.3,784.2 1421.4,772.2 1401.8,760.3 1382.2,748.6 1362.7,736.9 1343.4,725.5 1324.2,714.1 1305.1,702.9 1286.1,691.8 1267.3,680.8 1248.5,670.0 1229.9,659.3 1211.4,648.7 1193.0,638.2 1174.7,627.9 1156.5,617.7 1138.5,607.6 1120.5,597.6 1102.6,587.8 1084.9,578.0 1067.3,568.4 1049.7,558.9 1032.3,549.5 1015.0,540.3 997.8,531.1 980.7,522.1 963.7,513.2 946.8,504.3 930.0,495.6 913.2,487.0 896.6,478.5 880.1,470.2 863.7,461.9 847.4,453.7 831.2,445.7 815.1,437.7 799.1,429.8 783.1,422.1 767.3,414.4 751.6,406.9 735.9,399.4"/>
<polyline points="769.0,962.5 788.2,936.9 807.4,911.9 826.5,887.4 845.5,863.5 864.4,840.2 883.2,817.4 902.0,795.2 920.7,773.6 939.2,752.5 957.8,732.0 976.2,712.1 994.5,692.7 1012.8,673.8 1030.9,655.5 1049.0,637.8 1067.0,620.6 1084.9,603.9 1102.6,587.8 1120.4,572.2 1138.0,557.1 1155.5,542.6 1172.9,528.6 1190.2,515.1 1207.5,502.2 1224.6,489.8 1241.6,477.9 1258.6,466.5 1275.4,455.6 1292.1,445.2 1308.8,435.3 1325.3,425.9 1341.7,417.0 1358.1,408.6 1374.3,400.7 1390.4,393.3 1406.4,386.3 1422.4,379.8 1438.2,373.8 1453.9,368.3 1469.5,363.2"/>
<polyline points="1476.7,750.1 1456.9,738.3 1437.2,726.6 1417.6,715.1 1398.2,703.6 1378.9,692.4 1359.6,681.2 1340.5,670.2 1321.6,659.3 1302.7,648.5 1283.9,637.9 1265.3,627.4 1246.8,617.0 1228.4,606.7 1210.1,596.5 1191.9,586.5 1173.8,576.6 1155.8,566.8 1138.0,557.1 1120.2,547.6 1102.6,538.1 1085.0,528.8 1067.6,519.6 1050.2,510.5 1033.0,501.5 1015.9,492.7 998.9,483.9 981.9,475.2 965.1,466.7 948.4,458.3 931.8,449.9 915.2,441.7 898.8,433.6 882.5,425.6 866.2,417.7 850.1,409.9 834.1,402.2 818.1,394.6 802.3,387.1 786.5,379.7 770.8,372.4"/>
<polyline points="734.2,939.3 753.4,914.0 772.5,889.2 791.5,864.9 810.5,841.3 829.3,818.2 848.1,795.6 866.9,773.7 885.5,752.3 904.1,731.4 922.5,711.1 940.9,691.4 959.2,672.2 977.5,653.5 995.6,635.4 1013.7,617.9 1031.6,600.8 1049.5,584.4 1067.3,568.4 1085.0,553.0 1102.6,538.1 1120.1,523.8 1137.5,510.0 1154.8,496.7 1172.0,483.9 1189.1,471.6 1206.2,459.8 1223.1,448.6 1239.9,437.8 1256.7,427.6 1273.3,417.8 1289.8,408.6 1306.3,399.8 1322.6,391.6 1338.9,383.8 1355.0,376.5 1371.0,369.7 1387.0,363.3 1402.8,357.4 1418.5,352.0 1434.2,347.0"/>
<polyline points="1511.7,718.2 1491.9,706.6 1472.2,695.1 1452.7,683.8 1433.2,672.6 1413.9,661.5 1394.6,650.5 1375.5,639.7 1356.6,629.0 1337.7,618.4 1318.9,607.9 1300.3,597.6 1281.8,587.4 1263.3,577.3 1245.0,567.3 1226.8,557.5 1208.8,547.7 1190.8,538.1 1172.9,528.6 1155.1,519.2 1137.5,510.0 1119.9,500.8 1102.5,491.8 1085.1,482.8 1067.9,474.0 1050.7,465.3 1033.7,456.7 1016.8,448.2 999.9,439.8 983.2,431.5 966.5,423.4 950.0,415.3 933.6,407.3 917.2,399.5 901.0,391.7 884.8,384.1 868.7,376.5 852.8,369.0 836.9,361.7 821.1,354.4 805.4,347.3"/>
<polyline points="699.8,916.7 718.9,891.6 738.0,867.0 757.0,843.0 775.9,819.6 794.7,796.7 813.5,774.4 832.2,752.6 850.8,731.4 869.3,710.8 887.8,690.7 906.1,671.2 924.4,652.2 942.6,633.7 960.7,615.8 978.8,598.4 996.7,581.6 1014.6,565.3 1032.3,549.5 1050.0,534.3 1067.6,519.6 1085.1,505.4 1102.5,491.8 1119.8,478.6 1137.0,466.0 1154.1,453.9 1171.1,442.3 1188.1,431.2 1204.9,420.6 1221.6,410.5 1238.3,400.8 1254.8,391.7 1271.3,383.1 1287.6,375.0 1303.8,367.3 1320.0,360.1 1336.0,353.4 1352.0,347.2 1367.8,341.4 1383.6,336.1 1399.2,331.3"/>
<polyline points="1546.3,688.6 1526.5,677.2 1506.8,665.9 1487.2,654.7 1467.8,643.7 1448.5,632.8 1429.2,622.0 1410.1,611.4 1391.2,600.8 1372.3,590.4 1353.5,580.2 1334.9,570.0 1316.3,560.0 1297.9,550.0 1279.6,540.2 1261.4,530.6 1243.3,521.0 1225.3,511.5 1207.5,502.2 1189.7,493.0 1172.0,483.9 1154.4,474.9 1137.0,466.0 1119.6,457.2 1102.4,448.6 1085.2,440.0 1068.2,431.5 1051.2,423.2 1034.4,415.0 1017.6,406.8 1001.0,398.8 984.4,390.9 968.0,383.1 951.6,375.4 935.3,367.7 919.2,360.2 903.1,352.8 887.1,345.5 871.2,338.3 855.4,331.2 839.7,324.1"/>
<polyline points="665.8,894.5 684.9,869.7 703.9,845.3 722.9,821.6 741.7,798.4 760.6,775.7 779.3,753.6 797.9,732.1 816.5,711.1 835.0,690.7 853.4,670.8 871.8,651.4 890.0,632.6 908.2,614.4 926.3,596.7 944.3,579.5 962.2,562.8 980.0,546.7 997.8,531.1 1015.4,516.1 1033.0,501.5 1050.5,487.5 1067.9,474.0 1085.2,461.0 1102.4,448.6 1119.5,436.6 1136.5,425.1 1153.4,414.2 1170.3,403.7 1187.0,393.7 1203.6,384.3 1220.2,375.3 1236.6,366.8 1253.0,358.8 1269.2,351.2 1285.4,344.2 1301.4,337.6 1317.4,331.5 1333.2,325.8 1349.0,320.6 1364.7,315.9"/>
<polyline points="1580.4,661.2 1560.6,650.0 1540.9,638.8 1521.4,627.9 1501.9,617.0 1482.6,606.3 1463.4,595.7 1444.3,585.2 1425.3,574.8 1406.5,564.6 1387.7,554.5 1369.1,544.5 1350.5,534.6 1332.1,524.9 1313.8,515.2 1295.6,505.7 1277.5,496.3 1259.5,487.0 1241.6,477.9 1223.8,468.8 1206.2,459.8 1188.6,451.0 1171.1,442.3 1153.8,433.6 1136.5,425.1 1119.4,416.7 1102.3,408.4 1085.3,400.2 1068.5,392.1 1051.7,384.1 1035.1,376.3 1018.5,368.5 1002.0,360.8 985.6,353.2 969.4,345.7 953.2,338.4 937.1,331.1 921.1,323.9 905.2,316.8 889.4,309.8 873.7,302.9"/>
<polyline points="632.2,872.9 651.3,848.3 670.3,824.2 689.2,800.6 708.0,777.6 726.8,755.2 745.5,733.3 764.1,712.0 782.7,691.2 801.1,671.0 819.5,651.3 837.8,632.2 856.0,613.6 874.2,595.5 892.2,578.0 910.2,561.0 928.1,544.5 945.9,528.6 963.7,513.2 981.3,498.3 998.9,483.9 1016.3,470.0 1033.7,456.7 1051.0,443.9 1068.2,431.5 1085.3,419.7 1102.3,408.4 1119.2,397.6 1136.0,387.3 1152.8,377.5 1169.4,368.1 1186.0,359.3 1202.4,350.9 1218.8,343.0 1235.0,335.6 1251.2,328.6 1267.2,322.2 1283.2,316.2 1299.1,310.6 1314.8,305.5 1330.5,300.9"/>
<polyline points="1614.1,635.9 1594.3,624.9 1574.6,613.9 1555.1,603.1 1535.7,592.5 1516.3,581.9 1497.1,571.5 1478.0,561.2 1459.1,551.0 1440.2,540.9 1421.5,531.0 1402.8,521.1 1384.3,511.4 1365.9,501.8 1347.6,492.3 1329.4,483.0 1311.3,473.7 1293.3,464.6 1275.4,455.6 1257.6,446.6 1239.9,437.8 1222.4,429.1 1204.9,420.6 1187.5,412.1 1170.3,403.7 1153.1,395.4 1136.0,387.3 1119.1,379.2 1102.2,371.3 1085.4,363.4 1068.8,355.7 1052.2,348.0 1035.7,340.5 1019.3,333.0 1003.0,325.7 986.9,318.4 970.8,311.3 954.7,304.2 938.8,297.3 923.0,290.4 907.3,283.6"/>
<polyline points="599.1,851.8 618.1,827.4 637.1,803.5 655.9,780.2 674.7,757.4 693.5,735.2 712.1,713.5 730.7,692.4 749.2,671.9 767.6,651.8 786.0,632.3 804.3,613.4 822.5,595.0 840.6,577.1 858.6,559.8 876.6,542.9 894.5,526.6 912.2,510.9 930.0,495.6 947.6,480.9 965.1,466.7 982.6,453.0 999.9,439.8 1017.2,427.1 1034.4,415.0 1051.5,403.3 1068.5,392.1 1085.4,381.5 1102.2,371.3 1118.9,361.6 1135.6,352.4 1152.1,343.7 1168.6,335.4 1184.9,327.6 1201.2,320.3 1217.3,313.5 1233.4,307.2 1249.4,301.3 1265.2,295.8 1281.0,290.8 1296.7,286.3"/>
<polyline points="1647.3,612.8 1627.5,601.9 1607.9,591.2 1588.3,580.5 1568.9,570.0 1549.6,559.6 1530.4,549.4 1511.3,539.2 1492.4,529.2 1473.5,519.3 1454.8,509.5 1436.2,499.8 1417.6,490.2 1399.2,480.8 1380.9,471.5 1362.7,462.3 1344.6,453.2 1326.6,444.2 1308.8,435.3 1291.0,426.5 1273.3,417.8 1255.7,409.3 1238.3,400.8 1220.9,392.5 1203.6,384.3 1186.5,376.1 1169.4,368.1 1152.4,360.2 1135.6,352.4 1118.8,344.7 1102.1,337.0 1085.5,329.5 1069.1,322.1 1052.7,314.8 1036.4,307.6 1020.2,300.4 1004.1,293.4 988.1,286.5 972.1,279.6 956.3,272.9 940.6,266.2"/>
<polyline points="566.4,831.2 585.4,807.0 604.3,783.3 623.1,760.2 641.8,737.7 660.5,715.7 679.2,694.2 697.7,673.3 716.2,652.9 734.6,633.1 752.9,613.8 771.1,595.1 789.3,576.8 807.4,559.1 825.4,542.0 843.3,525.3 861.2,509.2 879.0,493.6 896.6,478.5 914.2,464.0 931.8,449.9 949.2,436.4 966.5,423.4 983.8,410.8 1001.0,398.8 1018.1,387.3 1035.1,376.3 1052.0,365.7 1068.8,355.7 1085.5,346.1 1102.1,337.0 1118.7,328.4 1135.1,320.3 1151.5,312.7 1167.7,305.5 1183.9,298.8 1200.0,292.5 1215.9,286.7 1231.8,281.4 1247.6,276.5 1263.3,272.1"/>
<polyline points="1680.1,591.8 1660.3,581.1 1640.7,570.5 1621.2,560.0 1601.7,549.7 1582.5,539.4 1563.3,529.3 1544.2,519.3 1525.3,509.5 1506.4,499.7 1487.7,490.1 1469.1,480.5 1450.6,471.1 1432.2,461.8 1413.9,452.6 1395.7,443.6 1377.6,434.6 1359.6,425.7 1341.7,417.0 1324.0,408.4 1306.3,399.8 1288.7,391.4 1271.3,383.1 1253.9,374.9 1236.6,366.8 1219.5,358.8 1202.4,350.9 1185.4,343.1 1168.6,335.4 1151.8,327.8 1135.1,320.3 1118.5,312.9 1102.0,305.6 1085.7,298.4 1069.4,291.3 1053.1,284.3 1037.0,277.4 1021.0,270.6 1005.1,263.9 989.2,257.2 973.5,250.7"/>
<polyline points="534.1,811.0 553.0,787.0 571.9,763.6 590.7,740.7 609.4,718.4 628.0,696.6 646.6,675.4 665.1,654.7 683.5,634.5 701.9,614.8 720.2,595.7 738.4,577.2 756.5,559.1 774.6,541.6 792.6,524.6 810.5,508.2 828.3,492.2 846.1,476.8 863.7,461.9 881.3,447.5 898.8,433.6 916.2,420.2 933.6,407.3 950.8,395.0 968.0,383.1 985.0,371.7 1002.0,360.8 1018.9,350.4 1035.7,340.5 1052.4,331.1 1069.1,322.1 1085.6,313.6 1102.0,305.6 1118.4,298.1 1134.7,291.0 1150.8,284.4 1166.9,278.3 1182.9,272.6 1198.8,267.4 1214.6,262.6 1230.3,258.3"/>
<polyline points="1712.3,572.9 1692.6,562.4 1673.0,551.9 1653.5,541.6 1634.1,531.4 1614.8,521.3 1595.7,511.3 1576.6,501.5 1557.7,491.8 1538.9,482.1 1520.2,472.6 1501.6,463.3 1483.1,454.0 1464.7,444.8 1446.4,435.8 1428.2,426.8 1410.1,418.0 1392.2,409.3 1374.3,400.7 1356.5,392.2 1338.9,383.8 1321.3,375.5 1303.8,367.3 1286.5,359.2 1269.2,351.2 1252.1,343.4 1235.0,335.6 1218.0,327.9 1201.2,320.3 1184.4,312.9 1167.7,305.5 1151.1,298.2 1134.7,291.0 1118.3,283.9 1102.0,277.0 1085.8,270.1 1069.6,263.3 1053.6,256.6 1037.7,250.0 1021.8,243.5 1006.1,237.1"/>
<polyline points="502.2,791.3 521.1,767.6 539.9,744.4 558.6,721.7 577.3,699.6 595.9,678.0 614.4,657.0 632.9,636.5 651.3,616.5 669.6,597.0 687.9,578.1 706.1,559.7 724.2,541.9 742.2,524.5 760.2,507.7 778.0,491.4 795.8,475.7 813.6,460.4 831.2,445.7 848.8,431.4 866.2,417.7 883.6,404.4 901.0,391.7 918.2,379.5 935.3,367.7 952.4,356.5 969.4,345.7 986.2,335.5 1003.0,325.7 1019.8,316.4 1036.4,307.6 1052.9,299.2 1069.4,291.3 1085.7,283.9 1102.0,277.0 1118.1,270.5 1134.2,264.4 1150.2,258.9 1166.1,253.8 1181.9,249.1 1197.6,245.0"/>
<polyline points="1744.2,556.1 1724.5,545.7 1704.9,535.4 1685.4,525.2 1666.0,515.1 1646.8,505.2 1627.6,495.4 1608.6,485.6 1589.7,476.1 1570.9,466.6 1552.2,457.2 1533.6,448.0 1515.1,438.8 1496.7,429.8 1478.5,420.9 1460.3,412.1 1442.3,403.4 1424.3,394.8 1406.4,386.3 1388.7,377.9 1371.0,369.7 1353.5,361.5 1336.0,353.4 1318.7,345.5 1301.4,337.6 1284.3,329.8 1267.2,322.2 1250.3,314.6 1233.4,307.2 1216.6,299.8 1200.0,292.5 1183.4,285.4 1166.9,278.3 1150.5,271.3 1134.2,264.4 1118.0,257.7 1101.9,251.0 1085.9,244.4 1070.0,238.0 1054.1,231.7 1038.4,225.6"/>
<polyline points="470.7,772.1 489.5,748.6 508.3,725.6 527.0,703.2 545.6,681.2 564.2,659.9 582.7,639.0 601.1,618.7 619.5,598.9 637.8,579.7 656.0,560.9 674.1,542.7 692.2,525.1 710.2,507.9 728.1,491.3 746.0,475.1 763.8,459.5 781.5,444.4 799.1,429.8 816.6,415.8 834.1,402.2 851.4,389.1 868.7,376.5 886.0,364.4 903.1,352.8 920.1,341.7 937.1,331.1 954.0,320.9 970.8,311.3 987.5,302.1 1004.1,293.4 1020.6,285.2 1037.0,277.4 1053.4,270.1 1069.6,263.3 1085.8,256.9 1101.9,251.0 1117.9,245.6 1133.8,240.6 1149.6,236.2 1165.4,232.2"/>
<polyline points="1775.5,541.2 1755.8,531.0 1736.3,520.8 1716.8,510.8 1697.5,500.8 1678.3,491.0 1659.2,481.4 1640.2,471.8 1621.3,462.3 1602.5,453.0 1583.8,443.8 1565.2,434.6 1546.8,425.6 1528.4,416.7 1510.2,407.9 1492.0,399.2 1474.0,390.7 1456.0,382.2 1438.2,373.8 1420.4,365.6 1402.8,357.4 1385.3,349.4 1367.8,341.4 1350.5,333.6 1333.2,325.8 1316.1,318.2 1299.1,310.6 1282.1,303.2 1265.2,295.8 1248.5,288.6 1231.8,281.4 1215.2,274.3 1198.8,267.4 1182.4,260.5 1166.1,253.8 1149.9,247.1 1133.8,240.6 1117.8,234.3 1101.9,228.1 1086.1,222.2 1070.4,216.6"/>
<polyline points="439.6,753.4 458.4,730.1 477.1,707.3 495.7,685.0 514.3,663.3 532.8,642.2 551.3,621.5 569.7,601.4 588.0,581.8 606.3,562.7 624.4,544.2 642.6,526.2 660.6,508.7 678.6,491.7 696.5,475.2 714.3,459.3 732.0,443.8 749.7,428.9 767.3,414.4 784.8,400.5 802.3,387.1 819.6,374.1 836.9,361.7 854.1,349.7 871.2,338.3 888.2,327.3 905.2,316.8 922.0,306.8 938.8,297.3 955.5,288.2 972.1,279.6 988.6,271.5 1005.1,263.9 1021.4,256.7 1037.7,250.0 1053.9,243.8 1070.0,238.0 1086.0,232.8 1101.9,228.1 1117.7,224.0 1133.5,220.6"/>
<polyline points="1806.4,528.4 1786.8,518.3 1767.2,508.2 1747.8,498.3 1728.5,488.5 1709.3,478.9 1690.2,469.3 1671.2,459.9 1652.4,450.5 1633.6,441.3 1615.0,432.2 1596.4,423.2 1578.0,414.3 1559.6,405.5 1541.4,396.9 1523.3,388.3 1505.2,379.8 1487.3,371.5 1469.5,363.2 1451.8,355.1 1434.2,347.0 1416.6,339.1 1399.2,331.3 1381.9,323.5 1364.7,315.9 1347.5,308.3 1330.5,300.9 1313.5,293.6 1296.7,286.3 1279.9,279.2 1263.3,272.1 1246.7,265.1 1230.3,258.3 1213.9,251.6 1197.6,245.0 1181.4,238.5 1165.4,232.2 1149.4,226.2 1133.5,220.6 1117.8,215.5 1102.3,211.2"/>
<polyline points="408.9,735.1 427.6,712.0 446.3,689.4 464.9,667.4 483.4,645.9 501.9,624.9 520.3,604.4 538.6,584.5 556.9,565.1 575.2,546.2 593.3,527.9 611.4,510.0 629.4,492.7 647.3,475.9 665.2,459.6 683.0,443.8 700.7,428.5 718.4,413.7 735.9,399.4 753.4,385.6 770.8,372.4 788.2,359.6 805.4,347.3 822.6,335.5 839.7,324.1 856.7,313.3 873.7,302.9 890.5,293.0 907.3,283.6 924.0,274.7 940.6,266.2 957.1,258.2 973.5,250.7 989.8,243.7 1006.1,237.1 1022.3,231.1 1038.4,225.6 1054.4,220.7 1070.4,216.6 1086.4,213.3 1102.3,211.2"/>
</g>
<g stroke="#5a0000" stroke-width="1.5" fill="#d40000">
<circle cx="1102.2" cy="538" r="13.5"/>
<ellipse cx="1809.5" cy="506" rx="14" ry="15.5"/>
<circle cx="1102.3" cy="1195" r="14"/>
</g>
<circle cx="406.3" cy="755.2" r="14" fill="#ffc4c8" stroke="#555" stroke-width="1.5"/>
<defs><linearGradient id="cb" x1="0" y1="0" x2="0" y2="1"><stop offset="0" stop-color="#9a9a9a"/><stop offset="0.01" stop-color="#1a1a1a"/><stop offset="0.022" stop-color="#1c0000"/><stop offset="0.038" stop-color="#ff1a00"/><stop offset="0.5" stop-color="#00f400"/><stop offset="0.963" stop-color="#0000ff"/><stop offset="0.977" stop-color="#000030"/><stop offset="0.989" stop-color="#2a2a2a"/><stop offset="1" stop-color="#bbb"/></linearGradient><linearGradient id="wb" x1="0" y1="0" x2="0" y2="1"><stop offset="0" stop-color="#fff" stop-opacity="0"/><stop offset="0.35" stop-color="#fff" stop-opacity="0.92"/><stop offset="0.65" stop-color="#fff" stop-opacity="0.92"/><stop offset="1" stop-color="#fff" stop-opacity="0"/></linearGradient><linearGradient id="le" x1="0" y1="0" x2="1" y2="0"><stop offset="0" stop-color="#000" stop-opacity="0.35"/><stop offset="0.4" stop-color="#000" stop-opacity="0.8"/><stop offset="1" stop-color="#000" stop-opacity="0"/></linearGradient></defs>
<rect x="1928" y="200" width="84" height="748" fill="url(#cb)"/>
<rect x="1926" y="204" width="10" height="738" fill="url(#le)"/>
<rect x="1936" y="370" width="74" height="30" fill="url(#wb)"/>
<rect x="1936" y="733" width="74" height="30" fill="url(#wb)"/>
<g font-family="Liberation Serif, serif" fill="#000">
<text x="173.6" y="180.0" font-size="50.0" textLength="161.3" lengthAdjust="spacingAndGlyphs" >1.1×10</text>
<text x="335.3" y="159.0" font-size="33.0" textLength="18.3" lengthAdjust="spacingAndGlyphs" >6</text>
<text x="180.2" y="335.4" font-size="50.0" textLength="161.2" lengthAdjust="spacingAndGlyphs" >1.0×10</text>
<text x="342.4" y="315.0" font-size="33.0" textLength="17.7" lengthAdjust="spacingAndGlyphs" >6</text>
<text x="184.6" y="484.8" font-size="50.0" textLength="163.4" lengthAdjust="spacingAndGlyphs" >9.0×10</text>
<text x="350.2" y="464.4" font-size="33.0" textLength="16.5" lengthAdjust="spacingAndGlyphs" >5</text>
<text x="193.3" y="628.8" font-size="50.0" textLength="161.3" lengthAdjust="spacingAndGlyphs" >8.0×10</text>
<text x="358.1" y="607.8" font-size="33.0" textLength="16.4" lengthAdjust="spacingAndGlyphs" >5</text>
<text x="195.1" y="783.4" font-size="50.0" textLength="162.1" lengthAdjust="spacingAndGlyphs" >7.0×10</text>
<text x="360.7" y="761.2" font-size="33.0" textLength="16.4" lengthAdjust="spacingAndGlyphs" >5</text>
<text x="203.8" y="928.9" font-size="50.0" textLength="162.6" lengthAdjust="spacingAndGlyphs" >6.0×10</text>
<text x="368.6" y="908.0" font-size="33.0" textLength="17.7" lengthAdjust="spacingAndGlyphs" >5</text>
<text x="343.9" y="1239.8" font-size="51.0" textLength="56.4" lengthAdjust="spacingAndGlyphs" >14</text>
<text x="513.0" y="1330.8" font-size="51.0" textLength="48.5" lengthAdjust="spacingAndGlyphs" >11</text>
<text x="708.0" y="1416.0" font-size="51.0" textLength="26.5" lengthAdjust="spacingAndGlyphs" >8</text>
<text x="878.0" y="1502.0" font-size="51.0" textLength="26.5" lengthAdjust="spacingAndGlyphs" >5</text>
<text x="1046.8" y="1592.8" font-size="51.0" textLength="28.4" lengthAdjust="spacingAndGlyphs" >2</text>
<text x="1128.5" y="1595.7" font-size="51.0" textLength="69.2" lengthAdjust="spacingAndGlyphs" >1.6</text>
<text x="1295.2" y="1507.6" font-size="51.0" textLength="74.6" lengthAdjust="spacingAndGlyphs" >2.4</text>
<text x="1463.6" y="1425.4" font-size="51.0" textLength="73.9" lengthAdjust="spacingAndGlyphs" >3.2</text>
<text x="1622.7" y="1343.3" font-size="51.0" textLength="75.6" lengthAdjust="spacingAndGlyphs" >4.0</text>
<text x="1801.0" y="1256.0" font-size="51.0" textLength="73.8" lengthAdjust="spacingAndGlyphs" >4.8</text>
<text x="37.5" y="1516.0" font-size="68.5" textLength="718.0" lengthAdjust="spacingAndGlyphs" >Scratching speed (μm/s)</text>
<text x="1442.0" y="1521.6" font-size="69.0" textLength="532.0" lengthAdjust="spacingAndGlyphs" >Normal load (μN)</text>
<text x="1701.0" y="125.1" font-size="60.0" textLength="483.0" lengthAdjust="spacingAndGlyphs" >Wear volume (nm</text>
<text x="2184.0" y="100.0" font-size="37.0" textLength="15.0" lengthAdjust="spacingAndGlyphs" >3</text>
<text x="2201.0" y="125.1" font-size="60.0" textLength="23.0" lengthAdjust="spacingAndGlyphs" >)</text>
<text x="0.0" y="0.0" font-size="75.0" textLength="362.0" lengthAdjust="spacingAndGlyphs" transform="translate(81.3,847.5) rotate(-90)">Wear volume</text>
<text x="0.0" y="0.0" font-size="75.0" textLength="94.0" lengthAdjust="spacingAndGlyphs" transform="translate(81.3,473) rotate(-90)">(nm</text>
<text x="0.0" y="0.0" font-size="42.0" textLength="21.0" lengthAdjust="spacingAndGlyphs" transform="translate(46,370) rotate(-90)">3</text>
<text x="0.0" y="0.0" font-size="75.0" textLength="24.0" lengthAdjust="spacingAndGlyphs" transform="translate(81.3,349) rotate(-90)">)</text>
<text x="2036.5" y="258.0" font-size="60.0" textLength="226.5" lengthAdjust="spacingAndGlyphs" >1.03×10</text>
<text x="2263.0" y="231.0" font-size="40.0" textLength="17.5" lengthAdjust="spacingAndGlyphs" >6</text>
<text x="2033.3" y="616.7" font-size="60.0" textLength="226.0" lengthAdjust="spacingAndGlyphs" >8.28×10</text>
<text x="2262.4" y="591.0" font-size="40.0" textLength="16.7" lengthAdjust="spacingAndGlyphs" >5</text>
<text x="2033.3" y="977.0" font-size="60.0" textLength="226.0" lengthAdjust="spacingAndGlyphs" >6.24×10</text>
<text x="2262.4" y="950.0" font-size="40.0" textLength="16.7" lengthAdjust="spacingAndGlyphs" >5</text>
</g>
</svg></body></html>
